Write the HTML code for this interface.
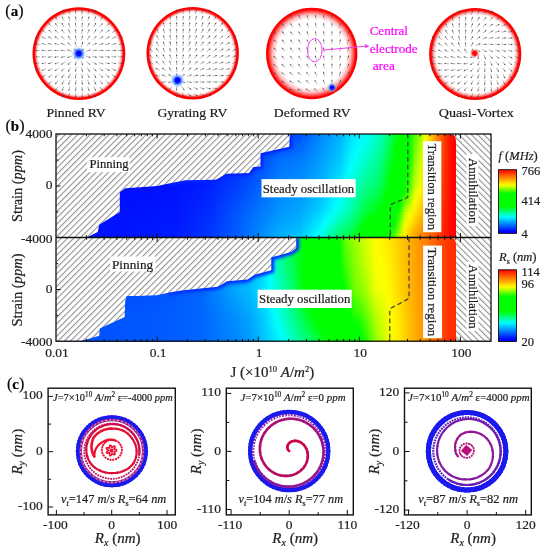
<!DOCTYPE html><html><head><meta charset="utf-8"><style>html,body{margin:0;padding:0;background:#fff;}svg{display:block;}text{font-family:'Liberation Serif', 'DejaVu Serif', serif;stroke:#1a1a1a;stroke-width:0.2px;}.mg text{stroke:#ff00ff;stroke-width:0.2px;}</style></head><body><svg width="543" height="550" viewBox="0 0 543 550"><defs><linearGradient id="g0" gradientUnits="userSpaceOnUse" x1="56" x2="491" y1="0" y2="0"><stop offset="0.000" stop-color="#000bff"/><stop offset="0.055" stop-color="#000cff"/><stop offset="0.110" stop-color="#000dff"/><stop offset="0.166" stop-color="#000eff"/><stop offset="0.221" stop-color="#000fff"/><stop offset="0.276" stop-color="#0010ff"/><stop offset="0.331" stop-color="#0015ff"/><stop offset="0.343" stop-color="#0016ff"/><stop offset="0.354" stop-color="#0016ff"/><stop offset="0.366" stop-color="#0018ff"/><stop offset="0.377" stop-color="#0019ff"/><stop offset="0.389" stop-color="#001aff"/><stop offset="0.400" stop-color="#001bff"/><stop offset="0.411" stop-color="#001cff"/><stop offset="0.423" stop-color="#001dff"/><stop offset="0.434" stop-color="#001fff"/><stop offset="0.446" stop-color="#0020ff"/><stop offset="0.457" stop-color="#0022ff"/><stop offset="0.469" stop-color="#0023ff"/><stop offset="0.480" stop-color="#0028ff"/><stop offset="0.492" stop-color="#002eff"/><stop offset="0.503" stop-color="#0034ff"/><stop offset="0.515" stop-color="#003bff"/><stop offset="0.526" stop-color="#0040ff"/><stop offset="0.538" stop-color="#0045ff"/><stop offset="0.549" stop-color="#004bff"/><stop offset="0.561" stop-color="#0050ff"/><stop offset="0.572" stop-color="#005eff"/><stop offset="0.584" stop-color="#006bff"/><stop offset="0.595" stop-color="#0079ff"/><stop offset="0.607" stop-color="#0086ff"/><stop offset="0.618" stop-color="#0091ff"/><stop offset="0.630" stop-color="#009dff"/><stop offset="0.641" stop-color="#00a8ff"/><stop offset="0.653" stop-color="#00b3ff"/><stop offset="0.664" stop-color="#00c9ff"/><stop offset="0.676" stop-color="#00dfff"/><stop offset="0.687" stop-color="#00eaff"/><stop offset="0.699" stop-color="#00f6ff"/><stop offset="0.710" stop-color="#00fffc"/><stop offset="0.722" stop-color="#00ffe7"/><stop offset="0.733" stop-color="#00ffd2"/><stop offset="0.745" stop-color="#00ffbc"/><stop offset="0.756" stop-color="#00ff91"/><stop offset="0.768" stop-color="#00ff66"/><stop offset="0.779" stop-color="#00ff1f"/><stop offset="0.791" stop-color="#00ff00"/><stop offset="0.802" stop-color="#00ff00"/><stop offset="0.814" stop-color="#00ff00"/><stop offset="0.825" stop-color="#52ff00"/><stop offset="0.837" stop-color="#97ff00"/><stop offset="0.848" stop-color="#eeff00"/><stop offset="0.860" stop-color="#ffd300"/><stop offset="0.871" stop-color="#ff9e00"/><stop offset="0.883" stop-color="#ff6a00"/><stop offset="0.894" stop-color="#ff3b00"/><stop offset="0.906" stop-color="#ff1100"/><stop offset="0.917" stop-color="#ff0000"/><stop offset="0.929" stop-color="#ff0000"/><stop offset="0.952" stop-color="#ff0000"/><stop offset="1.000" stop-color="#ff0000"/></linearGradient><linearGradient id="g1" gradientUnits="userSpaceOnUse" x1="56" x2="491" y1="0" y2="0"><stop offset="0.000" stop-color="#000bff"/><stop offset="0.055" stop-color="#000cff"/><stop offset="0.110" stop-color="#000dff"/><stop offset="0.166" stop-color="#000eff"/><stop offset="0.221" stop-color="#000fff"/><stop offset="0.276" stop-color="#0010ff"/><stop offset="0.331" stop-color="#0015ff"/><stop offset="0.343" stop-color="#0016ff"/><stop offset="0.354" stop-color="#0017ff"/><stop offset="0.366" stop-color="#0019ff"/><stop offset="0.377" stop-color="#001aff"/><stop offset="0.389" stop-color="#001bff"/><stop offset="0.400" stop-color="#001dff"/><stop offset="0.411" stop-color="#001eff"/><stop offset="0.423" stop-color="#0020ff"/><stop offset="0.434" stop-color="#0022ff"/><stop offset="0.446" stop-color="#0024ff"/><stop offset="0.457" stop-color="#0026ff"/><stop offset="0.469" stop-color="#0028ff"/><stop offset="0.480" stop-color="#002dff"/><stop offset="0.492" stop-color="#0034ff"/><stop offset="0.503" stop-color="#003aff"/><stop offset="0.515" stop-color="#0041ff"/><stop offset="0.526" stop-color="#0046ff"/><stop offset="0.538" stop-color="#004bff"/><stop offset="0.549" stop-color="#0050ff"/><stop offset="0.561" stop-color="#0055ff"/><stop offset="0.572" stop-color="#0062ff"/><stop offset="0.584" stop-color="#006fff"/><stop offset="0.595" stop-color="#007cff"/><stop offset="0.607" stop-color="#0089ff"/><stop offset="0.618" stop-color="#0094ff"/><stop offset="0.630" stop-color="#009fff"/><stop offset="0.641" stop-color="#00aaff"/><stop offset="0.653" stop-color="#00b5ff"/><stop offset="0.664" stop-color="#00cbff"/><stop offset="0.676" stop-color="#00e2ff"/><stop offset="0.687" stop-color="#00edff"/><stop offset="0.699" stop-color="#00f9ff"/><stop offset="0.710" stop-color="#00fff7"/><stop offset="0.722" stop-color="#00ffe1"/><stop offset="0.733" stop-color="#00ffcc"/><stop offset="0.745" stop-color="#00ffb7"/><stop offset="0.756" stop-color="#00ff8b"/><stop offset="0.768" stop-color="#00ff5f"/><stop offset="0.779" stop-color="#00ff18"/><stop offset="0.791" stop-color="#00ff00"/><stop offset="0.802" stop-color="#00ff00"/><stop offset="0.814" stop-color="#00ff00"/><stop offset="0.825" stop-color="#59ff00"/><stop offset="0.837" stop-color="#9cff00"/><stop offset="0.848" stop-color="#f2ff00"/><stop offset="0.860" stop-color="#ffd100"/><stop offset="0.871" stop-color="#ff9c00"/><stop offset="0.883" stop-color="#ff6800"/><stop offset="0.894" stop-color="#ff3a00"/><stop offset="0.906" stop-color="#ff1100"/><stop offset="0.917" stop-color="#ff0000"/><stop offset="0.929" stop-color="#ff0000"/><stop offset="0.952" stop-color="#ff0000"/><stop offset="1.000" stop-color="#ff0000"/></linearGradient><linearGradient id="g2" gradientUnits="userSpaceOnUse" x1="56" x2="491" y1="0" y2="0"><stop offset="0.000" stop-color="#000bff"/><stop offset="0.055" stop-color="#000cff"/><stop offset="0.110" stop-color="#000dff"/><stop offset="0.166" stop-color="#000eff"/><stop offset="0.221" stop-color="#000fff"/><stop offset="0.276" stop-color="#0010ff"/><stop offset="0.331" stop-color="#0015ff"/><stop offset="0.343" stop-color="#0017ff"/><stop offset="0.354" stop-color="#0018ff"/><stop offset="0.366" stop-color="#001aff"/><stop offset="0.377" stop-color="#001bff"/><stop offset="0.389" stop-color="#001dff"/><stop offset="0.400" stop-color="#001fff"/><stop offset="0.411" stop-color="#0020ff"/><stop offset="0.423" stop-color="#0022ff"/><stop offset="0.434" stop-color="#0025ff"/><stop offset="0.446" stop-color="#0028ff"/><stop offset="0.457" stop-color="#002aff"/><stop offset="0.469" stop-color="#002dff"/><stop offset="0.480" stop-color="#0032ff"/><stop offset="0.492" stop-color="#0039ff"/><stop offset="0.503" stop-color="#0040ff"/><stop offset="0.515" stop-color="#0048ff"/><stop offset="0.526" stop-color="#004cff"/><stop offset="0.538" stop-color="#0051ff"/><stop offset="0.549" stop-color="#0056ff"/><stop offset="0.561" stop-color="#005aff"/><stop offset="0.572" stop-color="#0067ff"/><stop offset="0.584" stop-color="#0073ff"/><stop offset="0.595" stop-color="#007fff"/><stop offset="0.607" stop-color="#008bff"/><stop offset="0.618" stop-color="#0097ff"/><stop offset="0.630" stop-color="#00a2ff"/><stop offset="0.641" stop-color="#00adff"/><stop offset="0.653" stop-color="#00b8ff"/><stop offset="0.664" stop-color="#00ceff"/><stop offset="0.676" stop-color="#00e4ff"/><stop offset="0.687" stop-color="#00f0ff"/><stop offset="0.699" stop-color="#00fcff"/><stop offset="0.710" stop-color="#00fff1"/><stop offset="0.722" stop-color="#00ffdc"/><stop offset="0.733" stop-color="#00ffc7"/><stop offset="0.745" stop-color="#00ffb1"/><stop offset="0.756" stop-color="#00ff85"/><stop offset="0.768" stop-color="#00ff58"/><stop offset="0.779" stop-color="#00ff11"/><stop offset="0.791" stop-color="#00ff00"/><stop offset="0.802" stop-color="#00ff00"/><stop offset="0.814" stop-color="#00ff00"/><stop offset="0.825" stop-color="#60ff00"/><stop offset="0.837" stop-color="#a2ff00"/><stop offset="0.848" stop-color="#f7ff00"/><stop offset="0.860" stop-color="#ffce00"/><stop offset="0.871" stop-color="#ff9a00"/><stop offset="0.883" stop-color="#ff6700"/><stop offset="0.894" stop-color="#ff3900"/><stop offset="0.906" stop-color="#ff1000"/><stop offset="0.917" stop-color="#ff0000"/><stop offset="0.929" stop-color="#ff0000"/><stop offset="0.952" stop-color="#ff0000"/><stop offset="1.000" stop-color="#ff0000"/></linearGradient><linearGradient id="g3" gradientUnits="userSpaceOnUse" x1="56" x2="491" y1="0" y2="0"><stop offset="0.000" stop-color="#000bff"/><stop offset="0.055" stop-color="#000cff"/><stop offset="0.110" stop-color="#000dff"/><stop offset="0.166" stop-color="#000eff"/><stop offset="0.221" stop-color="#000fff"/><stop offset="0.276" stop-color="#0010ff"/><stop offset="0.331" stop-color="#0016ff"/><stop offset="0.343" stop-color="#0017ff"/><stop offset="0.354" stop-color="#0018ff"/><stop offset="0.366" stop-color="#001aff"/><stop offset="0.377" stop-color="#001dff"/><stop offset="0.389" stop-color="#001fff"/><stop offset="0.400" stop-color="#0021ff"/><stop offset="0.411" stop-color="#0023ff"/><stop offset="0.423" stop-color="#0025ff"/><stop offset="0.434" stop-color="#0028ff"/><stop offset="0.446" stop-color="#002bff"/><stop offset="0.457" stop-color="#002fff"/><stop offset="0.469" stop-color="#0032ff"/><stop offset="0.480" stop-color="#0038ff"/><stop offset="0.492" stop-color="#003fff"/><stop offset="0.503" stop-color="#0047ff"/><stop offset="0.515" stop-color="#004eff"/><stop offset="0.526" stop-color="#0052ff"/><stop offset="0.538" stop-color="#0057ff"/><stop offset="0.549" stop-color="#005bff"/><stop offset="0.561" stop-color="#0060ff"/><stop offset="0.572" stop-color="#006bff"/><stop offset="0.584" stop-color="#0077ff"/><stop offset="0.595" stop-color="#0082ff"/><stop offset="0.607" stop-color="#008eff"/><stop offset="0.618" stop-color="#0099ff"/><stop offset="0.630" stop-color="#00a4ff"/><stop offset="0.641" stop-color="#00afff"/><stop offset="0.653" stop-color="#00baff"/><stop offset="0.664" stop-color="#00d1ff"/><stop offset="0.676" stop-color="#00e7ff"/><stop offset="0.687" stop-color="#00f3ff"/><stop offset="0.699" stop-color="#00fffe"/><stop offset="0.710" stop-color="#00ffec"/><stop offset="0.722" stop-color="#00ffd6"/><stop offset="0.733" stop-color="#00ffc1"/><stop offset="0.745" stop-color="#00ffac"/><stop offset="0.756" stop-color="#00ff7e"/><stop offset="0.768" stop-color="#00ff51"/><stop offset="0.779" stop-color="#00ff0a"/><stop offset="0.791" stop-color="#00ff00"/><stop offset="0.802" stop-color="#00ff00"/><stop offset="0.814" stop-color="#00ff00"/><stop offset="0.825" stop-color="#66ff00"/><stop offset="0.837" stop-color="#a7ff00"/><stop offset="0.848" stop-color="#fbff00"/><stop offset="0.860" stop-color="#ffcc00"/><stop offset="0.871" stop-color="#ff9800"/><stop offset="0.883" stop-color="#ff6500"/><stop offset="0.894" stop-color="#ff3800"/><stop offset="0.906" stop-color="#ff1000"/><stop offset="0.917" stop-color="#ff0000"/><stop offset="0.929" stop-color="#ff0000"/><stop offset="0.952" stop-color="#ff0000"/><stop offset="1.000" stop-color="#ff0000"/></linearGradient><linearGradient id="g4" gradientUnits="userSpaceOnUse" x1="56" x2="491" y1="0" y2="0"><stop offset="0.000" stop-color="#000bff"/><stop offset="0.055" stop-color="#000cff"/><stop offset="0.110" stop-color="#000dff"/><stop offset="0.166" stop-color="#000eff"/><stop offset="0.221" stop-color="#000fff"/><stop offset="0.276" stop-color="#0010ff"/><stop offset="0.331" stop-color="#0016ff"/><stop offset="0.343" stop-color="#0018ff"/><stop offset="0.354" stop-color="#0019ff"/><stop offset="0.366" stop-color="#001bff"/><stop offset="0.377" stop-color="#001eff"/><stop offset="0.389" stop-color="#0020ff"/><stop offset="0.400" stop-color="#0023ff"/><stop offset="0.411" stop-color="#0025ff"/><stop offset="0.423" stop-color="#0027ff"/><stop offset="0.434" stop-color="#002bff"/><stop offset="0.446" stop-color="#002fff"/><stop offset="0.457" stop-color="#0033ff"/><stop offset="0.469" stop-color="#0037ff"/><stop offset="0.480" stop-color="#003dff"/><stop offset="0.492" stop-color="#0045ff"/><stop offset="0.503" stop-color="#004dff"/><stop offset="0.515" stop-color="#0054ff"/><stop offset="0.526" stop-color="#0058ff"/><stop offset="0.538" stop-color="#005dff"/><stop offset="0.549" stop-color="#0061ff"/><stop offset="0.561" stop-color="#0065ff"/><stop offset="0.572" stop-color="#0070ff"/><stop offset="0.584" stop-color="#007bff"/><stop offset="0.595" stop-color="#0086ff"/><stop offset="0.607" stop-color="#0091ff"/><stop offset="0.618" stop-color="#009cff"/><stop offset="0.630" stop-color="#00a7ff"/><stop offset="0.641" stop-color="#00b2ff"/><stop offset="0.653" stop-color="#00bdff"/><stop offset="0.664" stop-color="#00d3ff"/><stop offset="0.676" stop-color="#00e9ff"/><stop offset="0.687" stop-color="#00f6ff"/><stop offset="0.699" stop-color="#00fff9"/><stop offset="0.710" stop-color="#00ffe6"/><stop offset="0.722" stop-color="#00ffd1"/><stop offset="0.733" stop-color="#00ffbc"/><stop offset="0.745" stop-color="#00ffa6"/><stop offset="0.756" stop-color="#00ff78"/><stop offset="0.768" stop-color="#00ff4a"/><stop offset="0.779" stop-color="#00ff03"/><stop offset="0.791" stop-color="#00ff00"/><stop offset="0.802" stop-color="#00ff00"/><stop offset="0.814" stop-color="#00ff00"/><stop offset="0.825" stop-color="#6dff00"/><stop offset="0.837" stop-color="#acff00"/><stop offset="0.848" stop-color="#ffff00"/><stop offset="0.860" stop-color="#ffc900"/><stop offset="0.871" stop-color="#ff9600"/><stop offset="0.883" stop-color="#ff6400"/><stop offset="0.894" stop-color="#ff3800"/><stop offset="0.906" stop-color="#ff1000"/><stop offset="0.917" stop-color="#ff0000"/><stop offset="0.929" stop-color="#ff0000"/><stop offset="0.952" stop-color="#ff0000"/><stop offset="1.000" stop-color="#ff0000"/></linearGradient><linearGradient id="g5" gradientUnits="userSpaceOnUse" x1="56" x2="491" y1="0" y2="0"><stop offset="0.000" stop-color="#000bff"/><stop offset="0.055" stop-color="#000cff"/><stop offset="0.110" stop-color="#000dff"/><stop offset="0.166" stop-color="#000eff"/><stop offset="0.221" stop-color="#000fff"/><stop offset="0.276" stop-color="#0010ff"/><stop offset="0.331" stop-color="#0017ff"/><stop offset="0.343" stop-color="#0018ff"/><stop offset="0.354" stop-color="#001aff"/><stop offset="0.366" stop-color="#001cff"/><stop offset="0.377" stop-color="#001fff"/><stop offset="0.389" stop-color="#0022ff"/><stop offset="0.400" stop-color="#0024ff"/><stop offset="0.411" stop-color="#0027ff"/><stop offset="0.423" stop-color="#002aff"/><stop offset="0.434" stop-color="#002eff"/><stop offset="0.446" stop-color="#0033ff"/><stop offset="0.457" stop-color="#0037ff"/><stop offset="0.469" stop-color="#003cff"/><stop offset="0.480" stop-color="#0042ff"/><stop offset="0.492" stop-color="#004bff"/><stop offset="0.503" stop-color="#0053ff"/><stop offset="0.515" stop-color="#005bff"/><stop offset="0.526" stop-color="#005fff"/><stop offset="0.538" stop-color="#0062ff"/><stop offset="0.549" stop-color="#0066ff"/><stop offset="0.561" stop-color="#006aff"/><stop offset="0.572" stop-color="#0074ff"/><stop offset="0.584" stop-color="#007fff"/><stop offset="0.595" stop-color="#0089ff"/><stop offset="0.607" stop-color="#0093ff"/><stop offset="0.618" stop-color="#009eff"/><stop offset="0.630" stop-color="#00a9ff"/><stop offset="0.641" stop-color="#00b4ff"/><stop offset="0.653" stop-color="#00c0ff"/><stop offset="0.664" stop-color="#00d6ff"/><stop offset="0.676" stop-color="#00ecff"/><stop offset="0.687" stop-color="#00f9ff"/><stop offset="0.699" stop-color="#00fff4"/><stop offset="0.710" stop-color="#00ffe1"/><stop offset="0.722" stop-color="#00ffcb"/><stop offset="0.733" stop-color="#00ffb6"/><stop offset="0.745" stop-color="#00ffa1"/><stop offset="0.756" stop-color="#00ff72"/><stop offset="0.768" stop-color="#00ff43"/><stop offset="0.779" stop-color="#00ff00"/><stop offset="0.791" stop-color="#00ff00"/><stop offset="0.802" stop-color="#00ff00"/><stop offset="0.814" stop-color="#00ff00"/><stop offset="0.825" stop-color="#74ff00"/><stop offset="0.837" stop-color="#b1ff00"/><stop offset="0.848" stop-color="#fffc00"/><stop offset="0.860" stop-color="#ffc700"/><stop offset="0.871" stop-color="#ff9400"/><stop offset="0.883" stop-color="#ff6200"/><stop offset="0.894" stop-color="#ff3700"/><stop offset="0.906" stop-color="#ff1000"/><stop offset="0.917" stop-color="#ff0000"/><stop offset="0.929" stop-color="#ff0000"/><stop offset="0.952" stop-color="#ff0000"/><stop offset="1.000" stop-color="#ff0000"/></linearGradient><linearGradient id="g6" gradientUnits="userSpaceOnUse" x1="56" x2="491" y1="0" y2="0"><stop offset="0.000" stop-color="#000bff"/><stop offset="0.055" stop-color="#000cff"/><stop offset="0.110" stop-color="#000dff"/><stop offset="0.166" stop-color="#000eff"/><stop offset="0.221" stop-color="#000fff"/><stop offset="0.276" stop-color="#0010ff"/><stop offset="0.331" stop-color="#0017ff"/><stop offset="0.343" stop-color="#0019ff"/><stop offset="0.354" stop-color="#001aff"/><stop offset="0.366" stop-color="#001dff"/><stop offset="0.377" stop-color="#0020ff"/><stop offset="0.389" stop-color="#0023ff"/><stop offset="0.400" stop-color="#0026ff"/><stop offset="0.411" stop-color="#0029ff"/><stop offset="0.423" stop-color="#002cff"/><stop offset="0.434" stop-color="#0031ff"/><stop offset="0.446" stop-color="#0037ff"/><stop offset="0.457" stop-color="#003cff"/><stop offset="0.469" stop-color="#0041ff"/><stop offset="0.480" stop-color="#0048ff"/><stop offset="0.492" stop-color="#0050ff"/><stop offset="0.503" stop-color="#0059ff"/><stop offset="0.515" stop-color="#0061ff"/><stop offset="0.526" stop-color="#0065ff"/><stop offset="0.538" stop-color="#0068ff"/><stop offset="0.549" stop-color="#006cff"/><stop offset="0.561" stop-color="#006fff"/><stop offset="0.572" stop-color="#0079ff"/><stop offset="0.584" stop-color="#0082ff"/><stop offset="0.595" stop-color="#008cff"/><stop offset="0.607" stop-color="#0096ff"/><stop offset="0.618" stop-color="#00a1ff"/><stop offset="0.630" stop-color="#00acff"/><stop offset="0.641" stop-color="#00b7ff"/><stop offset="0.653" stop-color="#00c2ff"/><stop offset="0.664" stop-color="#00d8ff"/><stop offset="0.676" stop-color="#00eeff"/><stop offset="0.687" stop-color="#00fcff"/><stop offset="0.699" stop-color="#00ffef"/><stop offset="0.710" stop-color="#00ffdb"/><stop offset="0.722" stop-color="#00ffc6"/><stop offset="0.733" stop-color="#00ffb0"/><stop offset="0.745" stop-color="#00ff9b"/><stop offset="0.756" stop-color="#00ff6c"/><stop offset="0.768" stop-color="#00ff3c"/><stop offset="0.779" stop-color="#00ff00"/><stop offset="0.791" stop-color="#00ff00"/><stop offset="0.802" stop-color="#00ff00"/><stop offset="0.814" stop-color="#00ff00"/><stop offset="0.825" stop-color="#7bff00"/><stop offset="0.837" stop-color="#b6ff00"/><stop offset="0.848" stop-color="#fffa00"/><stop offset="0.860" stop-color="#ffc400"/><stop offset="0.871" stop-color="#ff9200"/><stop offset="0.883" stop-color="#ff6100"/><stop offset="0.894" stop-color="#ff3600"/><stop offset="0.906" stop-color="#ff0f00"/><stop offset="0.917" stop-color="#ff0000"/><stop offset="0.929" stop-color="#ff0000"/><stop offset="0.952" stop-color="#ff0000"/><stop offset="1.000" stop-color="#ff0000"/></linearGradient><linearGradient id="g7" gradientUnits="userSpaceOnUse" x1="56" x2="491" y1="0" y2="0"><stop offset="0.000" stop-color="#000bff"/><stop offset="0.055" stop-color="#000cff"/><stop offset="0.110" stop-color="#000dff"/><stop offset="0.166" stop-color="#000eff"/><stop offset="0.221" stop-color="#000fff"/><stop offset="0.276" stop-color="#0010ff"/><stop offset="0.331" stop-color="#0018ff"/><stop offset="0.343" stop-color="#0019ff"/><stop offset="0.354" stop-color="#001bff"/><stop offset="0.366" stop-color="#001eff"/><stop offset="0.377" stop-color="#0022ff"/><stop offset="0.389" stop-color="#0025ff"/><stop offset="0.400" stop-color="#0028ff"/><stop offset="0.411" stop-color="#002cff"/><stop offset="0.423" stop-color="#002fff"/><stop offset="0.434" stop-color="#0035ff"/><stop offset="0.446" stop-color="#003aff"/><stop offset="0.457" stop-color="#0040ff"/><stop offset="0.469" stop-color="#0046ff"/><stop offset="0.480" stop-color="#004dff"/><stop offset="0.492" stop-color="#0056ff"/><stop offset="0.503" stop-color="#005fff"/><stop offset="0.515" stop-color="#0068ff"/><stop offset="0.526" stop-color="#006bff"/><stop offset="0.538" stop-color="#006eff"/><stop offset="0.549" stop-color="#0071ff"/><stop offset="0.561" stop-color="#0074ff"/><stop offset="0.572" stop-color="#007dff"/><stop offset="0.584" stop-color="#0086ff"/><stop offset="0.595" stop-color="#008fff"/><stop offset="0.607" stop-color="#0098ff"/><stop offset="0.618" stop-color="#00a3ff"/><stop offset="0.630" stop-color="#00aeff"/><stop offset="0.641" stop-color="#00baff"/><stop offset="0.653" stop-color="#00c5ff"/><stop offset="0.664" stop-color="#00dbff"/><stop offset="0.676" stop-color="#00f1ff"/><stop offset="0.687" stop-color="#00ffff"/><stop offset="0.699" stop-color="#00ffea"/><stop offset="0.710" stop-color="#00ffd5"/><stop offset="0.722" stop-color="#00ffc0"/><stop offset="0.733" stop-color="#00ffab"/><stop offset="0.745" stop-color="#00ff96"/><stop offset="0.756" stop-color="#00ff65"/><stop offset="0.768" stop-color="#00ff35"/><stop offset="0.779" stop-color="#00ff00"/><stop offset="0.791" stop-color="#00ff00"/><stop offset="0.802" stop-color="#00ff00"/><stop offset="0.814" stop-color="#02ff00"/><stop offset="0.825" stop-color="#82ff00"/><stop offset="0.837" stop-color="#bcff00"/><stop offset="0.848" stop-color="#fff700"/><stop offset="0.860" stop-color="#ffc200"/><stop offset="0.871" stop-color="#ff9000"/><stop offset="0.883" stop-color="#ff5f00"/><stop offset="0.894" stop-color="#ff3500"/><stop offset="0.906" stop-color="#ff0f00"/><stop offset="0.917" stop-color="#ff0000"/><stop offset="0.929" stop-color="#ff0000"/><stop offset="0.952" stop-color="#ff0000"/><stop offset="1.000" stop-color="#ff0000"/></linearGradient><linearGradient id="g8" gradientUnits="userSpaceOnUse" x1="56" x2="491" y1="0" y2="0"><stop offset="0.000" stop-color="#000bff"/><stop offset="0.055" stop-color="#000cff"/><stop offset="0.110" stop-color="#000dff"/><stop offset="0.166" stop-color="#000eff"/><stop offset="0.221" stop-color="#000fff"/><stop offset="0.276" stop-color="#0010ff"/><stop offset="0.331" stop-color="#0018ff"/><stop offset="0.343" stop-color="#001aff"/><stop offset="0.354" stop-color="#001cff"/><stop offset="0.366" stop-color="#001fff"/><stop offset="0.377" stop-color="#0023ff"/><stop offset="0.389" stop-color="#0027ff"/><stop offset="0.400" stop-color="#002aff"/><stop offset="0.411" stop-color="#002eff"/><stop offset="0.423" stop-color="#0032ff"/><stop offset="0.434" stop-color="#0038ff"/><stop offset="0.446" stop-color="#003eff"/><stop offset="0.457" stop-color="#0044ff"/><stop offset="0.469" stop-color="#004aff"/><stop offset="0.480" stop-color="#0052ff"/><stop offset="0.492" stop-color="#005cff"/><stop offset="0.503" stop-color="#0065ff"/><stop offset="0.515" stop-color="#006eff"/><stop offset="0.526" stop-color="#0071ff"/><stop offset="0.538" stop-color="#0074ff"/><stop offset="0.549" stop-color="#0077ff"/><stop offset="0.561" stop-color="#0079ff"/><stop offset="0.572" stop-color="#0082ff"/><stop offset="0.584" stop-color="#008aff"/><stop offset="0.595" stop-color="#0093ff"/><stop offset="0.607" stop-color="#009bff"/><stop offset="0.618" stop-color="#00a6ff"/><stop offset="0.630" stop-color="#00b1ff"/><stop offset="0.641" stop-color="#00bcff"/><stop offset="0.653" stop-color="#00c7ff"/><stop offset="0.664" stop-color="#00ddff"/><stop offset="0.676" stop-color="#00f4ff"/><stop offset="0.687" stop-color="#00fffa"/><stop offset="0.699" stop-color="#00ffe5"/><stop offset="0.710" stop-color="#00ffd0"/><stop offset="0.722" stop-color="#00ffbb"/><stop offset="0.733" stop-color="#00ffa5"/><stop offset="0.745" stop-color="#00ff90"/><stop offset="0.756" stop-color="#00ff5f"/><stop offset="0.768" stop-color="#00ff2e"/><stop offset="0.779" stop-color="#00ff00"/><stop offset="0.791" stop-color="#00ff00"/><stop offset="0.802" stop-color="#00ff00"/><stop offset="0.814" stop-color="#09ff00"/><stop offset="0.825" stop-color="#88ff00"/><stop offset="0.837" stop-color="#c1ff00"/><stop offset="0.848" stop-color="#fff500"/><stop offset="0.860" stop-color="#ffc000"/><stop offset="0.871" stop-color="#ff8e00"/><stop offset="0.883" stop-color="#ff5e00"/><stop offset="0.894" stop-color="#ff3400"/><stop offset="0.906" stop-color="#ff0f00"/><stop offset="0.917" stop-color="#ff0000"/><stop offset="0.929" stop-color="#ff0000"/><stop offset="0.952" stop-color="#ff0000"/><stop offset="1.000" stop-color="#ff0000"/></linearGradient><linearGradient id="g9" gradientUnits="userSpaceOnUse" x1="56" x2="491" y1="0" y2="0"><stop offset="0.000" stop-color="#000bff"/><stop offset="0.055" stop-color="#000cff"/><stop offset="0.110" stop-color="#000dff"/><stop offset="0.166" stop-color="#000eff"/><stop offset="0.221" stop-color="#000fff"/><stop offset="0.276" stop-color="#0010ff"/><stop offset="0.331" stop-color="#0018ff"/><stop offset="0.343" stop-color="#001aff"/><stop offset="0.354" stop-color="#001cff"/><stop offset="0.366" stop-color="#0020ff"/><stop offset="0.377" stop-color="#0024ff"/><stop offset="0.389" stop-color="#0028ff"/><stop offset="0.400" stop-color="#002cff"/><stop offset="0.411" stop-color="#0030ff"/><stop offset="0.423" stop-color="#0034ff"/><stop offset="0.434" stop-color="#003aff"/><stop offset="0.446" stop-color="#0040ff"/><stop offset="0.457" stop-color="#0047ff"/><stop offset="0.469" stop-color="#004dff"/><stop offset="0.480" stop-color="#0055ff"/><stop offset="0.492" stop-color="#005fff"/><stop offset="0.503" stop-color="#0068ff"/><stop offset="0.515" stop-color="#0071ff"/><stop offset="0.526" stop-color="#0074ff"/><stop offset="0.538" stop-color="#0077ff"/><stop offset="0.549" stop-color="#0079ff"/><stop offset="0.561" stop-color="#007cff"/><stop offset="0.572" stop-color="#0085ff"/><stop offset="0.584" stop-color="#008dff"/><stop offset="0.595" stop-color="#0095ff"/><stop offset="0.607" stop-color="#009dff"/><stop offset="0.618" stop-color="#00a9ff"/><stop offset="0.630" stop-color="#00b4ff"/><stop offset="0.641" stop-color="#00c0ff"/><stop offset="0.653" stop-color="#00cbff"/><stop offset="0.664" stop-color="#00e1ff"/><stop offset="0.676" stop-color="#00f7ff"/><stop offset="0.687" stop-color="#00fff4"/><stop offset="0.699" stop-color="#00ffdf"/><stop offset="0.710" stop-color="#00ffc9"/><stop offset="0.722" stop-color="#00ffb4"/><stop offset="0.733" stop-color="#00ff9f"/><stop offset="0.745" stop-color="#00ff8b"/><stop offset="0.756" stop-color="#00ff59"/><stop offset="0.768" stop-color="#00ff27"/><stop offset="0.779" stop-color="#00ff00"/><stop offset="0.791" stop-color="#00ff00"/><stop offset="0.802" stop-color="#00ff00"/><stop offset="0.814" stop-color="#10ff00"/><stop offset="0.825" stop-color="#8fff00"/><stop offset="0.837" stop-color="#c6ff00"/><stop offset="0.848" stop-color="#fff200"/><stop offset="0.860" stop-color="#ffbd00"/><stop offset="0.871" stop-color="#ff8b00"/><stop offset="0.883" stop-color="#ff5c00"/><stop offset="0.894" stop-color="#ff3300"/><stop offset="0.906" stop-color="#ff0f00"/><stop offset="0.917" stop-color="#ff0000"/><stop offset="0.929" stop-color="#ff0000"/><stop offset="0.952" stop-color="#ff0000"/><stop offset="1.000" stop-color="#ff0000"/></linearGradient><linearGradient id="g10" gradientUnits="userSpaceOnUse" x1="56" x2="491" y1="0" y2="0"><stop offset="0.000" stop-color="#000bff"/><stop offset="0.055" stop-color="#000cff"/><stop offset="0.110" stop-color="#000dff"/><stop offset="0.166" stop-color="#000eff"/><stop offset="0.221" stop-color="#000fff"/><stop offset="0.276" stop-color="#0010ff"/><stop offset="0.331" stop-color="#0019ff"/><stop offset="0.343" stop-color="#001bff"/><stop offset="0.354" stop-color="#001dff"/><stop offset="0.366" stop-color="#0021ff"/><stop offset="0.377" stop-color="#0025ff"/><stop offset="0.389" stop-color="#0029ff"/><stop offset="0.400" stop-color="#002dff"/><stop offset="0.411" stop-color="#0031ff"/><stop offset="0.423" stop-color="#0036ff"/><stop offset="0.434" stop-color="#003cff"/><stop offset="0.446" stop-color="#0043ff"/><stop offset="0.457" stop-color="#0049ff"/><stop offset="0.469" stop-color="#0050ff"/><stop offset="0.480" stop-color="#0058ff"/><stop offset="0.492" stop-color="#0061ff"/><stop offset="0.503" stop-color="#006aff"/><stop offset="0.515" stop-color="#0074ff"/><stop offset="0.526" stop-color="#0076ff"/><stop offset="0.538" stop-color="#0079ff"/><stop offset="0.549" stop-color="#007cff"/><stop offset="0.561" stop-color="#007fff"/><stop offset="0.572" stop-color="#0087ff"/><stop offset="0.584" stop-color="#008fff"/><stop offset="0.595" stop-color="#0098ff"/><stop offset="0.607" stop-color="#00a0ff"/><stop offset="0.618" stop-color="#00acff"/><stop offset="0.630" stop-color="#00b7ff"/><stop offset="0.641" stop-color="#00c3ff"/><stop offset="0.653" stop-color="#00cfff"/><stop offset="0.664" stop-color="#00e5ff"/><stop offset="0.676" stop-color="#00fbff"/><stop offset="0.687" stop-color="#00ffee"/><stop offset="0.699" stop-color="#00ffd8"/><stop offset="0.710" stop-color="#00ffc1"/><stop offset="0.722" stop-color="#00ffad"/><stop offset="0.733" stop-color="#00ff99"/><stop offset="0.745" stop-color="#00ff85"/><stop offset="0.756" stop-color="#00ff53"/><stop offset="0.768" stop-color="#00ff20"/><stop offset="0.779" stop-color="#00ff00"/><stop offset="0.791" stop-color="#00ff00"/><stop offset="0.802" stop-color="#00ff00"/><stop offset="0.814" stop-color="#17ff00"/><stop offset="0.825" stop-color="#96ff00"/><stop offset="0.837" stop-color="#cbff00"/><stop offset="0.848" stop-color="#fff000"/><stop offset="0.860" stop-color="#ffbb00"/><stop offset="0.871" stop-color="#ff8900"/><stop offset="0.883" stop-color="#ff5b00"/><stop offset="0.894" stop-color="#ff3200"/><stop offset="0.906" stop-color="#ff0e00"/><stop offset="0.917" stop-color="#ff0000"/><stop offset="0.929" stop-color="#ff0000"/><stop offset="0.952" stop-color="#ff0000"/><stop offset="1.000" stop-color="#ff0000"/></linearGradient><linearGradient id="g11" gradientUnits="userSpaceOnUse" x1="56" x2="491" y1="0" y2="0"><stop offset="0.000" stop-color="#000bff"/><stop offset="0.055" stop-color="#000cff"/><stop offset="0.110" stop-color="#000dff"/><stop offset="0.166" stop-color="#000eff"/><stop offset="0.221" stop-color="#000fff"/><stop offset="0.276" stop-color="#0010ff"/><stop offset="0.331" stop-color="#0019ff"/><stop offset="0.343" stop-color="#001bff"/><stop offset="0.354" stop-color="#001eff"/><stop offset="0.366" stop-color="#0022ff"/><stop offset="0.377" stop-color="#0026ff"/><stop offset="0.389" stop-color="#002aff"/><stop offset="0.400" stop-color="#002fff"/><stop offset="0.411" stop-color="#0033ff"/><stop offset="0.423" stop-color="#0037ff"/><stop offset="0.434" stop-color="#003eff"/><stop offset="0.446" stop-color="#0045ff"/><stop offset="0.457" stop-color="#004cff"/><stop offset="0.469" stop-color="#0052ff"/><stop offset="0.480" stop-color="#005bff"/><stop offset="0.492" stop-color="#0064ff"/><stop offset="0.503" stop-color="#006dff"/><stop offset="0.515" stop-color="#0076ff"/><stop offset="0.526" stop-color="#0079ff"/><stop offset="0.538" stop-color="#007cff"/><stop offset="0.549" stop-color="#007fff"/><stop offset="0.561" stop-color="#0081ff"/><stop offset="0.572" stop-color="#008aff"/><stop offset="0.584" stop-color="#0092ff"/><stop offset="0.595" stop-color="#009aff"/><stop offset="0.607" stop-color="#00a3ff"/><stop offset="0.618" stop-color="#00afff"/><stop offset="0.630" stop-color="#00bbff"/><stop offset="0.641" stop-color="#00c7ff"/><stop offset="0.653" stop-color="#00d3ff"/><stop offset="0.664" stop-color="#00e9ff"/><stop offset="0.676" stop-color="#00ffff"/><stop offset="0.687" stop-color="#00ffe8"/><stop offset="0.699" stop-color="#00ffd1"/><stop offset="0.710" stop-color="#00ffba"/><stop offset="0.722" stop-color="#00ffa6"/><stop offset="0.733" stop-color="#00ff93"/><stop offset="0.745" stop-color="#00ff80"/><stop offset="0.756" stop-color="#00ff4c"/><stop offset="0.768" stop-color="#00ff19"/><stop offset="0.779" stop-color="#00ff00"/><stop offset="0.791" stop-color="#00ff00"/><stop offset="0.802" stop-color="#00ff00"/><stop offset="0.814" stop-color="#1dff00"/><stop offset="0.825" stop-color="#9dff00"/><stop offset="0.837" stop-color="#d0ff00"/><stop offset="0.848" stop-color="#ffed00"/><stop offset="0.860" stop-color="#ffb800"/><stop offset="0.871" stop-color="#ff8700"/><stop offset="0.883" stop-color="#ff5900"/><stop offset="0.894" stop-color="#ff3200"/><stop offset="0.906" stop-color="#ff0e00"/><stop offset="0.917" stop-color="#ff0000"/><stop offset="0.929" stop-color="#ff0000"/><stop offset="0.952" stop-color="#ff0000"/><stop offset="1.000" stop-color="#ff0000"/></linearGradient><linearGradient id="g12" gradientUnits="userSpaceOnUse" x1="56" x2="491" y1="0" y2="0"><stop offset="0.000" stop-color="#000bff"/><stop offset="0.055" stop-color="#000cff"/><stop offset="0.110" stop-color="#000dff"/><stop offset="0.166" stop-color="#000eff"/><stop offset="0.221" stop-color="#000fff"/><stop offset="0.276" stop-color="#0010ff"/><stop offset="0.331" stop-color="#001aff"/><stop offset="0.343" stop-color="#001cff"/><stop offset="0.354" stop-color="#001eff"/><stop offset="0.366" stop-color="#0023ff"/><stop offset="0.377" stop-color="#0027ff"/><stop offset="0.389" stop-color="#002cff"/><stop offset="0.400" stop-color="#0030ff"/><stop offset="0.411" stop-color="#0035ff"/><stop offset="0.423" stop-color="#0039ff"/><stop offset="0.434" stop-color="#0040ff"/><stop offset="0.446" stop-color="#0047ff"/><stop offset="0.457" stop-color="#004eff"/><stop offset="0.469" stop-color="#0055ff"/><stop offset="0.480" stop-color="#005dff"/><stop offset="0.492" stop-color="#0066ff"/><stop offset="0.503" stop-color="#0070ff"/><stop offset="0.515" stop-color="#0079ff"/><stop offset="0.526" stop-color="#007cff"/><stop offset="0.538" stop-color="#007eff"/><stop offset="0.549" stop-color="#0081ff"/><stop offset="0.561" stop-color="#0084ff"/><stop offset="0.572" stop-color="#008cff"/><stop offset="0.584" stop-color="#0095ff"/><stop offset="0.595" stop-color="#009dff"/><stop offset="0.607" stop-color="#00a5ff"/><stop offset="0.618" stop-color="#00b2ff"/><stop offset="0.630" stop-color="#00beff"/><stop offset="0.641" stop-color="#00caff"/><stop offset="0.653" stop-color="#00d7ff"/><stop offset="0.664" stop-color="#00edff"/><stop offset="0.676" stop-color="#00fff9"/><stop offset="0.687" stop-color="#00ffe2"/><stop offset="0.699" stop-color="#00ffca"/><stop offset="0.710" stop-color="#00ffb3"/><stop offset="0.722" stop-color="#00ffa0"/><stop offset="0.733" stop-color="#00ff8d"/><stop offset="0.745" stop-color="#00ff7a"/><stop offset="0.756" stop-color="#00ff46"/><stop offset="0.768" stop-color="#00ff12"/><stop offset="0.779" stop-color="#00ff00"/><stop offset="0.791" stop-color="#00ff00"/><stop offset="0.802" stop-color="#00ff00"/><stop offset="0.814" stop-color="#24ff00"/><stop offset="0.825" stop-color="#a4ff00"/><stop offset="0.837" stop-color="#d5ff00"/><stop offset="0.848" stop-color="#ffeb00"/><stop offset="0.860" stop-color="#ffb600"/><stop offset="0.871" stop-color="#ff8500"/><stop offset="0.883" stop-color="#ff5800"/><stop offset="0.894" stop-color="#ff3100"/><stop offset="0.906" stop-color="#ff0e00"/><stop offset="0.917" stop-color="#ff0000"/><stop offset="0.929" stop-color="#ff0000"/><stop offset="0.952" stop-color="#ff0000"/><stop offset="1.000" stop-color="#ff0000"/></linearGradient><linearGradient id="g13" gradientUnits="userSpaceOnUse" x1="56" x2="491" y1="0" y2="0"><stop offset="0.000" stop-color="#000bff"/><stop offset="0.055" stop-color="#000cff"/><stop offset="0.110" stop-color="#000dff"/><stop offset="0.166" stop-color="#000eff"/><stop offset="0.221" stop-color="#000fff"/><stop offset="0.276" stop-color="#0010ff"/><stop offset="0.331" stop-color="#001aff"/><stop offset="0.343" stop-color="#001cff"/><stop offset="0.354" stop-color="#001fff"/><stop offset="0.366" stop-color="#0024ff"/><stop offset="0.377" stop-color="#0028ff"/><stop offset="0.389" stop-color="#002dff"/><stop offset="0.400" stop-color="#0032ff"/><stop offset="0.411" stop-color="#0037ff"/><stop offset="0.423" stop-color="#003bff"/><stop offset="0.434" stop-color="#0042ff"/><stop offset="0.446" stop-color="#0049ff"/><stop offset="0.457" stop-color="#0050ff"/><stop offset="0.469" stop-color="#0057ff"/><stop offset="0.480" stop-color="#0060ff"/><stop offset="0.492" stop-color="#0069ff"/><stop offset="0.503" stop-color="#0072ff"/><stop offset="0.515" stop-color="#007bff"/><stop offset="0.526" stop-color="#007eff"/><stop offset="0.538" stop-color="#0081ff"/><stop offset="0.549" stop-color="#0084ff"/><stop offset="0.561" stop-color="#0086ff"/><stop offset="0.572" stop-color="#008fff"/><stop offset="0.584" stop-color="#0097ff"/><stop offset="0.595" stop-color="#009fff"/><stop offset="0.607" stop-color="#00a8ff"/><stop offset="0.618" stop-color="#00b4ff"/><stop offset="0.630" stop-color="#00c1ff"/><stop offset="0.641" stop-color="#00ceff"/><stop offset="0.653" stop-color="#00daff"/><stop offset="0.664" stop-color="#00f1ff"/><stop offset="0.676" stop-color="#00fff4"/><stop offset="0.687" stop-color="#00ffdc"/><stop offset="0.699" stop-color="#00ffc3"/><stop offset="0.710" stop-color="#00ffab"/><stop offset="0.722" stop-color="#00ff99"/><stop offset="0.733" stop-color="#00ff87"/><stop offset="0.745" stop-color="#00ff74"/><stop offset="0.756" stop-color="#00ff40"/><stop offset="0.768" stop-color="#00ff0b"/><stop offset="0.779" stop-color="#00ff00"/><stop offset="0.791" stop-color="#00ff00"/><stop offset="0.802" stop-color="#00ff00"/><stop offset="0.814" stop-color="#2bff00"/><stop offset="0.825" stop-color="#abff00"/><stop offset="0.837" stop-color="#dbff00"/><stop offset="0.848" stop-color="#ffe800"/><stop offset="0.860" stop-color="#ffb300"/><stop offset="0.871" stop-color="#ff8300"/><stop offset="0.883" stop-color="#ff5600"/><stop offset="0.894" stop-color="#ff3000"/><stop offset="0.906" stop-color="#ff0e00"/><stop offset="0.917" stop-color="#ff0000"/><stop offset="0.929" stop-color="#ff0000"/><stop offset="0.952" stop-color="#ff0000"/><stop offset="1.000" stop-color="#ff0000"/></linearGradient><linearGradient id="g14" gradientUnits="userSpaceOnUse" x1="56" x2="491" y1="0" y2="0"><stop offset="0.000" stop-color="#000bff"/><stop offset="0.055" stop-color="#000cff"/><stop offset="0.110" stop-color="#000dff"/><stop offset="0.166" stop-color="#000eff"/><stop offset="0.221" stop-color="#000fff"/><stop offset="0.276" stop-color="#0010ff"/><stop offset="0.331" stop-color="#001bff"/><stop offset="0.343" stop-color="#001dff"/><stop offset="0.354" stop-color="#001fff"/><stop offset="0.366" stop-color="#0024ff"/><stop offset="0.377" stop-color="#0029ff"/><stop offset="0.389" stop-color="#002eff"/><stop offset="0.400" stop-color="#0033ff"/><stop offset="0.411" stop-color="#0038ff"/><stop offset="0.423" stop-color="#003dff"/><stop offset="0.434" stop-color="#0044ff"/><stop offset="0.446" stop-color="#004cff"/><stop offset="0.457" stop-color="#0053ff"/><stop offset="0.469" stop-color="#005aff"/><stop offset="0.480" stop-color="#0062ff"/><stop offset="0.492" stop-color="#006bff"/><stop offset="0.503" stop-color="#0075ff"/><stop offset="0.515" stop-color="#007eff"/><stop offset="0.526" stop-color="#0081ff"/><stop offset="0.538" stop-color="#0084ff"/><stop offset="0.549" stop-color="#0086ff"/><stop offset="0.561" stop-color="#0089ff"/><stop offset="0.572" stop-color="#0091ff"/><stop offset="0.584" stop-color="#009aff"/><stop offset="0.595" stop-color="#00a2ff"/><stop offset="0.607" stop-color="#00aaff"/><stop offset="0.618" stop-color="#00b7ff"/><stop offset="0.630" stop-color="#00c4ff"/><stop offset="0.641" stop-color="#00d1ff"/><stop offset="0.653" stop-color="#00deff"/><stop offset="0.664" stop-color="#00f4ff"/><stop offset="0.676" stop-color="#00ffee"/><stop offset="0.687" stop-color="#00ffd6"/><stop offset="0.699" stop-color="#00ffbd"/><stop offset="0.710" stop-color="#00ffa4"/><stop offset="0.722" stop-color="#00ff92"/><stop offset="0.733" stop-color="#00ff81"/><stop offset="0.745" stop-color="#00ff6f"/><stop offset="0.756" stop-color="#00ff3a"/><stop offset="0.768" stop-color="#00ff04"/><stop offset="0.779" stop-color="#00ff00"/><stop offset="0.791" stop-color="#00ff00"/><stop offset="0.802" stop-color="#00ff00"/><stop offset="0.814" stop-color="#32ff00"/><stop offset="0.825" stop-color="#b1ff00"/><stop offset="0.837" stop-color="#e0ff00"/><stop offset="0.848" stop-color="#ffe600"/><stop offset="0.860" stop-color="#ffb100"/><stop offset="0.871" stop-color="#ff8100"/><stop offset="0.883" stop-color="#ff5500"/><stop offset="0.894" stop-color="#ff2f00"/><stop offset="0.906" stop-color="#ff0d00"/><stop offset="0.917" stop-color="#ff0000"/><stop offset="0.929" stop-color="#ff0000"/><stop offset="0.952" stop-color="#ff0000"/><stop offset="1.000" stop-color="#ff0000"/></linearGradient><linearGradient id="g15" gradientUnits="userSpaceOnUse" x1="56" x2="491" y1="0" y2="0"><stop offset="0.000" stop-color="#000bff"/><stop offset="0.055" stop-color="#000cff"/><stop offset="0.110" stop-color="#000dff"/><stop offset="0.166" stop-color="#000eff"/><stop offset="0.221" stop-color="#000fff"/><stop offset="0.276" stop-color="#0010ff"/><stop offset="0.331" stop-color="#001bff"/><stop offset="0.343" stop-color="#001eff"/><stop offset="0.354" stop-color="#0020ff"/><stop offset="0.366" stop-color="#0025ff"/><stop offset="0.377" stop-color="#002aff"/><stop offset="0.389" stop-color="#0030ff"/><stop offset="0.400" stop-color="#0035ff"/><stop offset="0.411" stop-color="#003aff"/><stop offset="0.423" stop-color="#003fff"/><stop offset="0.434" stop-color="#0046ff"/><stop offset="0.446" stop-color="#004eff"/><stop offset="0.457" stop-color="#0055ff"/><stop offset="0.469" stop-color="#005cff"/><stop offset="0.480" stop-color="#0065ff"/><stop offset="0.492" stop-color="#006eff"/><stop offset="0.503" stop-color="#0077ff"/><stop offset="0.515" stop-color="#0081ff"/><stop offset="0.526" stop-color="#0083ff"/><stop offset="0.538" stop-color="#0086ff"/><stop offset="0.549" stop-color="#0089ff"/><stop offset="0.561" stop-color="#008cff"/><stop offset="0.572" stop-color="#0094ff"/><stop offset="0.584" stop-color="#009cff"/><stop offset="0.595" stop-color="#00a5ff"/><stop offset="0.607" stop-color="#00adff"/><stop offset="0.618" stop-color="#00baff"/><stop offset="0.630" stop-color="#00c7ff"/><stop offset="0.641" stop-color="#00d5ff"/><stop offset="0.653" stop-color="#00e2ff"/><stop offset="0.664" stop-color="#00f8ff"/><stop offset="0.676" stop-color="#00ffe9"/><stop offset="0.687" stop-color="#00ffcf"/><stop offset="0.699" stop-color="#00ffb6"/><stop offset="0.710" stop-color="#00ff9c"/><stop offset="0.722" stop-color="#00ff8b"/><stop offset="0.733" stop-color="#00ff7a"/><stop offset="0.745" stop-color="#00ff69"/><stop offset="0.756" stop-color="#00ff33"/><stop offset="0.768" stop-color="#00ff00"/><stop offset="0.779" stop-color="#00ff00"/><stop offset="0.791" stop-color="#00ff00"/><stop offset="0.802" stop-color="#00ff00"/><stop offset="0.814" stop-color="#39ff00"/><stop offset="0.825" stop-color="#b8ff00"/><stop offset="0.837" stop-color="#e5ff00"/><stop offset="0.848" stop-color="#ffe300"/><stop offset="0.860" stop-color="#ffae00"/><stop offset="0.871" stop-color="#ff7f00"/><stop offset="0.883" stop-color="#ff5300"/><stop offset="0.894" stop-color="#ff2e00"/><stop offset="0.906" stop-color="#ff0d00"/><stop offset="0.917" stop-color="#ff0000"/><stop offset="0.929" stop-color="#ff0000"/><stop offset="0.952" stop-color="#ff0000"/><stop offset="1.000" stop-color="#ff0000"/></linearGradient><linearGradient id="g16" gradientUnits="userSpaceOnUse" x1="56" x2="491" y1="0" y2="0"><stop offset="0.000" stop-color="#000bff"/><stop offset="0.055" stop-color="#000cff"/><stop offset="0.110" stop-color="#000dff"/><stop offset="0.166" stop-color="#000eff"/><stop offset="0.221" stop-color="#000fff"/><stop offset="0.276" stop-color="#0010ff"/><stop offset="0.331" stop-color="#001bff"/><stop offset="0.343" stop-color="#001eff"/><stop offset="0.354" stop-color="#0021ff"/><stop offset="0.366" stop-color="#0026ff"/><stop offset="0.377" stop-color="#002cff"/><stop offset="0.389" stop-color="#0031ff"/><stop offset="0.400" stop-color="#0036ff"/><stop offset="0.411" stop-color="#003cff"/><stop offset="0.423" stop-color="#0041ff"/><stop offset="0.434" stop-color="#0049ff"/><stop offset="0.446" stop-color="#0050ff"/><stop offset="0.457" stop-color="#0057ff"/><stop offset="0.469" stop-color="#005fff"/><stop offset="0.480" stop-color="#0067ff"/><stop offset="0.492" stop-color="#0071ff"/><stop offset="0.503" stop-color="#007aff"/><stop offset="0.515" stop-color="#0083ff"/><stop offset="0.526" stop-color="#0086ff"/><stop offset="0.538" stop-color="#0089ff"/><stop offset="0.549" stop-color="#008bff"/><stop offset="0.561" stop-color="#008eff"/><stop offset="0.572" stop-color="#0097ff"/><stop offset="0.584" stop-color="#009fff"/><stop offset="0.595" stop-color="#00a7ff"/><stop offset="0.607" stop-color="#00afff"/><stop offset="0.618" stop-color="#00bdff"/><stop offset="0.630" stop-color="#00cbff"/><stop offset="0.641" stop-color="#00d8ff"/><stop offset="0.653" stop-color="#00e6ff"/><stop offset="0.664" stop-color="#00fcff"/><stop offset="0.676" stop-color="#00ffe3"/><stop offset="0.687" stop-color="#00ffc9"/><stop offset="0.699" stop-color="#00ffaf"/><stop offset="0.710" stop-color="#00ff95"/><stop offset="0.722" stop-color="#00ff85"/><stop offset="0.733" stop-color="#00ff74"/><stop offset="0.745" stop-color="#00ff64"/><stop offset="0.756" stop-color="#00ff2d"/><stop offset="0.768" stop-color="#00ff00"/><stop offset="0.779" stop-color="#00ff00"/><stop offset="0.791" stop-color="#00ff00"/><stop offset="0.802" stop-color="#00ff00"/><stop offset="0.814" stop-color="#40ff00"/><stop offset="0.825" stop-color="#bfff00"/><stop offset="0.837" stop-color="#eaff00"/><stop offset="0.848" stop-color="#ffe100"/><stop offset="0.860" stop-color="#ffac00"/><stop offset="0.871" stop-color="#ff7d00"/><stop offset="0.883" stop-color="#ff5200"/><stop offset="0.894" stop-color="#ff2d00"/><stop offset="0.906" stop-color="#ff0d00"/><stop offset="0.917" stop-color="#ff0000"/><stop offset="0.929" stop-color="#ff0000"/><stop offset="0.952" stop-color="#ff0000"/><stop offset="1.000" stop-color="#ff0000"/></linearGradient><linearGradient id="g17" gradientUnits="userSpaceOnUse" x1="56" x2="491" y1="0" y2="0"><stop offset="0.000" stop-color="#000bff"/><stop offset="0.055" stop-color="#000cff"/><stop offset="0.110" stop-color="#000dff"/><stop offset="0.166" stop-color="#000eff"/><stop offset="0.221" stop-color="#0010ff"/><stop offset="0.276" stop-color="#0011ff"/><stop offset="0.331" stop-color="#001cff"/><stop offset="0.343" stop-color="#001fff"/><stop offset="0.354" stop-color="#0022ff"/><stop offset="0.366" stop-color="#0027ff"/><stop offset="0.377" stop-color="#002dff"/><stop offset="0.389" stop-color="#0032ff"/><stop offset="0.400" stop-color="#0038ff"/><stop offset="0.411" stop-color="#003eff"/><stop offset="0.423" stop-color="#0043ff"/><stop offset="0.434" stop-color="#004bff"/><stop offset="0.446" stop-color="#0052ff"/><stop offset="0.457" stop-color="#005aff"/><stop offset="0.469" stop-color="#0061ff"/><stop offset="0.480" stop-color="#006aff"/><stop offset="0.492" stop-color="#0073ff"/><stop offset="0.503" stop-color="#007cff"/><stop offset="0.515" stop-color="#0086ff"/><stop offset="0.526" stop-color="#0088ff"/><stop offset="0.538" stop-color="#008bff"/><stop offset="0.549" stop-color="#008eff"/><stop offset="0.561" stop-color="#0091ff"/><stop offset="0.572" stop-color="#0099ff"/><stop offset="0.584" stop-color="#00a2ff"/><stop offset="0.595" stop-color="#00aaff"/><stop offset="0.607" stop-color="#00b2ff"/><stop offset="0.618" stop-color="#00c0ff"/><stop offset="0.630" stop-color="#00ceff"/><stop offset="0.641" stop-color="#00dcff"/><stop offset="0.653" stop-color="#00eaff"/><stop offset="0.664" stop-color="#00fffd"/><stop offset="0.676" stop-color="#00ffde"/><stop offset="0.687" stop-color="#00ffc3"/><stop offset="0.699" stop-color="#00ffa8"/><stop offset="0.710" stop-color="#00ff8d"/><stop offset="0.722" stop-color="#00ff7d"/><stop offset="0.733" stop-color="#00ff6d"/><stop offset="0.745" stop-color="#00ff5d"/><stop offset="0.756" stop-color="#00ff25"/><stop offset="0.768" stop-color="#00ff00"/><stop offset="0.779" stop-color="#00ff00"/><stop offset="0.791" stop-color="#00ff00"/><stop offset="0.802" stop-color="#00ff00"/><stop offset="0.814" stop-color="#49ff00"/><stop offset="0.825" stop-color="#c7ff00"/><stop offset="0.837" stop-color="#f1ff00"/><stop offset="0.848" stop-color="#ffde00"/><stop offset="0.860" stop-color="#ffa900"/><stop offset="0.871" stop-color="#ff7b00"/><stop offset="0.883" stop-color="#ff5000"/><stop offset="0.894" stop-color="#ff2c00"/><stop offset="0.906" stop-color="#ff0d00"/><stop offset="0.917" stop-color="#ff0000"/><stop offset="0.929" stop-color="#ff0000"/><stop offset="0.952" stop-color="#ff0000"/><stop offset="1.000" stop-color="#ff0000"/></linearGradient><linearGradient id="g18" gradientUnits="userSpaceOnUse" x1="56" x2="491" y1="0" y2="0"><stop offset="0.000" stop-color="#000bff"/><stop offset="0.055" stop-color="#000cff"/><stop offset="0.110" stop-color="#000eff"/><stop offset="0.166" stop-color="#000fff"/><stop offset="0.221" stop-color="#0010ff"/><stop offset="0.276" stop-color="#0011ff"/><stop offset="0.331" stop-color="#001dff"/><stop offset="0.343" stop-color="#0020ff"/><stop offset="0.354" stop-color="#0023ff"/><stop offset="0.366" stop-color="#0029ff"/><stop offset="0.377" stop-color="#002eff"/><stop offset="0.389" stop-color="#0034ff"/><stop offset="0.400" stop-color="#003aff"/><stop offset="0.411" stop-color="#0040ff"/><stop offset="0.423" stop-color="#0046ff"/><stop offset="0.434" stop-color="#004dff"/><stop offset="0.446" stop-color="#0055ff"/><stop offset="0.457" stop-color="#005cff"/><stop offset="0.469" stop-color="#0064ff"/><stop offset="0.480" stop-color="#006cff"/><stop offset="0.492" stop-color="#0075ff"/><stop offset="0.503" stop-color="#007eff"/><stop offset="0.515" stop-color="#0087ff"/><stop offset="0.526" stop-color="#008aff"/><stop offset="0.538" stop-color="#008dff"/><stop offset="0.549" stop-color="#0090ff"/><stop offset="0.561" stop-color="#0093ff"/><stop offset="0.572" stop-color="#009cff"/><stop offset="0.584" stop-color="#00a5ff"/><stop offset="0.595" stop-color="#00adff"/><stop offset="0.607" stop-color="#00b6ff"/><stop offset="0.618" stop-color="#00c4ff"/><stop offset="0.630" stop-color="#00d3ff"/><stop offset="0.641" stop-color="#00e1ff"/><stop offset="0.653" stop-color="#00efff"/><stop offset="0.664" stop-color="#00fff7"/><stop offset="0.676" stop-color="#00ffd8"/><stop offset="0.687" stop-color="#00ffbc"/><stop offset="0.699" stop-color="#00ffa0"/><stop offset="0.710" stop-color="#00ff84"/><stop offset="0.722" stop-color="#00ff73"/><stop offset="0.733" stop-color="#00ff62"/><stop offset="0.745" stop-color="#00ff52"/><stop offset="0.756" stop-color="#00ff17"/><stop offset="0.768" stop-color="#00ff00"/><stop offset="0.779" stop-color="#00ff00"/><stop offset="0.791" stop-color="#00ff00"/><stop offset="0.802" stop-color="#00ff00"/><stop offset="0.814" stop-color="#5dff00"/><stop offset="0.825" stop-color="#d2ff00"/><stop offset="0.837" stop-color="#feff00"/><stop offset="0.848" stop-color="#ffd800"/><stop offset="0.860" stop-color="#ffa600"/><stop offset="0.871" stop-color="#ff7900"/><stop offset="0.883" stop-color="#ff4f00"/><stop offset="0.894" stop-color="#ff2c00"/><stop offset="0.906" stop-color="#ff0c00"/><stop offset="0.917" stop-color="#ff0000"/><stop offset="0.929" stop-color="#ff0000"/><stop offset="0.952" stop-color="#ff0000"/><stop offset="1.000" stop-color="#ff0000"/></linearGradient><linearGradient id="g19" gradientUnits="userSpaceOnUse" x1="56" x2="491" y1="0" y2="0"><stop offset="0.000" stop-color="#000bff"/><stop offset="0.055" stop-color="#000cff"/><stop offset="0.110" stop-color="#000eff"/><stop offset="0.166" stop-color="#000fff"/><stop offset="0.221" stop-color="#0010ff"/><stop offset="0.276" stop-color="#0012ff"/><stop offset="0.331" stop-color="#001eff"/><stop offset="0.343" stop-color="#0021ff"/><stop offset="0.354" stop-color="#0024ff"/><stop offset="0.366" stop-color="#002aff"/><stop offset="0.377" stop-color="#0030ff"/><stop offset="0.389" stop-color="#0036ff"/><stop offset="0.400" stop-color="#003cff"/><stop offset="0.411" stop-color="#0042ff"/><stop offset="0.423" stop-color="#0048ff"/><stop offset="0.434" stop-color="#0050ff"/><stop offset="0.446" stop-color="#0057ff"/><stop offset="0.457" stop-color="#005fff"/><stop offset="0.469" stop-color="#0067ff"/><stop offset="0.480" stop-color="#006fff"/><stop offset="0.492" stop-color="#0078ff"/><stop offset="0.503" stop-color="#0081ff"/><stop offset="0.515" stop-color="#0089ff"/><stop offset="0.526" stop-color="#008dff"/><stop offset="0.538" stop-color="#0090ff"/><stop offset="0.549" stop-color="#0093ff"/><stop offset="0.561" stop-color="#0096ff"/><stop offset="0.572" stop-color="#009fff"/><stop offset="0.584" stop-color="#00a8ff"/><stop offset="0.595" stop-color="#00b1ff"/><stop offset="0.607" stop-color="#00baff"/><stop offset="0.618" stop-color="#00c9ff"/><stop offset="0.630" stop-color="#00d7ff"/><stop offset="0.641" stop-color="#00e6ff"/><stop offset="0.653" stop-color="#00f4ff"/><stop offset="0.664" stop-color="#00fff0"/><stop offset="0.676" stop-color="#00ffd3"/><stop offset="0.687" stop-color="#00ffb5"/><stop offset="0.699" stop-color="#00ff98"/><stop offset="0.710" stop-color="#00ff7b"/><stop offset="0.722" stop-color="#00ff69"/><stop offset="0.733" stop-color="#00ff58"/><stop offset="0.745" stop-color="#00ff47"/><stop offset="0.756" stop-color="#00ff09"/><stop offset="0.768" stop-color="#00ff00"/><stop offset="0.779" stop-color="#00ff00"/><stop offset="0.791" stop-color="#00ff00"/><stop offset="0.802" stop-color="#03ff00"/><stop offset="0.814" stop-color="#70ff00"/><stop offset="0.825" stop-color="#deff00"/><stop offset="0.837" stop-color="#fff800"/><stop offset="0.848" stop-color="#ffd200"/><stop offset="0.860" stop-color="#ffa200"/><stop offset="0.871" stop-color="#ff7700"/><stop offset="0.883" stop-color="#ff4d00"/><stop offset="0.894" stop-color="#ff2b00"/><stop offset="0.906" stop-color="#ff0c00"/><stop offset="0.917" stop-color="#ff0000"/><stop offset="0.929" stop-color="#ff0000"/><stop offset="0.952" stop-color="#ff0000"/><stop offset="1.000" stop-color="#ff0000"/></linearGradient><linearGradient id="g20" gradientUnits="userSpaceOnUse" x1="56" x2="491" y1="0" y2="0"><stop offset="0.000" stop-color="#000bff"/><stop offset="0.055" stop-color="#000dff"/><stop offset="0.110" stop-color="#000eff"/><stop offset="0.166" stop-color="#0010ff"/><stop offset="0.221" stop-color="#0011ff"/><stop offset="0.276" stop-color="#0012ff"/><stop offset="0.331" stop-color="#001fff"/><stop offset="0.343" stop-color="#0022ff"/><stop offset="0.354" stop-color="#0025ff"/><stop offset="0.366" stop-color="#002cff"/><stop offset="0.377" stop-color="#0032ff"/><stop offset="0.389" stop-color="#0038ff"/><stop offset="0.400" stop-color="#003eff"/><stop offset="0.411" stop-color="#0045ff"/><stop offset="0.423" stop-color="#004bff"/><stop offset="0.434" stop-color="#0052ff"/><stop offset="0.446" stop-color="#005aff"/><stop offset="0.457" stop-color="#0062ff"/><stop offset="0.469" stop-color="#0069ff"/><stop offset="0.480" stop-color="#0071ff"/><stop offset="0.492" stop-color="#007aff"/><stop offset="0.503" stop-color="#0083ff"/><stop offset="0.515" stop-color="#008bff"/><stop offset="0.526" stop-color="#008fff"/><stop offset="0.538" stop-color="#0092ff"/><stop offset="0.549" stop-color="#0095ff"/><stop offset="0.561" stop-color="#0098ff"/><stop offset="0.572" stop-color="#00a2ff"/><stop offset="0.584" stop-color="#00abff"/><stop offset="0.595" stop-color="#00b5ff"/><stop offset="0.607" stop-color="#00beff"/><stop offset="0.618" stop-color="#00cdff"/><stop offset="0.630" stop-color="#00dcff"/><stop offset="0.641" stop-color="#00ebff"/><stop offset="0.653" stop-color="#00faff"/><stop offset="0.664" stop-color="#00ffea"/><stop offset="0.676" stop-color="#00ffcd"/><stop offset="0.687" stop-color="#00ffaf"/><stop offset="0.699" stop-color="#00ff90"/><stop offset="0.710" stop-color="#00ff71"/><stop offset="0.722" stop-color="#00ff5f"/><stop offset="0.733" stop-color="#00ff4e"/><stop offset="0.745" stop-color="#00ff3c"/><stop offset="0.756" stop-color="#00ff00"/><stop offset="0.768" stop-color="#00ff00"/><stop offset="0.779" stop-color="#00ff00"/><stop offset="0.791" stop-color="#00ff00"/><stop offset="0.802" stop-color="#1eff00"/><stop offset="0.814" stop-color="#83ff00"/><stop offset="0.825" stop-color="#e9ff00"/><stop offset="0.837" stop-color="#fff100"/><stop offset="0.848" stop-color="#ffcc00"/><stop offset="0.860" stop-color="#ff9f00"/><stop offset="0.871" stop-color="#ff7400"/><stop offset="0.883" stop-color="#ff4c00"/><stop offset="0.894" stop-color="#ff2a00"/><stop offset="0.906" stop-color="#ff0c00"/><stop offset="0.917" stop-color="#ff0000"/><stop offset="0.929" stop-color="#ff0000"/><stop offset="0.952" stop-color="#ff0000"/><stop offset="1.000" stop-color="#ff0000"/></linearGradient><linearGradient id="g21" gradientUnits="userSpaceOnUse" x1="56" x2="491" y1="0" y2="0"><stop offset="0.000" stop-color="#000bff"/><stop offset="0.055" stop-color="#000dff"/><stop offset="0.110" stop-color="#000eff"/><stop offset="0.166" stop-color="#0010ff"/><stop offset="0.221" stop-color="#0011ff"/><stop offset="0.276" stop-color="#0013ff"/><stop offset="0.331" stop-color="#0020ff"/><stop offset="0.343" stop-color="#0023ff"/><stop offset="0.354" stop-color="#0027ff"/><stop offset="0.366" stop-color="#002dff"/><stop offset="0.377" stop-color="#0034ff"/><stop offset="0.389" stop-color="#003aff"/><stop offset="0.400" stop-color="#0041ff"/><stop offset="0.411" stop-color="#0047ff"/><stop offset="0.423" stop-color="#004dff"/><stop offset="0.434" stop-color="#0055ff"/><stop offset="0.446" stop-color="#005dff"/><stop offset="0.457" stop-color="#0064ff"/><stop offset="0.469" stop-color="#006cff"/><stop offset="0.480" stop-color="#0074ff"/><stop offset="0.492" stop-color="#007cff"/><stop offset="0.503" stop-color="#0085ff"/><stop offset="0.515" stop-color="#008dff"/><stop offset="0.526" stop-color="#0091ff"/><stop offset="0.538" stop-color="#0094ff"/><stop offset="0.549" stop-color="#0098ff"/><stop offset="0.561" stop-color="#009bff"/><stop offset="0.572" stop-color="#00a5ff"/><stop offset="0.584" stop-color="#00aeff"/><stop offset="0.595" stop-color="#00b8ff"/><stop offset="0.607" stop-color="#00c2ff"/><stop offset="0.618" stop-color="#00d1ff"/><stop offset="0.630" stop-color="#00e0ff"/><stop offset="0.641" stop-color="#00efff"/><stop offset="0.653" stop-color="#00ffff"/><stop offset="0.664" stop-color="#00ffe4"/><stop offset="0.676" stop-color="#00ffc8"/><stop offset="0.687" stop-color="#00ffa8"/><stop offset="0.699" stop-color="#00ff88"/><stop offset="0.710" stop-color="#00ff68"/><stop offset="0.722" stop-color="#00ff56"/><stop offset="0.733" stop-color="#00ff43"/><stop offset="0.745" stop-color="#00ff31"/><stop offset="0.756" stop-color="#00ff00"/><stop offset="0.768" stop-color="#00ff00"/><stop offset="0.779" stop-color="#00ff00"/><stop offset="0.791" stop-color="#00ff00"/><stop offset="0.802" stop-color="#39ff00"/><stop offset="0.814" stop-color="#97ff00"/><stop offset="0.825" stop-color="#f4ff00"/><stop offset="0.837" stop-color="#ffea00"/><stop offset="0.848" stop-color="#ffc600"/><stop offset="0.860" stop-color="#ff9b00"/><stop offset="0.871" stop-color="#ff7200"/><stop offset="0.883" stop-color="#ff4a00"/><stop offset="0.894" stop-color="#ff2900"/><stop offset="0.906" stop-color="#ff0c00"/><stop offset="0.917" stop-color="#ff0000"/><stop offset="0.929" stop-color="#ff0000"/><stop offset="0.952" stop-color="#ff0000"/><stop offset="1.000" stop-color="#ff0000"/></linearGradient><linearGradient id="g22" gradientUnits="userSpaceOnUse" x1="56" x2="491" y1="0" y2="0"><stop offset="0.000" stop-color="#000bff"/><stop offset="0.055" stop-color="#000dff"/><stop offset="0.110" stop-color="#000fff"/><stop offset="0.166" stop-color="#0010ff"/><stop offset="0.221" stop-color="#0012ff"/><stop offset="0.276" stop-color="#0014ff"/><stop offset="0.331" stop-color="#0021ff"/><stop offset="0.343" stop-color="#0025ff"/><stop offset="0.354" stop-color="#0028ff"/><stop offset="0.366" stop-color="#002fff"/><stop offset="0.377" stop-color="#0035ff"/><stop offset="0.389" stop-color="#003cff"/><stop offset="0.400" stop-color="#0043ff"/><stop offset="0.411" stop-color="#0049ff"/><stop offset="0.423" stop-color="#0050ff"/><stop offset="0.434" stop-color="#0058ff"/><stop offset="0.446" stop-color="#005fff"/><stop offset="0.457" stop-color="#0067ff"/><stop offset="0.469" stop-color="#006eff"/><stop offset="0.480" stop-color="#0076ff"/><stop offset="0.492" stop-color="#007fff"/><stop offset="0.503" stop-color="#0087ff"/><stop offset="0.515" stop-color="#008fff"/><stop offset="0.526" stop-color="#0093ff"/><stop offset="0.538" stop-color="#0096ff"/><stop offset="0.549" stop-color="#009aff"/><stop offset="0.561" stop-color="#009eff"/><stop offset="0.572" stop-color="#00a8ff"/><stop offset="0.584" stop-color="#00b2ff"/><stop offset="0.595" stop-color="#00bcff"/><stop offset="0.607" stop-color="#00c6ff"/><stop offset="0.618" stop-color="#00d5ff"/><stop offset="0.630" stop-color="#00e5ff"/><stop offset="0.641" stop-color="#00f4ff"/><stop offset="0.653" stop-color="#00fff8"/><stop offset="0.664" stop-color="#00ffdd"/><stop offset="0.676" stop-color="#00ffc2"/><stop offset="0.687" stop-color="#00ffa1"/><stop offset="0.699" stop-color="#00ff80"/><stop offset="0.710" stop-color="#00ff5f"/><stop offset="0.722" stop-color="#00ff4c"/><stop offset="0.733" stop-color="#00ff39"/><stop offset="0.745" stop-color="#00ff25"/><stop offset="0.756" stop-color="#00ff00"/><stop offset="0.768" stop-color="#00ff00"/><stop offset="0.779" stop-color="#00ff00"/><stop offset="0.791" stop-color="#00ff00"/><stop offset="0.802" stop-color="#54ff00"/><stop offset="0.814" stop-color="#aaff00"/><stop offset="0.825" stop-color="#ffff00"/><stop offset="0.837" stop-color="#ffe300"/><stop offset="0.848" stop-color="#ffc000"/><stop offset="0.860" stop-color="#ff9800"/><stop offset="0.871" stop-color="#ff7000"/><stop offset="0.883" stop-color="#ff4900"/><stop offset="0.894" stop-color="#ff2800"/><stop offset="0.906" stop-color="#ff0b00"/><stop offset="0.917" stop-color="#ff0000"/><stop offset="0.929" stop-color="#ff0000"/><stop offset="0.952" stop-color="#ff0000"/><stop offset="1.000" stop-color="#ff0000"/></linearGradient><linearGradient id="g23" gradientUnits="userSpaceOnUse" x1="56" x2="491" y1="0" y2="0"><stop offset="0.000" stop-color="#000bff"/><stop offset="0.055" stop-color="#000dff"/><stop offset="0.110" stop-color="#000fff"/><stop offset="0.166" stop-color="#0011ff"/><stop offset="0.221" stop-color="#0012ff"/><stop offset="0.276" stop-color="#0014ff"/><stop offset="0.331" stop-color="#0022ff"/><stop offset="0.343" stop-color="#0026ff"/><stop offset="0.354" stop-color="#0029ff"/><stop offset="0.366" stop-color="#0030ff"/><stop offset="0.377" stop-color="#0037ff"/><stop offset="0.389" stop-color="#003eff"/><stop offset="0.400" stop-color="#0045ff"/><stop offset="0.411" stop-color="#004cff"/><stop offset="0.423" stop-color="#0053ff"/><stop offset="0.434" stop-color="#005aff"/><stop offset="0.446" stop-color="#0062ff"/><stop offset="0.457" stop-color="#0069ff"/><stop offset="0.469" stop-color="#0071ff"/><stop offset="0.480" stop-color="#0079ff"/><stop offset="0.492" stop-color="#0081ff"/><stop offset="0.503" stop-color="#0089ff"/><stop offset="0.515" stop-color="#0091ff"/><stop offset="0.526" stop-color="#0095ff"/><stop offset="0.538" stop-color="#0099ff"/><stop offset="0.549" stop-color="#009cff"/><stop offset="0.561" stop-color="#00a0ff"/><stop offset="0.572" stop-color="#00abff"/><stop offset="0.584" stop-color="#00b5ff"/><stop offset="0.595" stop-color="#00bfff"/><stop offset="0.607" stop-color="#00c9ff"/><stop offset="0.618" stop-color="#00d9ff"/><stop offset="0.630" stop-color="#00e9ff"/><stop offset="0.641" stop-color="#00f9ff"/><stop offset="0.653" stop-color="#00fff1"/><stop offset="0.664" stop-color="#00ffd7"/><stop offset="0.676" stop-color="#00ffbc"/><stop offset="0.687" stop-color="#00ff9a"/><stop offset="0.699" stop-color="#00ff78"/><stop offset="0.710" stop-color="#00ff56"/><stop offset="0.722" stop-color="#00ff42"/><stop offset="0.733" stop-color="#00ff2e"/><stop offset="0.745" stop-color="#00ff1a"/><stop offset="0.756" stop-color="#00ff00"/><stop offset="0.768" stop-color="#00ff00"/><stop offset="0.779" stop-color="#00ff00"/><stop offset="0.791" stop-color="#00ff00"/><stop offset="0.802" stop-color="#70ff00"/><stop offset="0.814" stop-color="#bdff00"/><stop offset="0.825" stop-color="#fff800"/><stop offset="0.837" stop-color="#ffdc00"/><stop offset="0.848" stop-color="#ffba00"/><stop offset="0.860" stop-color="#ff9400"/><stop offset="0.871" stop-color="#ff6e00"/><stop offset="0.883" stop-color="#ff4800"/><stop offset="0.894" stop-color="#ff2700"/><stop offset="0.906" stop-color="#ff0b00"/><stop offset="0.917" stop-color="#ff0000"/><stop offset="0.929" stop-color="#ff0000"/><stop offset="0.952" stop-color="#ff0000"/><stop offset="1.000" stop-color="#ff0000"/></linearGradient><linearGradient id="g24" gradientUnits="userSpaceOnUse" x1="56" x2="491" y1="0" y2="0"><stop offset="0.000" stop-color="#000bff"/><stop offset="0.055" stop-color="#000dff"/><stop offset="0.110" stop-color="#000fff"/><stop offset="0.166" stop-color="#0011ff"/><stop offset="0.221" stop-color="#0013ff"/><stop offset="0.276" stop-color="#0015ff"/><stop offset="0.331" stop-color="#0023ff"/><stop offset="0.343" stop-color="#0027ff"/><stop offset="0.354" stop-color="#002bff"/><stop offset="0.366" stop-color="#0032ff"/><stop offset="0.377" stop-color="#0039ff"/><stop offset="0.389" stop-color="#0040ff"/><stop offset="0.400" stop-color="#0047ff"/><stop offset="0.411" stop-color="#004eff"/><stop offset="0.423" stop-color="#0055ff"/><stop offset="0.434" stop-color="#005dff"/><stop offset="0.446" stop-color="#0064ff"/><stop offset="0.457" stop-color="#006cff"/><stop offset="0.469" stop-color="#0073ff"/><stop offset="0.480" stop-color="#007bff"/><stop offset="0.492" stop-color="#0083ff"/><stop offset="0.503" stop-color="#008bff"/><stop offset="0.515" stop-color="#0093ff"/><stop offset="0.526" stop-color="#0097ff"/><stop offset="0.538" stop-color="#009bff"/><stop offset="0.549" stop-color="#009fff"/><stop offset="0.561" stop-color="#00a3ff"/><stop offset="0.572" stop-color="#00adff"/><stop offset="0.584" stop-color="#00b8ff"/><stop offset="0.595" stop-color="#00c3ff"/><stop offset="0.607" stop-color="#00cdff"/><stop offset="0.618" stop-color="#00deff"/><stop offset="0.630" stop-color="#00eeff"/><stop offset="0.641" stop-color="#00feff"/><stop offset="0.653" stop-color="#00ffe9"/><stop offset="0.664" stop-color="#00ffd0"/><stop offset="0.676" stop-color="#00ffb7"/><stop offset="0.687" stop-color="#00ff93"/><stop offset="0.699" stop-color="#00ff70"/><stop offset="0.710" stop-color="#00ff4c"/><stop offset="0.722" stop-color="#00ff38"/><stop offset="0.733" stop-color="#00ff24"/><stop offset="0.745" stop-color="#00ff0f"/><stop offset="0.756" stop-color="#00ff00"/><stop offset="0.768" stop-color="#00ff00"/><stop offset="0.779" stop-color="#00ff00"/><stop offset="0.791" stop-color="#03ff00"/><stop offset="0.802" stop-color="#8bff00"/><stop offset="0.814" stop-color="#d1ff00"/><stop offset="0.825" stop-color="#fff200"/><stop offset="0.837" stop-color="#ffd500"/><stop offset="0.848" stop-color="#ffb400"/><stop offset="0.860" stop-color="#ff9100"/><stop offset="0.871" stop-color="#ff6c00"/><stop offset="0.883" stop-color="#ff4600"/><stop offset="0.894" stop-color="#ff2600"/><stop offset="0.906" stop-color="#ff0b00"/><stop offset="0.917" stop-color="#ff0000"/><stop offset="0.929" stop-color="#ff0000"/><stop offset="0.952" stop-color="#ff0000"/><stop offset="1.000" stop-color="#ff0000"/></linearGradient><linearGradient id="g25" gradientUnits="userSpaceOnUse" x1="56" x2="491" y1="0" y2="0"><stop offset="0.000" stop-color="#000bff"/><stop offset="0.055" stop-color="#000dff"/><stop offset="0.110" stop-color="#000fff"/><stop offset="0.166" stop-color="#0011ff"/><stop offset="0.221" stop-color="#0013ff"/><stop offset="0.276" stop-color="#0016ff"/><stop offset="0.331" stop-color="#0025ff"/><stop offset="0.343" stop-color="#0028ff"/><stop offset="0.354" stop-color="#002cff"/><stop offset="0.366" stop-color="#0033ff"/><stop offset="0.377" stop-color="#003aff"/><stop offset="0.389" stop-color="#0042ff"/><stop offset="0.400" stop-color="#0049ff"/><stop offset="0.411" stop-color="#0050ff"/><stop offset="0.423" stop-color="#0058ff"/><stop offset="0.434" stop-color="#005fff"/><stop offset="0.446" stop-color="#0067ff"/><stop offset="0.457" stop-color="#006eff"/><stop offset="0.469" stop-color="#0076ff"/><stop offset="0.480" stop-color="#007eff"/><stop offset="0.492" stop-color="#0085ff"/><stop offset="0.503" stop-color="#008dff"/><stop offset="0.515" stop-color="#0095ff"/><stop offset="0.526" stop-color="#0099ff"/><stop offset="0.538" stop-color="#009dff"/><stop offset="0.549" stop-color="#00a1ff"/><stop offset="0.561" stop-color="#00a5ff"/><stop offset="0.572" stop-color="#00b0ff"/><stop offset="0.584" stop-color="#00bbff"/><stop offset="0.595" stop-color="#00c6ff"/><stop offset="0.607" stop-color="#00d1ff"/><stop offset="0.618" stop-color="#00e2ff"/><stop offset="0.630" stop-color="#00f2ff"/><stop offset="0.641" stop-color="#00fffa"/><stop offset="0.653" stop-color="#00ffe2"/><stop offset="0.664" stop-color="#00ffca"/><stop offset="0.676" stop-color="#00ffb1"/><stop offset="0.687" stop-color="#00ff8d"/><stop offset="0.699" stop-color="#00ff68"/><stop offset="0.710" stop-color="#00ff43"/><stop offset="0.722" stop-color="#00ff2e"/><stop offset="0.733" stop-color="#00ff19"/><stop offset="0.745" stop-color="#00ff04"/><stop offset="0.756" stop-color="#00ff00"/><stop offset="0.768" stop-color="#00ff00"/><stop offset="0.779" stop-color="#00ff00"/><stop offset="0.791" stop-color="#1cff00"/><stop offset="0.802" stop-color="#a6ff00"/><stop offset="0.814" stop-color="#e4ff00"/><stop offset="0.825" stop-color="#ffec00"/><stop offset="0.837" stop-color="#ffce00"/><stop offset="0.848" stop-color="#ffae00"/><stop offset="0.860" stop-color="#ff8e00"/><stop offset="0.871" stop-color="#ff6a00"/><stop offset="0.883" stop-color="#ff4500"/><stop offset="0.894" stop-color="#ff2600"/><stop offset="0.906" stop-color="#ff0b00"/><stop offset="0.917" stop-color="#ff0000"/><stop offset="0.929" stop-color="#ff0000"/><stop offset="0.952" stop-color="#ff0000"/><stop offset="1.000" stop-color="#ff0000"/></linearGradient><linearGradient id="g26" gradientUnits="userSpaceOnUse" x1="56" x2="491" y1="0" y2="0"><stop offset="0.000" stop-color="#000bff"/><stop offset="0.055" stop-color="#000dff"/><stop offset="0.110" stop-color="#0010ff"/><stop offset="0.166" stop-color="#0012ff"/><stop offset="0.221" stop-color="#0014ff"/><stop offset="0.276" stop-color="#0016ff"/><stop offset="0.331" stop-color="#0026ff"/><stop offset="0.343" stop-color="#0029ff"/><stop offset="0.354" stop-color="#002dff"/><stop offset="0.366" stop-color="#0035ff"/><stop offset="0.377" stop-color="#003cff"/><stop offset="0.389" stop-color="#0043ff"/><stop offset="0.400" stop-color="#004bff"/><stop offset="0.411" stop-color="#0052ff"/><stop offset="0.423" stop-color="#0059ff"/><stop offset="0.434" stop-color="#0061ff"/><stop offset="0.446" stop-color="#0069ff"/><stop offset="0.457" stop-color="#0071ff"/><stop offset="0.469" stop-color="#0078ff"/><stop offset="0.480" stop-color="#0080ff"/><stop offset="0.492" stop-color="#0088ff"/><stop offset="0.503" stop-color="#0090ff"/><stop offset="0.515" stop-color="#0098ff"/><stop offset="0.526" stop-color="#009cff"/><stop offset="0.538" stop-color="#00a0ff"/><stop offset="0.549" stop-color="#00a4ff"/><stop offset="0.561" stop-color="#00a9ff"/><stop offset="0.572" stop-color="#00b4ff"/><stop offset="0.584" stop-color="#00c0ff"/><stop offset="0.595" stop-color="#00cbff"/><stop offset="0.607" stop-color="#00d7ff"/><stop offset="0.618" stop-color="#00e8ff"/><stop offset="0.630" stop-color="#00f9ff"/><stop offset="0.641" stop-color="#00ffef"/><stop offset="0.653" stop-color="#00ffd6"/><stop offset="0.664" stop-color="#00ffbf"/><stop offset="0.676" stop-color="#00ffa7"/><stop offset="0.687" stop-color="#00ff82"/><stop offset="0.699" stop-color="#00ff5c"/><stop offset="0.710" stop-color="#00ff37"/><stop offset="0.722" stop-color="#00ff20"/><stop offset="0.733" stop-color="#00ff0a"/><stop offset="0.745" stop-color="#00ff00"/><stop offset="0.756" stop-color="#00ff00"/><stop offset="0.768" stop-color="#00ff00"/><stop offset="0.779" stop-color="#00ff00"/><stop offset="0.791" stop-color="#32ff00"/><stop offset="0.802" stop-color="#baff00"/><stop offset="0.814" stop-color="#f5ff00"/><stop offset="0.825" stop-color="#ffe400"/><stop offset="0.837" stop-color="#ffc700"/><stop offset="0.848" stop-color="#ffa800"/><stop offset="0.860" stop-color="#ff8900"/><stop offset="0.871" stop-color="#ff6700"/><stop offset="0.883" stop-color="#ff4300"/><stop offset="0.894" stop-color="#ff2500"/><stop offset="0.906" stop-color="#ff0a00"/><stop offset="0.917" stop-color="#ff0000"/><stop offset="0.929" stop-color="#ff0000"/><stop offset="0.952" stop-color="#ff0000"/><stop offset="1.000" stop-color="#ff0000"/></linearGradient><linearGradient id="g27" gradientUnits="userSpaceOnUse" x1="56" x2="491" y1="0" y2="0"><stop offset="0.000" stop-color="#000bff"/><stop offset="0.055" stop-color="#000dff"/><stop offset="0.110" stop-color="#0010ff"/><stop offset="0.166" stop-color="#0012ff"/><stop offset="0.221" stop-color="#0014ff"/><stop offset="0.276" stop-color="#0017ff"/><stop offset="0.331" stop-color="#0027ff"/><stop offset="0.343" stop-color="#002bff"/><stop offset="0.354" stop-color="#002eff"/><stop offset="0.366" stop-color="#0036ff"/><stop offset="0.377" stop-color="#003dff"/><stop offset="0.389" stop-color="#0045ff"/><stop offset="0.400" stop-color="#004cff"/><stop offset="0.411" stop-color="#0053ff"/><stop offset="0.423" stop-color="#005bff"/><stop offset="0.434" stop-color="#0063ff"/><stop offset="0.446" stop-color="#006bff"/><stop offset="0.457" stop-color="#0073ff"/><stop offset="0.469" stop-color="#007bff"/><stop offset="0.480" stop-color="#0083ff"/><stop offset="0.492" stop-color="#008bff"/><stop offset="0.503" stop-color="#0093ff"/><stop offset="0.515" stop-color="#009bff"/><stop offset="0.526" stop-color="#009fff"/><stop offset="0.538" stop-color="#00a4ff"/><stop offset="0.549" stop-color="#00a8ff"/><stop offset="0.561" stop-color="#00adff"/><stop offset="0.572" stop-color="#00b9ff"/><stop offset="0.584" stop-color="#00c5ff"/><stop offset="0.595" stop-color="#00d1ff"/><stop offset="0.607" stop-color="#00ddff"/><stop offset="0.618" stop-color="#00efff"/><stop offset="0.630" stop-color="#00fffb"/><stop offset="0.641" stop-color="#00ffe1"/><stop offset="0.653" stop-color="#00ffc7"/><stop offset="0.664" stop-color="#00ffb1"/><stop offset="0.676" stop-color="#00ff9a"/><stop offset="0.687" stop-color="#00ff74"/><stop offset="0.699" stop-color="#00ff4e"/><stop offset="0.710" stop-color="#00ff28"/><stop offset="0.722" stop-color="#00ff10"/><stop offset="0.733" stop-color="#00ff00"/><stop offset="0.745" stop-color="#00ff00"/><stop offset="0.756" stop-color="#00ff00"/><stop offset="0.768" stop-color="#00ff00"/><stop offset="0.779" stop-color="#00ff00"/><stop offset="0.791" stop-color="#46ff00"/><stop offset="0.802" stop-color="#caff00"/><stop offset="0.814" stop-color="#fffc00"/><stop offset="0.825" stop-color="#ffdc00"/><stop offset="0.837" stop-color="#ffbf00"/><stop offset="0.848" stop-color="#ffa200"/><stop offset="0.860" stop-color="#ff8500"/><stop offset="0.871" stop-color="#ff6400"/><stop offset="0.883" stop-color="#ff4100"/><stop offset="0.894" stop-color="#ff2400"/><stop offset="0.906" stop-color="#ff0a00"/><stop offset="0.917" stop-color="#ff0000"/><stop offset="0.929" stop-color="#ff0000"/><stop offset="0.952" stop-color="#ff0000"/><stop offset="1.000" stop-color="#ff0000"/></linearGradient><linearGradient id="g28" gradientUnits="userSpaceOnUse" x1="56" x2="491" y1="0" y2="0"><stop offset="0.000" stop-color="#000bff"/><stop offset="0.055" stop-color="#000eff"/><stop offset="0.110" stop-color="#0010ff"/><stop offset="0.166" stop-color="#0013ff"/><stop offset="0.221" stop-color="#0015ff"/><stop offset="0.276" stop-color="#0017ff"/><stop offset="0.331" stop-color="#0028ff"/><stop offset="0.343" stop-color="#002cff"/><stop offset="0.354" stop-color="#0030ff"/><stop offset="0.366" stop-color="#0037ff"/><stop offset="0.377" stop-color="#003fff"/><stop offset="0.389" stop-color="#0046ff"/><stop offset="0.400" stop-color="#004dff"/><stop offset="0.411" stop-color="#0055ff"/><stop offset="0.423" stop-color="#005cff"/><stop offset="0.434" stop-color="#0064ff"/><stop offset="0.446" stop-color="#006dff"/><stop offset="0.457" stop-color="#0075ff"/><stop offset="0.469" stop-color="#007dff"/><stop offset="0.480" stop-color="#0086ff"/><stop offset="0.492" stop-color="#008eff"/><stop offset="0.503" stop-color="#0096ff"/><stop offset="0.515" stop-color="#009eff"/><stop offset="0.526" stop-color="#00a3ff"/><stop offset="0.538" stop-color="#00a7ff"/><stop offset="0.549" stop-color="#00acff"/><stop offset="0.561" stop-color="#00b0ff"/><stop offset="0.572" stop-color="#00bdff"/><stop offset="0.584" stop-color="#00caff"/><stop offset="0.595" stop-color="#00d7ff"/><stop offset="0.607" stop-color="#00e4ff"/><stop offset="0.618" stop-color="#00f7ff"/><stop offset="0.630" stop-color="#00ffef"/><stop offset="0.641" stop-color="#00ffd4"/><stop offset="0.653" stop-color="#00ffb8"/><stop offset="0.664" stop-color="#00ffa3"/><stop offset="0.676" stop-color="#00ff8d"/><stop offset="0.687" stop-color="#00ff67"/><stop offset="0.699" stop-color="#00ff40"/><stop offset="0.710" stop-color="#00ff19"/><stop offset="0.722" stop-color="#00ff00"/><stop offset="0.733" stop-color="#00ff00"/><stop offset="0.745" stop-color="#00ff00"/><stop offset="0.756" stop-color="#00ff00"/><stop offset="0.768" stop-color="#00ff00"/><stop offset="0.779" stop-color="#00ff00"/><stop offset="0.791" stop-color="#59ff00"/><stop offset="0.802" stop-color="#daff00"/><stop offset="0.814" stop-color="#fff300"/><stop offset="0.825" stop-color="#ffd300"/><stop offset="0.837" stop-color="#ffb700"/><stop offset="0.848" stop-color="#ff9c00"/><stop offset="0.860" stop-color="#ff8100"/><stop offset="0.871" stop-color="#ff6100"/><stop offset="0.883" stop-color="#ff3f00"/><stop offset="0.894" stop-color="#ff2300"/><stop offset="0.906" stop-color="#ff0a00"/><stop offset="0.917" stop-color="#ff0000"/><stop offset="0.929" stop-color="#ff0000"/><stop offset="0.952" stop-color="#ff0000"/><stop offset="1.000" stop-color="#ff0000"/></linearGradient><linearGradient id="g29" gradientUnits="userSpaceOnUse" x1="56" x2="491" y1="0" y2="0"><stop offset="0.000" stop-color="#000bff"/><stop offset="0.055" stop-color="#000eff"/><stop offset="0.110" stop-color="#0010ff"/><stop offset="0.166" stop-color="#0013ff"/><stop offset="0.221" stop-color="#0015ff"/><stop offset="0.276" stop-color="#0018ff"/><stop offset="0.331" stop-color="#0029ff"/><stop offset="0.343" stop-color="#002dff"/><stop offset="0.354" stop-color="#0031ff"/><stop offset="0.366" stop-color="#0038ff"/><stop offset="0.377" stop-color="#0040ff"/><stop offset="0.389" stop-color="#0047ff"/><stop offset="0.400" stop-color="#004fff"/><stop offset="0.411" stop-color="#0056ff"/><stop offset="0.423" stop-color="#005dff"/><stop offset="0.434" stop-color="#0066ff"/><stop offset="0.446" stop-color="#006fff"/><stop offset="0.457" stop-color="#0077ff"/><stop offset="0.469" stop-color="#0080ff"/><stop offset="0.480" stop-color="#0088ff"/><stop offset="0.492" stop-color="#0091ff"/><stop offset="0.503" stop-color="#0099ff"/><stop offset="0.515" stop-color="#00a1ff"/><stop offset="0.526" stop-color="#00a6ff"/><stop offset="0.538" stop-color="#00abff"/><stop offset="0.549" stop-color="#00b0ff"/><stop offset="0.561" stop-color="#00b4ff"/><stop offset="0.572" stop-color="#00c2ff"/><stop offset="0.584" stop-color="#00cfff"/><stop offset="0.595" stop-color="#00ddff"/><stop offset="0.607" stop-color="#00eaff"/><stop offset="0.618" stop-color="#00feff"/><stop offset="0.630" stop-color="#00ffe3"/><stop offset="0.641" stop-color="#00ffc6"/><stop offset="0.653" stop-color="#00ffaa"/><stop offset="0.664" stop-color="#00ff95"/><stop offset="0.676" stop-color="#00ff80"/><stop offset="0.687" stop-color="#00ff59"/><stop offset="0.699" stop-color="#00ff32"/><stop offset="0.710" stop-color="#00ff0a"/><stop offset="0.722" stop-color="#00ff00"/><stop offset="0.733" stop-color="#00ff00"/><stop offset="0.745" stop-color="#00ff00"/><stop offset="0.756" stop-color="#00ff00"/><stop offset="0.768" stop-color="#00ff00"/><stop offset="0.779" stop-color="#00ff00"/><stop offset="0.791" stop-color="#6dff00"/><stop offset="0.802" stop-color="#eaff00"/><stop offset="0.814" stop-color="#ffea00"/><stop offset="0.825" stop-color="#ffca00"/><stop offset="0.837" stop-color="#ffaf00"/><stop offset="0.848" stop-color="#ff9500"/><stop offset="0.860" stop-color="#ff7c00"/><stop offset="0.871" stop-color="#ff5e00"/><stop offset="0.883" stop-color="#ff3e00"/><stop offset="0.894" stop-color="#ff2200"/><stop offset="0.906" stop-color="#ff0a00"/><stop offset="0.917" stop-color="#ff0000"/><stop offset="0.929" stop-color="#ff0000"/><stop offset="0.952" stop-color="#ff0000"/><stop offset="1.000" stop-color="#ff0000"/></linearGradient><linearGradient id="g30" gradientUnits="userSpaceOnUse" x1="56" x2="491" y1="0" y2="0"><stop offset="0.000" stop-color="#000bff"/><stop offset="0.055" stop-color="#000eff"/><stop offset="0.110" stop-color="#0011ff"/><stop offset="0.166" stop-color="#0013ff"/><stop offset="0.221" stop-color="#0016ff"/><stop offset="0.276" stop-color="#0019ff"/><stop offset="0.331" stop-color="#002aff"/><stop offset="0.343" stop-color="#002eff"/><stop offset="0.354" stop-color="#0032ff"/><stop offset="0.366" stop-color="#003aff"/><stop offset="0.377" stop-color="#0041ff"/><stop offset="0.389" stop-color="#0048ff"/><stop offset="0.400" stop-color="#0050ff"/><stop offset="0.411" stop-color="#0057ff"/><stop offset="0.423" stop-color="#005fff"/><stop offset="0.434" stop-color="#0068ff"/><stop offset="0.446" stop-color="#0070ff"/><stop offset="0.457" stop-color="#0079ff"/><stop offset="0.469" stop-color="#0082ff"/><stop offset="0.480" stop-color="#008bff"/><stop offset="0.492" stop-color="#0093ff"/><stop offset="0.503" stop-color="#009cff"/><stop offset="0.515" stop-color="#00a5ff"/><stop offset="0.526" stop-color="#00a9ff"/><stop offset="0.538" stop-color="#00aeff"/><stop offset="0.549" stop-color="#00b3ff"/><stop offset="0.561" stop-color="#00b8ff"/><stop offset="0.572" stop-color="#00c6ff"/><stop offset="0.584" stop-color="#00d4ff"/><stop offset="0.595" stop-color="#00e2ff"/><stop offset="0.607" stop-color="#00f0ff"/><stop offset="0.618" stop-color="#00fff6"/><stop offset="0.630" stop-color="#00ffd7"/><stop offset="0.641" stop-color="#00ffb9"/><stop offset="0.653" stop-color="#00ff9b"/><stop offset="0.664" stop-color="#00ff87"/><stop offset="0.676" stop-color="#00ff73"/><stop offset="0.687" stop-color="#00ff4b"/><stop offset="0.699" stop-color="#00ff23"/><stop offset="0.710" stop-color="#00ff00"/><stop offset="0.722" stop-color="#00ff00"/><stop offset="0.733" stop-color="#00ff00"/><stop offset="0.745" stop-color="#00ff00"/><stop offset="0.756" stop-color="#00ff00"/><stop offset="0.768" stop-color="#00ff00"/><stop offset="0.779" stop-color="#07ff00"/><stop offset="0.791" stop-color="#81ff00"/><stop offset="0.802" stop-color="#faff00"/><stop offset="0.814" stop-color="#ffe200"/><stop offset="0.825" stop-color="#ffc200"/><stop offset="0.837" stop-color="#ffa800"/><stop offset="0.848" stop-color="#ff8f00"/><stop offset="0.860" stop-color="#ff7800"/><stop offset="0.871" stop-color="#ff5c00"/><stop offset="0.883" stop-color="#ff3c00"/><stop offset="0.894" stop-color="#ff2100"/><stop offset="0.906" stop-color="#ff0900"/><stop offset="0.917" stop-color="#ff0000"/><stop offset="0.929" stop-color="#ff0000"/><stop offset="0.952" stop-color="#ff0000"/><stop offset="1.000" stop-color="#ff0000"/></linearGradient><linearGradient id="g31" gradientUnits="userSpaceOnUse" x1="56" x2="491" y1="0" y2="0"><stop offset="0.000" stop-color="#000bff"/><stop offset="0.055" stop-color="#000eff"/><stop offset="0.110" stop-color="#0011ff"/><stop offset="0.166" stop-color="#0014ff"/><stop offset="0.221" stop-color="#0016ff"/><stop offset="0.276" stop-color="#0019ff"/><stop offset="0.331" stop-color="#002bff"/><stop offset="0.343" stop-color="#002fff"/><stop offset="0.354" stop-color="#0034ff"/><stop offset="0.366" stop-color="#003bff"/><stop offset="0.377" stop-color="#0042ff"/><stop offset="0.389" stop-color="#004aff"/><stop offset="0.400" stop-color="#0051ff"/><stop offset="0.411" stop-color="#0059ff"/><stop offset="0.423" stop-color="#0060ff"/><stop offset="0.434" stop-color="#0069ff"/><stop offset="0.446" stop-color="#0072ff"/><stop offset="0.457" stop-color="#007cff"/><stop offset="0.469" stop-color="#0085ff"/><stop offset="0.480" stop-color="#008eff"/><stop offset="0.492" stop-color="#0096ff"/><stop offset="0.503" stop-color="#009fff"/><stop offset="0.515" stop-color="#00a8ff"/><stop offset="0.526" stop-color="#00adff"/><stop offset="0.538" stop-color="#00b2ff"/><stop offset="0.549" stop-color="#00b7ff"/><stop offset="0.561" stop-color="#00bcff"/><stop offset="0.572" stop-color="#00cbff"/><stop offset="0.584" stop-color="#00d9ff"/><stop offset="0.595" stop-color="#00e8ff"/><stop offset="0.607" stop-color="#00f7ff"/><stop offset="0.618" stop-color="#00ffeb"/><stop offset="0.630" stop-color="#00ffcb"/><stop offset="0.641" stop-color="#00ffac"/><stop offset="0.653" stop-color="#00ff8c"/><stop offset="0.664" stop-color="#00ff79"/><stop offset="0.676" stop-color="#00ff67"/><stop offset="0.687" stop-color="#00ff3e"/><stop offset="0.699" stop-color="#00ff15"/><stop offset="0.710" stop-color="#00ff00"/><stop offset="0.722" stop-color="#00ff00"/><stop offset="0.733" stop-color="#00ff00"/><stop offset="0.745" stop-color="#00ff00"/><stop offset="0.756" stop-color="#00ff00"/><stop offset="0.768" stop-color="#00ff00"/><stop offset="0.779" stop-color="#1fff00"/><stop offset="0.791" stop-color="#94ff00"/><stop offset="0.802" stop-color="#fff900"/><stop offset="0.814" stop-color="#ffd900"/><stop offset="0.825" stop-color="#ffb900"/><stop offset="0.837" stop-color="#ffa000"/><stop offset="0.848" stop-color="#ff8900"/><stop offset="0.860" stop-color="#ff7300"/><stop offset="0.871" stop-color="#ff5900"/><stop offset="0.883" stop-color="#ff3a00"/><stop offset="0.894" stop-color="#ff2000"/><stop offset="0.906" stop-color="#ff0900"/><stop offset="0.917" stop-color="#ff0000"/><stop offset="0.929" stop-color="#ff0000"/><stop offset="0.952" stop-color="#ff0000"/><stop offset="1.000" stop-color="#ff0000"/></linearGradient><linearGradient id="g32" gradientUnits="userSpaceOnUse" x1="56" x2="491" y1="0" y2="0"><stop offset="0.000" stop-color="#000bff"/><stop offset="0.055" stop-color="#000eff"/><stop offset="0.110" stop-color="#0011ff"/><stop offset="0.166" stop-color="#0014ff"/><stop offset="0.221" stop-color="#0017ff"/><stop offset="0.276" stop-color="#001aff"/><stop offset="0.331" stop-color="#002cff"/><stop offset="0.343" stop-color="#0030ff"/><stop offset="0.354" stop-color="#0035ff"/><stop offset="0.366" stop-color="#003cff"/><stop offset="0.377" stop-color="#0044ff"/><stop offset="0.389" stop-color="#004bff"/><stop offset="0.400" stop-color="#0052ff"/><stop offset="0.411" stop-color="#005aff"/><stop offset="0.423" stop-color="#0061ff"/><stop offset="0.434" stop-color="#006bff"/><stop offset="0.446" stop-color="#0074ff"/><stop offset="0.457" stop-color="#007eff"/><stop offset="0.469" stop-color="#0087ff"/><stop offset="0.480" stop-color="#0090ff"/><stop offset="0.492" stop-color="#0099ff"/><stop offset="0.503" stop-color="#00a2ff"/><stop offset="0.515" stop-color="#00abff"/><stop offset="0.526" stop-color="#00b0ff"/><stop offset="0.538" stop-color="#00b5ff"/><stop offset="0.549" stop-color="#00bbff"/><stop offset="0.561" stop-color="#00c0ff"/><stop offset="0.572" stop-color="#00cfff"/><stop offset="0.584" stop-color="#00dfff"/><stop offset="0.595" stop-color="#00eeff"/><stop offset="0.607" stop-color="#00fdff"/><stop offset="0.618" stop-color="#00ffe0"/><stop offset="0.630" stop-color="#00ffbf"/><stop offset="0.641" stop-color="#00ff9e"/><stop offset="0.653" stop-color="#00ff7d"/><stop offset="0.664" stop-color="#00ff6b"/><stop offset="0.676" stop-color="#00ff5a"/><stop offset="0.687" stop-color="#00ff30"/><stop offset="0.699" stop-color="#00ff07"/><stop offset="0.710" stop-color="#00ff00"/><stop offset="0.722" stop-color="#00ff00"/><stop offset="0.733" stop-color="#00ff00"/><stop offset="0.745" stop-color="#00ff00"/><stop offset="0.756" stop-color="#00ff00"/><stop offset="0.768" stop-color="#00ff00"/><stop offset="0.779" stop-color="#36ff00"/><stop offset="0.791" stop-color="#a8ff00"/><stop offset="0.802" stop-color="#fff000"/><stop offset="0.814" stop-color="#ffd000"/><stop offset="0.825" stop-color="#ffb100"/><stop offset="0.837" stop-color="#ff9800"/><stop offset="0.848" stop-color="#ff8300"/><stop offset="0.860" stop-color="#ff6f00"/><stop offset="0.871" stop-color="#ff5600"/><stop offset="0.883" stop-color="#ff3900"/><stop offset="0.894" stop-color="#ff1f00"/><stop offset="0.906" stop-color="#ff0900"/><stop offset="0.917" stop-color="#ff0000"/><stop offset="0.929" stop-color="#ff0000"/><stop offset="0.952" stop-color="#ff0000"/><stop offset="1.000" stop-color="#ff0000"/></linearGradient><linearGradient id="g33" gradientUnits="userSpaceOnUse" x1="56" x2="491" y1="0" y2="0"><stop offset="0.000" stop-color="#000bff"/><stop offset="0.055" stop-color="#000eff"/><stop offset="0.110" stop-color="#0011ff"/><stop offset="0.166" stop-color="#0014ff"/><stop offset="0.221" stop-color="#0017ff"/><stop offset="0.276" stop-color="#001bff"/><stop offset="0.331" stop-color="#002dff"/><stop offset="0.343" stop-color="#0032ff"/><stop offset="0.354" stop-color="#0036ff"/><stop offset="0.366" stop-color="#003eff"/><stop offset="0.377" stop-color="#0045ff"/><stop offset="0.389" stop-color="#004cff"/><stop offset="0.400" stop-color="#0054ff"/><stop offset="0.411" stop-color="#005bff"/><stop offset="0.423" stop-color="#0062ff"/><stop offset="0.434" stop-color="#006cff"/><stop offset="0.446" stop-color="#0076ff"/><stop offset="0.457" stop-color="#0080ff"/><stop offset="0.469" stop-color="#008aff"/><stop offset="0.480" stop-color="#0093ff"/><stop offset="0.492" stop-color="#009cff"/><stop offset="0.503" stop-color="#00a5ff"/><stop offset="0.515" stop-color="#00aeff"/><stop offset="0.526" stop-color="#00b4ff"/><stop offset="0.538" stop-color="#00b9ff"/><stop offset="0.549" stop-color="#00beff"/><stop offset="0.561" stop-color="#00c4ff"/><stop offset="0.572" stop-color="#00d4ff"/><stop offset="0.584" stop-color="#00e4ff"/><stop offset="0.595" stop-color="#00f4ff"/><stop offset="0.607" stop-color="#00fff8"/><stop offset="0.618" stop-color="#00ffd6"/><stop offset="0.630" stop-color="#00ffb3"/><stop offset="0.641" stop-color="#00ff91"/><stop offset="0.653" stop-color="#00ff6e"/><stop offset="0.664" stop-color="#00ff5e"/><stop offset="0.676" stop-color="#00ff4d"/><stop offset="0.687" stop-color="#00ff23"/><stop offset="0.699" stop-color="#00ff00"/><stop offset="0.710" stop-color="#00ff00"/><stop offset="0.722" stop-color="#00ff00"/><stop offset="0.733" stop-color="#00ff00"/><stop offset="0.745" stop-color="#00ff00"/><stop offset="0.756" stop-color="#00ff00"/><stop offset="0.768" stop-color="#00ff00"/><stop offset="0.779" stop-color="#4eff00"/><stop offset="0.791" stop-color="#bcff00"/><stop offset="0.802" stop-color="#ffe800"/><stop offset="0.814" stop-color="#ffc800"/><stop offset="0.825" stop-color="#ffa800"/><stop offset="0.837" stop-color="#ff9000"/><stop offset="0.848" stop-color="#ff7c00"/><stop offset="0.860" stop-color="#ff6a00"/><stop offset="0.871" stop-color="#ff5300"/><stop offset="0.883" stop-color="#ff3700"/><stop offset="0.894" stop-color="#ff1f00"/><stop offset="0.906" stop-color="#ff0900"/><stop offset="0.917" stop-color="#ff0000"/><stop offset="0.929" stop-color="#ff0000"/><stop offset="0.952" stop-color="#ff0000"/><stop offset="1.000" stop-color="#ff0000"/></linearGradient><linearGradient id="g34" gradientUnits="userSpaceOnUse" x1="56" x2="491" y1="0" y2="0"><stop offset="0.000" stop-color="#000bff"/><stop offset="0.055" stop-color="#000eff"/><stop offset="0.110" stop-color="#0011ff"/><stop offset="0.166" stop-color="#0015ff"/><stop offset="0.221" stop-color="#0018ff"/><stop offset="0.276" stop-color="#001bff"/><stop offset="0.331" stop-color="#002eff"/><stop offset="0.343" stop-color="#0033ff"/><stop offset="0.354" stop-color="#0037ff"/><stop offset="0.366" stop-color="#003fff"/><stop offset="0.377" stop-color="#0046ff"/><stop offset="0.389" stop-color="#004dff"/><stop offset="0.400" stop-color="#0055ff"/><stop offset="0.411" stop-color="#005cff"/><stop offset="0.423" stop-color="#0063ff"/><stop offset="0.434" stop-color="#006dff"/><stop offset="0.446" stop-color="#0077ff"/><stop offset="0.457" stop-color="#0081ff"/><stop offset="0.469" stop-color="#008bff"/><stop offset="0.480" stop-color="#0095ff"/><stop offset="0.492" stop-color="#009eff"/><stop offset="0.503" stop-color="#00a7ff"/><stop offset="0.515" stop-color="#00b1ff"/><stop offset="0.526" stop-color="#00b6ff"/><stop offset="0.538" stop-color="#00bcff"/><stop offset="0.549" stop-color="#00c1ff"/><stop offset="0.561" stop-color="#00c7ff"/><stop offset="0.572" stop-color="#00d7ff"/><stop offset="0.584" stop-color="#00e8ff"/><stop offset="0.595" stop-color="#00f8ff"/><stop offset="0.607" stop-color="#00fff1"/><stop offset="0.618" stop-color="#00ffce"/><stop offset="0.630" stop-color="#00ffaa"/><stop offset="0.641" stop-color="#00ff87"/><stop offset="0.653" stop-color="#00ff63"/><stop offset="0.664" stop-color="#00ff53"/><stop offset="0.676" stop-color="#00ff43"/><stop offset="0.687" stop-color="#00ff19"/><stop offset="0.699" stop-color="#00ff00"/><stop offset="0.710" stop-color="#00ff00"/><stop offset="0.722" stop-color="#00ff00"/><stop offset="0.733" stop-color="#00ff00"/><stop offset="0.745" stop-color="#00ff00"/><stop offset="0.756" stop-color="#00ff00"/><stop offset="0.768" stop-color="#00ff00"/><stop offset="0.779" stop-color="#5fff00"/><stop offset="0.791" stop-color="#cbff00"/><stop offset="0.802" stop-color="#ffe100"/><stop offset="0.814" stop-color="#ffc100"/><stop offset="0.825" stop-color="#ffa200"/><stop offset="0.837" stop-color="#ff8b00"/><stop offset="0.848" stop-color="#ff7800"/><stop offset="0.860" stop-color="#ff6700"/><stop offset="0.871" stop-color="#ff5000"/><stop offset="0.883" stop-color="#ff3600"/><stop offset="0.894" stop-color="#ff1e00"/><stop offset="0.906" stop-color="#ff0900"/><stop offset="0.917" stop-color="#ff0000"/><stop offset="0.929" stop-color="#ff0000"/><stop offset="0.952" stop-color="#ff0000"/><stop offset="1.000" stop-color="#ff0000"/></linearGradient><linearGradient id="g35" gradientUnits="userSpaceOnUse" x1="56" x2="491" y1="0" y2="0"><stop offset="0.000" stop-color="#0017ff"/><stop offset="0.055" stop-color="#001aff"/><stop offset="0.110" stop-color="#001dff"/><stop offset="0.166" stop-color="#0020ff"/><stop offset="0.221" stop-color="#0023ff"/><stop offset="0.276" stop-color="#0028ff"/><stop offset="0.331" stop-color="#002eff"/><stop offset="0.343" stop-color="#0032ff"/><stop offset="0.354" stop-color="#0037ff"/><stop offset="0.366" stop-color="#003cff"/><stop offset="0.377" stop-color="#0041ff"/><stop offset="0.389" stop-color="#0045ff"/><stop offset="0.400" stop-color="#004aff"/><stop offset="0.411" stop-color="#004fff"/><stop offset="0.423" stop-color="#005eff"/><stop offset="0.434" stop-color="#006dff"/><stop offset="0.446" stop-color="#007cff"/><stop offset="0.457" stop-color="#0092ff"/><stop offset="0.469" stop-color="#00a8ff"/><stop offset="0.480" stop-color="#00beff"/><stop offset="0.492" stop-color="#00e3ff"/><stop offset="0.503" stop-color="#00fff2"/><stop offset="0.515" stop-color="#00ffbd"/><stop offset="0.526" stop-color="#00ff94"/><stop offset="0.538" stop-color="#00ff6a"/><stop offset="0.549" stop-color="#00ff40"/><stop offset="0.561" stop-color="#00ff28"/><stop offset="0.572" stop-color="#00ff0c"/><stop offset="0.584" stop-color="#00ff00"/><stop offset="0.595" stop-color="#00ff00"/><stop offset="0.607" stop-color="#00ff00"/><stop offset="0.618" stop-color="#00ff00"/><stop offset="0.630" stop-color="#00ff00"/><stop offset="0.641" stop-color="#00ff00"/><stop offset="0.653" stop-color="#0bff00"/><stop offset="0.664" stop-color="#60ff00"/><stop offset="0.676" stop-color="#7eff00"/><stop offset="0.687" stop-color="#9cff00"/><stop offset="0.699" stop-color="#b8ff00"/><stop offset="0.710" stop-color="#d1ff00"/><stop offset="0.722" stop-color="#e8ff00"/><stop offset="0.733" stop-color="#feff00"/><stop offset="0.745" stop-color="#fff700"/><stop offset="0.756" stop-color="#ffef00"/><stop offset="0.768" stop-color="#ffe500"/><stop offset="0.779" stop-color="#ffd800"/><stop offset="0.791" stop-color="#ffca00"/><stop offset="0.802" stop-color="#ffbd00"/><stop offset="0.814" stop-color="#ffb000"/><stop offset="0.825" stop-color="#ffa100"/><stop offset="0.837" stop-color="#ff9100"/><stop offset="0.848" stop-color="#ff8100"/><stop offset="0.860" stop-color="#ff7100"/><stop offset="0.871" stop-color="#ff6000"/><stop offset="0.883" stop-color="#ff5000"/><stop offset="0.894" stop-color="#ff4000"/><stop offset="0.906" stop-color="#ff3100"/><stop offset="0.917" stop-color="#ff2a00"/><stop offset="0.929" stop-color="#ff2a00"/><stop offset="0.952" stop-color="#ff2a00"/><stop offset="1.000" stop-color="#ff2a00"/></linearGradient><linearGradient id="g36" gradientUnits="userSpaceOnUse" x1="56" x2="491" y1="0" y2="0"><stop offset="0.000" stop-color="#001aff"/><stop offset="0.055" stop-color="#001dff"/><stop offset="0.110" stop-color="#0020ff"/><stop offset="0.166" stop-color="#0023ff"/><stop offset="0.221" stop-color="#0026ff"/><stop offset="0.276" stop-color="#002bff"/><stop offset="0.331" stop-color="#0030ff"/><stop offset="0.343" stop-color="#0035ff"/><stop offset="0.354" stop-color="#003aff"/><stop offset="0.366" stop-color="#003eff"/><stop offset="0.377" stop-color="#0043ff"/><stop offset="0.389" stop-color="#0048ff"/><stop offset="0.400" stop-color="#004dff"/><stop offset="0.411" stop-color="#0051ff"/><stop offset="0.423" stop-color="#0061ff"/><stop offset="0.434" stop-color="#0070ff"/><stop offset="0.446" stop-color="#0080ff"/><stop offset="0.457" stop-color="#0096ff"/><stop offset="0.469" stop-color="#00acff"/><stop offset="0.480" stop-color="#00c2ff"/><stop offset="0.492" stop-color="#00e7ff"/><stop offset="0.503" stop-color="#00ffee"/><stop offset="0.515" stop-color="#00ffba"/><stop offset="0.526" stop-color="#00ff91"/><stop offset="0.538" stop-color="#00ff68"/><stop offset="0.549" stop-color="#00ff40"/><stop offset="0.561" stop-color="#00ff25"/><stop offset="0.572" stop-color="#00ff09"/><stop offset="0.584" stop-color="#00ff00"/><stop offset="0.595" stop-color="#00ff00"/><stop offset="0.607" stop-color="#00ff00"/><stop offset="0.618" stop-color="#00ff00"/><stop offset="0.630" stop-color="#00ff00"/><stop offset="0.641" stop-color="#00ff00"/><stop offset="0.653" stop-color="#06ff00"/><stop offset="0.664" stop-color="#5bff00"/><stop offset="0.676" stop-color="#7aff00"/><stop offset="0.687" stop-color="#9aff00"/><stop offset="0.699" stop-color="#b6ff00"/><stop offset="0.710" stop-color="#cfff00"/><stop offset="0.722" stop-color="#e6ff00"/><stop offset="0.733" stop-color="#fdff00"/><stop offset="0.745" stop-color="#fff800"/><stop offset="0.756" stop-color="#fff000"/><stop offset="0.768" stop-color="#ffe600"/><stop offset="0.779" stop-color="#ffd800"/><stop offset="0.791" stop-color="#ffcb00"/><stop offset="0.802" stop-color="#ffbd00"/><stop offset="0.814" stop-color="#ffb000"/><stop offset="0.825" stop-color="#ffa100"/><stop offset="0.837" stop-color="#ff9100"/><stop offset="0.848" stop-color="#ff8100"/><stop offset="0.860" stop-color="#ff7100"/><stop offset="0.871" stop-color="#ff6000"/><stop offset="0.883" stop-color="#ff5000"/><stop offset="0.894" stop-color="#ff4000"/><stop offset="0.906" stop-color="#ff3100"/><stop offset="0.917" stop-color="#ff2b00"/><stop offset="0.929" stop-color="#ff2b00"/><stop offset="0.952" stop-color="#ff2b00"/><stop offset="1.000" stop-color="#ff2b00"/></linearGradient><linearGradient id="g37" gradientUnits="userSpaceOnUse" x1="56" x2="491" y1="0" y2="0"><stop offset="0.000" stop-color="#001dff"/><stop offset="0.055" stop-color="#001fff"/><stop offset="0.110" stop-color="#0022ff"/><stop offset="0.166" stop-color="#0025ff"/><stop offset="0.221" stop-color="#0028ff"/><stop offset="0.276" stop-color="#002dff"/><stop offset="0.331" stop-color="#0033ff"/><stop offset="0.343" stop-color="#0038ff"/><stop offset="0.354" stop-color="#003cff"/><stop offset="0.366" stop-color="#0041ff"/><stop offset="0.377" stop-color="#0046ff"/><stop offset="0.389" stop-color="#004bff"/><stop offset="0.400" stop-color="#004fff"/><stop offset="0.411" stop-color="#0054ff"/><stop offset="0.423" stop-color="#0064ff"/><stop offset="0.434" stop-color="#0074ff"/><stop offset="0.446" stop-color="#0084ff"/><stop offset="0.457" stop-color="#009aff"/><stop offset="0.469" stop-color="#00b0ff"/><stop offset="0.480" stop-color="#00c6ff"/><stop offset="0.492" stop-color="#00eaff"/><stop offset="0.503" stop-color="#00ffea"/><stop offset="0.515" stop-color="#00ffb6"/><stop offset="0.526" stop-color="#00ff8f"/><stop offset="0.538" stop-color="#00ff67"/><stop offset="0.549" stop-color="#00ff40"/><stop offset="0.561" stop-color="#00ff22"/><stop offset="0.572" stop-color="#00ff06"/><stop offset="0.584" stop-color="#00ff00"/><stop offset="0.595" stop-color="#00ff00"/><stop offset="0.607" stop-color="#00ff00"/><stop offset="0.618" stop-color="#00ff00"/><stop offset="0.630" stop-color="#00ff00"/><stop offset="0.641" stop-color="#00ff00"/><stop offset="0.653" stop-color="#02ff00"/><stop offset="0.664" stop-color="#57ff00"/><stop offset="0.676" stop-color="#77ff00"/><stop offset="0.687" stop-color="#97ff00"/><stop offset="0.699" stop-color="#b3ff00"/><stop offset="0.710" stop-color="#cdff00"/><stop offset="0.722" stop-color="#e4ff00"/><stop offset="0.733" stop-color="#fcff00"/><stop offset="0.745" stop-color="#fff900"/><stop offset="0.756" stop-color="#fff100"/><stop offset="0.768" stop-color="#ffe700"/><stop offset="0.779" stop-color="#ffd900"/><stop offset="0.791" stop-color="#ffcb00"/><stop offset="0.802" stop-color="#ffbe00"/><stop offset="0.814" stop-color="#ffb000"/><stop offset="0.825" stop-color="#ffa200"/><stop offset="0.837" stop-color="#ff9200"/><stop offset="0.848" stop-color="#ff8200"/><stop offset="0.860" stop-color="#ff7100"/><stop offset="0.871" stop-color="#ff6000"/><stop offset="0.883" stop-color="#ff5000"/><stop offset="0.894" stop-color="#ff4000"/><stop offset="0.906" stop-color="#ff3100"/><stop offset="0.917" stop-color="#ff2b00"/><stop offset="0.929" stop-color="#ff2b00"/><stop offset="0.952" stop-color="#ff2b00"/><stop offset="1.000" stop-color="#ff2b00"/></linearGradient><linearGradient id="g38" gradientUnits="userSpaceOnUse" x1="56" x2="491" y1="0" y2="0"><stop offset="0.000" stop-color="#001fff"/><stop offset="0.055" stop-color="#0022ff"/><stop offset="0.110" stop-color="#0025ff"/><stop offset="0.166" stop-color="#0028ff"/><stop offset="0.221" stop-color="#002bff"/><stop offset="0.276" stop-color="#0030ff"/><stop offset="0.331" stop-color="#0035ff"/><stop offset="0.343" stop-color="#003aff"/><stop offset="0.354" stop-color="#003fff"/><stop offset="0.366" stop-color="#0044ff"/><stop offset="0.377" stop-color="#0048ff"/><stop offset="0.389" stop-color="#004dff"/><stop offset="0.400" stop-color="#0052ff"/><stop offset="0.411" stop-color="#0057ff"/><stop offset="0.423" stop-color="#0067ff"/><stop offset="0.434" stop-color="#0077ff"/><stop offset="0.446" stop-color="#0087ff"/><stop offset="0.457" stop-color="#009eff"/><stop offset="0.469" stop-color="#00b4ff"/><stop offset="0.480" stop-color="#00caff"/><stop offset="0.492" stop-color="#00edff"/><stop offset="0.503" stop-color="#00ffe5"/><stop offset="0.515" stop-color="#00ffb2"/><stop offset="0.526" stop-color="#00ff8c"/><stop offset="0.538" stop-color="#00ff66"/><stop offset="0.549" stop-color="#00ff40"/><stop offset="0.561" stop-color="#00ff20"/><stop offset="0.572" stop-color="#00ff04"/><stop offset="0.584" stop-color="#00ff00"/><stop offset="0.595" stop-color="#00ff00"/><stop offset="0.607" stop-color="#00ff00"/><stop offset="0.618" stop-color="#00ff00"/><stop offset="0.630" stop-color="#00ff00"/><stop offset="0.641" stop-color="#00ff00"/><stop offset="0.653" stop-color="#00ff00"/><stop offset="0.664" stop-color="#52ff00"/><stop offset="0.676" stop-color="#74ff00"/><stop offset="0.687" stop-color="#95ff00"/><stop offset="0.699" stop-color="#b1ff00"/><stop offset="0.710" stop-color="#cbff00"/><stop offset="0.722" stop-color="#e3ff00"/><stop offset="0.733" stop-color="#fbff00"/><stop offset="0.745" stop-color="#fffa00"/><stop offset="0.756" stop-color="#fff200"/><stop offset="0.768" stop-color="#ffe800"/><stop offset="0.779" stop-color="#ffda00"/><stop offset="0.791" stop-color="#ffcc00"/><stop offset="0.802" stop-color="#ffbe00"/><stop offset="0.814" stop-color="#ffb100"/><stop offset="0.825" stop-color="#ffa200"/><stop offset="0.837" stop-color="#ff9200"/><stop offset="0.848" stop-color="#ff8200"/><stop offset="0.860" stop-color="#ff7100"/><stop offset="0.871" stop-color="#ff6000"/><stop offset="0.883" stop-color="#ff5000"/><stop offset="0.894" stop-color="#ff4000"/><stop offset="0.906" stop-color="#ff3100"/><stop offset="0.917" stop-color="#ff2b00"/><stop offset="0.929" stop-color="#ff2b00"/><stop offset="0.952" stop-color="#ff2b00"/><stop offset="1.000" stop-color="#ff2b00"/></linearGradient><linearGradient id="g39" gradientUnits="userSpaceOnUse" x1="56" x2="491" y1="0" y2="0"><stop offset="0.000" stop-color="#0022ff"/><stop offset="0.055" stop-color="#0025ff"/><stop offset="0.110" stop-color="#0027ff"/><stop offset="0.166" stop-color="#002aff"/><stop offset="0.221" stop-color="#002dff"/><stop offset="0.276" stop-color="#0033ff"/><stop offset="0.331" stop-color="#0038ff"/><stop offset="0.343" stop-color="#003dff"/><stop offset="0.354" stop-color="#0041ff"/><stop offset="0.366" stop-color="#0046ff"/><stop offset="0.377" stop-color="#004bff"/><stop offset="0.389" stop-color="#0050ff"/><stop offset="0.400" stop-color="#0054ff"/><stop offset="0.411" stop-color="#0059ff"/><stop offset="0.423" stop-color="#006aff"/><stop offset="0.434" stop-color="#007bff"/><stop offset="0.446" stop-color="#008bff"/><stop offset="0.457" stop-color="#00a1ff"/><stop offset="0.469" stop-color="#00b8ff"/><stop offset="0.480" stop-color="#00ceff"/><stop offset="0.492" stop-color="#00f1ff"/><stop offset="0.503" stop-color="#00ffe1"/><stop offset="0.515" stop-color="#00ffaf"/><stop offset="0.526" stop-color="#00ff8a"/><stop offset="0.538" stop-color="#00ff65"/><stop offset="0.549" stop-color="#00ff40"/><stop offset="0.561" stop-color="#00ff1d"/><stop offset="0.572" stop-color="#00ff01"/><stop offset="0.584" stop-color="#00ff00"/><stop offset="0.595" stop-color="#00ff00"/><stop offset="0.607" stop-color="#00ff00"/><stop offset="0.618" stop-color="#00ff00"/><stop offset="0.630" stop-color="#00ff00"/><stop offset="0.641" stop-color="#00ff00"/><stop offset="0.653" stop-color="#00ff00"/><stop offset="0.664" stop-color="#4eff00"/><stop offset="0.676" stop-color="#70ff00"/><stop offset="0.687" stop-color="#93ff00"/><stop offset="0.699" stop-color="#afff00"/><stop offset="0.710" stop-color="#c9ff00"/><stop offset="0.722" stop-color="#e1ff00"/><stop offset="0.733" stop-color="#faff00"/><stop offset="0.745" stop-color="#fffb00"/><stop offset="0.756" stop-color="#fff400"/><stop offset="0.768" stop-color="#ffea00"/><stop offset="0.779" stop-color="#ffdb00"/><stop offset="0.791" stop-color="#ffcd00"/><stop offset="0.802" stop-color="#ffbf00"/><stop offset="0.814" stop-color="#ffb100"/><stop offset="0.825" stop-color="#ffa200"/><stop offset="0.837" stop-color="#ff9300"/><stop offset="0.848" stop-color="#ff8200"/><stop offset="0.860" stop-color="#ff7100"/><stop offset="0.871" stop-color="#ff6000"/><stop offset="0.883" stop-color="#ff5000"/><stop offset="0.894" stop-color="#ff4000"/><stop offset="0.906" stop-color="#ff3100"/><stop offset="0.917" stop-color="#ff2b00"/><stop offset="0.929" stop-color="#ff2b00"/><stop offset="0.952" stop-color="#ff2b00"/><stop offset="1.000" stop-color="#ff2b00"/></linearGradient><linearGradient id="g40" gradientUnits="userSpaceOnUse" x1="56" x2="491" y1="0" y2="0"><stop offset="0.000" stop-color="#0024ff"/><stop offset="0.055" stop-color="#0027ff"/><stop offset="0.110" stop-color="#002aff"/><stop offset="0.166" stop-color="#002dff"/><stop offset="0.221" stop-color="#0030ff"/><stop offset="0.276" stop-color="#0035ff"/><stop offset="0.331" stop-color="#003aff"/><stop offset="0.343" stop-color="#003fff"/><stop offset="0.354" stop-color="#0044ff"/><stop offset="0.366" stop-color="#0049ff"/><stop offset="0.377" stop-color="#004dff"/><stop offset="0.389" stop-color="#0052ff"/><stop offset="0.400" stop-color="#0057ff"/><stop offset="0.411" stop-color="#005cff"/><stop offset="0.423" stop-color="#006dff"/><stop offset="0.434" stop-color="#007eff"/><stop offset="0.446" stop-color="#008fff"/><stop offset="0.457" stop-color="#00a5ff"/><stop offset="0.469" stop-color="#00bbff"/><stop offset="0.480" stop-color="#00d2ff"/><stop offset="0.492" stop-color="#00f4ff"/><stop offset="0.503" stop-color="#00ffdd"/><stop offset="0.515" stop-color="#00ffab"/><stop offset="0.526" stop-color="#00ff87"/><stop offset="0.538" stop-color="#00ff63"/><stop offset="0.549" stop-color="#00ff40"/><stop offset="0.561" stop-color="#00ff1a"/><stop offset="0.572" stop-color="#00ff00"/><stop offset="0.584" stop-color="#00ff00"/><stop offset="0.595" stop-color="#00ff00"/><stop offset="0.607" stop-color="#00ff00"/><stop offset="0.618" stop-color="#00ff00"/><stop offset="0.630" stop-color="#00ff00"/><stop offset="0.641" stop-color="#00ff00"/><stop offset="0.653" stop-color="#00ff00"/><stop offset="0.664" stop-color="#49ff00"/><stop offset="0.676" stop-color="#6dff00"/><stop offset="0.687" stop-color="#90ff00"/><stop offset="0.699" stop-color="#acff00"/><stop offset="0.710" stop-color="#c7ff00"/><stop offset="0.722" stop-color="#e0ff00"/><stop offset="0.733" stop-color="#f9ff00"/><stop offset="0.745" stop-color="#fffc00"/><stop offset="0.756" stop-color="#fff500"/><stop offset="0.768" stop-color="#ffeb00"/><stop offset="0.779" stop-color="#ffdc00"/><stop offset="0.791" stop-color="#ffcd00"/><stop offset="0.802" stop-color="#ffbf00"/><stop offset="0.814" stop-color="#ffb200"/><stop offset="0.825" stop-color="#ffa300"/><stop offset="0.837" stop-color="#ff9400"/><stop offset="0.848" stop-color="#ff8300"/><stop offset="0.860" stop-color="#ff7100"/><stop offset="0.871" stop-color="#ff6000"/><stop offset="0.883" stop-color="#ff5000"/><stop offset="0.894" stop-color="#ff4000"/><stop offset="0.906" stop-color="#ff3100"/><stop offset="0.917" stop-color="#ff2b00"/><stop offset="0.929" stop-color="#ff2b00"/><stop offset="0.952" stop-color="#ff2b00"/><stop offset="1.000" stop-color="#ff2b00"/></linearGradient><linearGradient id="g41" gradientUnits="userSpaceOnUse" x1="56" x2="491" y1="0" y2="0"><stop offset="0.000" stop-color="#0027ff"/><stop offset="0.055" stop-color="#002aff"/><stop offset="0.110" stop-color="#002dff"/><stop offset="0.166" stop-color="#002fff"/><stop offset="0.221" stop-color="#0032ff"/><stop offset="0.276" stop-color="#0038ff"/><stop offset="0.331" stop-color="#003dff"/><stop offset="0.343" stop-color="#0042ff"/><stop offset="0.354" stop-color="#0047ff"/><stop offset="0.366" stop-color="#004bff"/><stop offset="0.377" stop-color="#0050ff"/><stop offset="0.389" stop-color="#0055ff"/><stop offset="0.400" stop-color="#005aff"/><stop offset="0.411" stop-color="#005eff"/><stop offset="0.423" stop-color="#0070ff"/><stop offset="0.434" stop-color="#0081ff"/><stop offset="0.446" stop-color="#0093ff"/><stop offset="0.457" stop-color="#00a9ff"/><stop offset="0.469" stop-color="#00bfff"/><stop offset="0.480" stop-color="#00d5ff"/><stop offset="0.492" stop-color="#00f8ff"/><stop offset="0.503" stop-color="#00ffd8"/><stop offset="0.515" stop-color="#00ffa7"/><stop offset="0.526" stop-color="#00ff85"/><stop offset="0.538" stop-color="#00ff62"/><stop offset="0.549" stop-color="#00ff40"/><stop offset="0.561" stop-color="#00ff18"/><stop offset="0.572" stop-color="#00ff00"/><stop offset="0.584" stop-color="#00ff00"/><stop offset="0.595" stop-color="#00ff00"/><stop offset="0.607" stop-color="#00ff00"/><stop offset="0.618" stop-color="#00ff00"/><stop offset="0.630" stop-color="#00ff00"/><stop offset="0.641" stop-color="#00ff00"/><stop offset="0.653" stop-color="#00ff00"/><stop offset="0.664" stop-color="#45ff00"/><stop offset="0.676" stop-color="#69ff00"/><stop offset="0.687" stop-color="#8eff00"/><stop offset="0.699" stop-color="#aaff00"/><stop offset="0.710" stop-color="#c5ff00"/><stop offset="0.722" stop-color="#deff00"/><stop offset="0.733" stop-color="#f8ff00"/><stop offset="0.745" stop-color="#fffc00"/><stop offset="0.756" stop-color="#fff600"/><stop offset="0.768" stop-color="#ffec00"/><stop offset="0.779" stop-color="#ffdd00"/><stop offset="0.791" stop-color="#ffce00"/><stop offset="0.802" stop-color="#ffc000"/><stop offset="0.814" stop-color="#ffb200"/><stop offset="0.825" stop-color="#ffa300"/><stop offset="0.837" stop-color="#ff9400"/><stop offset="0.848" stop-color="#ff8300"/><stop offset="0.860" stop-color="#ff7100"/><stop offset="0.871" stop-color="#ff6000"/><stop offset="0.883" stop-color="#ff5000"/><stop offset="0.894" stop-color="#ff4000"/><stop offset="0.906" stop-color="#ff3100"/><stop offset="0.917" stop-color="#ff2b00"/><stop offset="0.929" stop-color="#ff2b00"/><stop offset="0.952" stop-color="#ff2b00"/><stop offset="1.000" stop-color="#ff2b00"/></linearGradient><linearGradient id="g42" gradientUnits="userSpaceOnUse" x1="56" x2="491" y1="0" y2="0"><stop offset="0.000" stop-color="#0029ff"/><stop offset="0.055" stop-color="#002cff"/><stop offset="0.110" stop-color="#002fff"/><stop offset="0.166" stop-color="#0032ff"/><stop offset="0.221" stop-color="#0035ff"/><stop offset="0.276" stop-color="#003aff"/><stop offset="0.331" stop-color="#0040ff"/><stop offset="0.343" stop-color="#0044ff"/><stop offset="0.354" stop-color="#0049ff"/><stop offset="0.366" stop-color="#004eff"/><stop offset="0.377" stop-color="#0053ff"/><stop offset="0.389" stop-color="#0057ff"/><stop offset="0.400" stop-color="#005cff"/><stop offset="0.411" stop-color="#0061ff"/><stop offset="0.423" stop-color="#0073ff"/><stop offset="0.434" stop-color="#0085ff"/><stop offset="0.446" stop-color="#0097ff"/><stop offset="0.457" stop-color="#00adff"/><stop offset="0.469" stop-color="#00c3ff"/><stop offset="0.480" stop-color="#00d9ff"/><stop offset="0.492" stop-color="#00fbff"/><stop offset="0.503" stop-color="#00ffd4"/><stop offset="0.515" stop-color="#00ffa4"/><stop offset="0.526" stop-color="#00ff82"/><stop offset="0.538" stop-color="#00ff61"/><stop offset="0.549" stop-color="#00ff40"/><stop offset="0.561" stop-color="#00ff15"/><stop offset="0.572" stop-color="#00ff00"/><stop offset="0.584" stop-color="#00ff00"/><stop offset="0.595" stop-color="#00ff00"/><stop offset="0.607" stop-color="#00ff00"/><stop offset="0.618" stop-color="#00ff00"/><stop offset="0.630" stop-color="#00ff00"/><stop offset="0.641" stop-color="#00ff00"/><stop offset="0.653" stop-color="#00ff00"/><stop offset="0.664" stop-color="#40ff00"/><stop offset="0.676" stop-color="#66ff00"/><stop offset="0.687" stop-color="#8cff00"/><stop offset="0.699" stop-color="#a8ff00"/><stop offset="0.710" stop-color="#c3ff00"/><stop offset="0.722" stop-color="#ddff00"/><stop offset="0.733" stop-color="#f6ff00"/><stop offset="0.745" stop-color="#fffd00"/><stop offset="0.756" stop-color="#fff700"/><stop offset="0.768" stop-color="#ffed00"/><stop offset="0.779" stop-color="#ffde00"/><stop offset="0.791" stop-color="#ffce00"/><stop offset="0.802" stop-color="#ffc000"/><stop offset="0.814" stop-color="#ffb200"/><stop offset="0.825" stop-color="#ffa400"/><stop offset="0.837" stop-color="#ff9500"/><stop offset="0.848" stop-color="#ff8400"/><stop offset="0.860" stop-color="#ff7200"/><stop offset="0.871" stop-color="#ff6000"/><stop offset="0.883" stop-color="#ff5000"/><stop offset="0.894" stop-color="#ff4000"/><stop offset="0.906" stop-color="#ff3100"/><stop offset="0.917" stop-color="#ff2b00"/><stop offset="0.929" stop-color="#ff2b00"/><stop offset="0.952" stop-color="#ff2b00"/><stop offset="1.000" stop-color="#ff2b00"/></linearGradient><linearGradient id="g43" gradientUnits="userSpaceOnUse" x1="56" x2="491" y1="0" y2="0"><stop offset="0.000" stop-color="#002cff"/><stop offset="0.055" stop-color="#002fff"/><stop offset="0.110" stop-color="#0032ff"/><stop offset="0.166" stop-color="#0034ff"/><stop offset="0.221" stop-color="#0038ff"/><stop offset="0.276" stop-color="#003dff"/><stop offset="0.331" stop-color="#0042ff"/><stop offset="0.343" stop-color="#0047ff"/><stop offset="0.354" stop-color="#004cff"/><stop offset="0.366" stop-color="#0050ff"/><stop offset="0.377" stop-color="#0055ff"/><stop offset="0.389" stop-color="#005aff"/><stop offset="0.400" stop-color="#005fff"/><stop offset="0.411" stop-color="#0063ff"/><stop offset="0.423" stop-color="#0076ff"/><stop offset="0.434" stop-color="#0088ff"/><stop offset="0.446" stop-color="#009bff"/><stop offset="0.457" stop-color="#00b1ff"/><stop offset="0.469" stop-color="#00c7ff"/><stop offset="0.480" stop-color="#00ddff"/><stop offset="0.492" stop-color="#00ffff"/><stop offset="0.503" stop-color="#00ffd0"/><stop offset="0.515" stop-color="#00ffa0"/><stop offset="0.526" stop-color="#00ff80"/><stop offset="0.538" stop-color="#00ff60"/><stop offset="0.549" stop-color="#00ff40"/><stop offset="0.561" stop-color="#00ff13"/><stop offset="0.572" stop-color="#00ff00"/><stop offset="0.584" stop-color="#00ff00"/><stop offset="0.595" stop-color="#00ff00"/><stop offset="0.607" stop-color="#00ff00"/><stop offset="0.618" stop-color="#00ff00"/><stop offset="0.630" stop-color="#00ff00"/><stop offset="0.641" stop-color="#00ff00"/><stop offset="0.653" stop-color="#00ff00"/><stop offset="0.664" stop-color="#3bff00"/><stop offset="0.676" stop-color="#63ff00"/><stop offset="0.687" stop-color="#8aff00"/><stop offset="0.699" stop-color="#a6ff00"/><stop offset="0.710" stop-color="#c1ff00"/><stop offset="0.722" stop-color="#dbff00"/><stop offset="0.733" stop-color="#f5ff00"/><stop offset="0.745" stop-color="#fffe00"/><stop offset="0.756" stop-color="#fff800"/><stop offset="0.768" stop-color="#ffee00"/><stop offset="0.779" stop-color="#ffdf00"/><stop offset="0.791" stop-color="#ffcf00"/><stop offset="0.802" stop-color="#ffc100"/><stop offset="0.814" stop-color="#ffb300"/><stop offset="0.825" stop-color="#ffa400"/><stop offset="0.837" stop-color="#ff9500"/><stop offset="0.848" stop-color="#ff8400"/><stop offset="0.860" stop-color="#ff7200"/><stop offset="0.871" stop-color="#ff6000"/><stop offset="0.883" stop-color="#ff5000"/><stop offset="0.894" stop-color="#ff4000"/><stop offset="0.906" stop-color="#ff3100"/><stop offset="0.917" stop-color="#ff2b00"/><stop offset="0.929" stop-color="#ff2b00"/><stop offset="0.952" stop-color="#ff2b00"/><stop offset="1.000" stop-color="#ff2b00"/></linearGradient><linearGradient id="g44" gradientUnits="userSpaceOnUse" x1="56" x2="491" y1="0" y2="0"><stop offset="0.000" stop-color="#002fff"/><stop offset="0.055" stop-color="#0031ff"/><stop offset="0.110" stop-color="#0034ff"/><stop offset="0.166" stop-color="#0037ff"/><stop offset="0.221" stop-color="#003aff"/><stop offset="0.276" stop-color="#0040ff"/><stop offset="0.331" stop-color="#0046ff"/><stop offset="0.343" stop-color="#004bff"/><stop offset="0.354" stop-color="#0050ff"/><stop offset="0.366" stop-color="#0055ff"/><stop offset="0.377" stop-color="#005bff"/><stop offset="0.389" stop-color="#0060ff"/><stop offset="0.400" stop-color="#0065ff"/><stop offset="0.411" stop-color="#006aff"/><stop offset="0.423" stop-color="#007cff"/><stop offset="0.434" stop-color="#008dff"/><stop offset="0.446" stop-color="#009fff"/><stop offset="0.457" stop-color="#00b4ff"/><stop offset="0.469" stop-color="#00c9ff"/><stop offset="0.480" stop-color="#00dfff"/><stop offset="0.492" stop-color="#00ffff"/><stop offset="0.503" stop-color="#00ffd1"/><stop offset="0.515" stop-color="#00ffa3"/><stop offset="0.526" stop-color="#00ff83"/><stop offset="0.538" stop-color="#00ff63"/><stop offset="0.549" stop-color="#00ff43"/><stop offset="0.561" stop-color="#00ff13"/><stop offset="0.572" stop-color="#00ff00"/><stop offset="0.584" stop-color="#00ff00"/><stop offset="0.595" stop-color="#00ff00"/><stop offset="0.607" stop-color="#00ff00"/><stop offset="0.618" stop-color="#00ff00"/><stop offset="0.630" stop-color="#00ff00"/><stop offset="0.641" stop-color="#00ff00"/><stop offset="0.653" stop-color="#00ff00"/><stop offset="0.664" stop-color="#35ff00"/><stop offset="0.676" stop-color="#5eff00"/><stop offset="0.687" stop-color="#87ff00"/><stop offset="0.699" stop-color="#a2ff00"/><stop offset="0.710" stop-color="#bdff00"/><stop offset="0.722" stop-color="#d9ff00"/><stop offset="0.733" stop-color="#f4ff00"/><stop offset="0.745" stop-color="#ffff00"/><stop offset="0.756" stop-color="#fff900"/><stop offset="0.768" stop-color="#ffef00"/><stop offset="0.779" stop-color="#ffdf00"/><stop offset="0.791" stop-color="#ffd000"/><stop offset="0.802" stop-color="#ffc100"/><stop offset="0.814" stop-color="#ffb300"/><stop offset="0.825" stop-color="#ffa500"/><stop offset="0.837" stop-color="#ff9600"/><stop offset="0.848" stop-color="#ff8500"/><stop offset="0.860" stop-color="#ff7200"/><stop offset="0.871" stop-color="#ff6000"/><stop offset="0.883" stop-color="#ff5000"/><stop offset="0.894" stop-color="#ff4000"/><stop offset="0.906" stop-color="#ff3100"/><stop offset="0.917" stop-color="#ff2b00"/><stop offset="0.929" stop-color="#ff2b00"/><stop offset="0.952" stop-color="#ff2b00"/><stop offset="1.000" stop-color="#ff2b00"/></linearGradient><linearGradient id="g45" gradientUnits="userSpaceOnUse" x1="56" x2="491" y1="0" y2="0"><stop offset="0.000" stop-color="#0031ff"/><stop offset="0.055" stop-color="#0034ff"/><stop offset="0.110" stop-color="#0037ff"/><stop offset="0.166" stop-color="#003aff"/><stop offset="0.221" stop-color="#003dff"/><stop offset="0.276" stop-color="#0043ff"/><stop offset="0.331" stop-color="#004aff"/><stop offset="0.343" stop-color="#004fff"/><stop offset="0.354" stop-color="#0055ff"/><stop offset="0.366" stop-color="#005bff"/><stop offset="0.377" stop-color="#0061ff"/><stop offset="0.389" stop-color="#0067ff"/><stop offset="0.400" stop-color="#006cff"/><stop offset="0.411" stop-color="#0072ff"/><stop offset="0.423" stop-color="#0082ff"/><stop offset="0.434" stop-color="#0092ff"/><stop offset="0.446" stop-color="#00a2ff"/><stop offset="0.457" stop-color="#00b7ff"/><stop offset="0.469" stop-color="#00ccff"/><stop offset="0.480" stop-color="#00e0ff"/><stop offset="0.492" stop-color="#00ffff"/><stop offset="0.503" stop-color="#00ffd3"/><stop offset="0.515" stop-color="#00ffa6"/><stop offset="0.526" stop-color="#00ff86"/><stop offset="0.538" stop-color="#00ff66"/><stop offset="0.549" stop-color="#00ff47"/><stop offset="0.561" stop-color="#00ff14"/><stop offset="0.572" stop-color="#00ff00"/><stop offset="0.584" stop-color="#00ff00"/><stop offset="0.595" stop-color="#00ff00"/><stop offset="0.607" stop-color="#00ff00"/><stop offset="0.618" stop-color="#00ff00"/><stop offset="0.630" stop-color="#00ff00"/><stop offset="0.641" stop-color="#00ff00"/><stop offset="0.653" stop-color="#00ff00"/><stop offset="0.664" stop-color="#2eff00"/><stop offset="0.676" stop-color="#5aff00"/><stop offset="0.687" stop-color="#85ff00"/><stop offset="0.699" stop-color="#9eff00"/><stop offset="0.710" stop-color="#b9ff00"/><stop offset="0.722" stop-color="#d6ff00"/><stop offset="0.733" stop-color="#f3ff00"/><stop offset="0.745" stop-color="#feff00"/><stop offset="0.756" stop-color="#fffa00"/><stop offset="0.768" stop-color="#fff000"/><stop offset="0.779" stop-color="#ffe000"/><stop offset="0.791" stop-color="#ffd000"/><stop offset="0.802" stop-color="#ffc200"/><stop offset="0.814" stop-color="#ffb300"/><stop offset="0.825" stop-color="#ffa500"/><stop offset="0.837" stop-color="#ff9600"/><stop offset="0.848" stop-color="#ff8500"/><stop offset="0.860" stop-color="#ff7200"/><stop offset="0.871" stop-color="#ff6000"/><stop offset="0.883" stop-color="#ff5000"/><stop offset="0.894" stop-color="#ff4000"/><stop offset="0.906" stop-color="#ff3100"/><stop offset="0.917" stop-color="#ff2b00"/><stop offset="0.929" stop-color="#ff2b00"/><stop offset="0.952" stop-color="#ff2b00"/><stop offset="1.000" stop-color="#ff2b00"/></linearGradient><linearGradient id="g46" gradientUnits="userSpaceOnUse" x1="56" x2="491" y1="0" y2="0"><stop offset="0.000" stop-color="#0034ff"/><stop offset="0.055" stop-color="#0037ff"/><stop offset="0.110" stop-color="#0039ff"/><stop offset="0.166" stop-color="#003cff"/><stop offset="0.221" stop-color="#003fff"/><stop offset="0.276" stop-color="#0046ff"/><stop offset="0.331" stop-color="#004eff"/><stop offset="0.343" stop-color="#0054ff"/><stop offset="0.354" stop-color="#005aff"/><stop offset="0.366" stop-color="#0060ff"/><stop offset="0.377" stop-color="#0067ff"/><stop offset="0.389" stop-color="#006dff"/><stop offset="0.400" stop-color="#0073ff"/><stop offset="0.411" stop-color="#007aff"/><stop offset="0.423" stop-color="#0089ff"/><stop offset="0.434" stop-color="#0097ff"/><stop offset="0.446" stop-color="#00a6ff"/><stop offset="0.457" stop-color="#00baff"/><stop offset="0.469" stop-color="#00ceff"/><stop offset="0.480" stop-color="#00e1ff"/><stop offset="0.492" stop-color="#00ffff"/><stop offset="0.503" stop-color="#00ffd4"/><stop offset="0.515" stop-color="#00ffaa"/><stop offset="0.526" stop-color="#00ff8a"/><stop offset="0.538" stop-color="#00ff6a"/><stop offset="0.549" stop-color="#00ff4a"/><stop offset="0.561" stop-color="#00ff15"/><stop offset="0.572" stop-color="#00ff00"/><stop offset="0.584" stop-color="#00ff00"/><stop offset="0.595" stop-color="#00ff00"/><stop offset="0.607" stop-color="#00ff00"/><stop offset="0.618" stop-color="#00ff00"/><stop offset="0.630" stop-color="#00ff00"/><stop offset="0.641" stop-color="#00ff00"/><stop offset="0.653" stop-color="#00ff00"/><stop offset="0.664" stop-color="#27ff00"/><stop offset="0.676" stop-color="#55ff00"/><stop offset="0.687" stop-color="#83ff00"/><stop offset="0.699" stop-color="#9aff00"/><stop offset="0.710" stop-color="#b6ff00"/><stop offset="0.722" stop-color="#d4ff00"/><stop offset="0.733" stop-color="#f2ff00"/><stop offset="0.745" stop-color="#fcff00"/><stop offset="0.756" stop-color="#fffb00"/><stop offset="0.768" stop-color="#fff100"/><stop offset="0.779" stop-color="#ffe100"/><stop offset="0.791" stop-color="#ffd100"/><stop offset="0.802" stop-color="#ffc200"/><stop offset="0.814" stop-color="#ffb400"/><stop offset="0.825" stop-color="#ffa500"/><stop offset="0.837" stop-color="#ff9700"/><stop offset="0.848" stop-color="#ff8600"/><stop offset="0.860" stop-color="#ff7200"/><stop offset="0.871" stop-color="#ff6000"/><stop offset="0.883" stop-color="#ff5000"/><stop offset="0.894" stop-color="#ff4000"/><stop offset="0.906" stop-color="#ff3100"/><stop offset="0.917" stop-color="#ff2b00"/><stop offset="0.929" stop-color="#ff2b00"/><stop offset="0.952" stop-color="#ff2b00"/><stop offset="1.000" stop-color="#ff2b00"/></linearGradient><linearGradient id="g47" gradientUnits="userSpaceOnUse" x1="56" x2="491" y1="0" y2="0"><stop offset="0.000" stop-color="#0036ff"/><stop offset="0.055" stop-color="#0039ff"/><stop offset="0.110" stop-color="#003cff"/><stop offset="0.166" stop-color="#003fff"/><stop offset="0.221" stop-color="#0042ff"/><stop offset="0.276" stop-color="#004aff"/><stop offset="0.331" stop-color="#0051ff"/><stop offset="0.343" stop-color="#0058ff"/><stop offset="0.354" stop-color="#005fff"/><stop offset="0.366" stop-color="#0066ff"/><stop offset="0.377" stop-color="#006dff"/><stop offset="0.389" stop-color="#0074ff"/><stop offset="0.400" stop-color="#007bff"/><stop offset="0.411" stop-color="#0081ff"/><stop offset="0.423" stop-color="#008fff"/><stop offset="0.434" stop-color="#009dff"/><stop offset="0.446" stop-color="#00aaff"/><stop offset="0.457" stop-color="#00bdff"/><stop offset="0.469" stop-color="#00d0ff"/><stop offset="0.480" stop-color="#00e3ff"/><stop offset="0.492" stop-color="#00ffff"/><stop offset="0.503" stop-color="#00ffd6"/><stop offset="0.515" stop-color="#00ffae"/><stop offset="0.526" stop-color="#00ff8e"/><stop offset="0.538" stop-color="#00ff6e"/><stop offset="0.549" stop-color="#00ff4e"/><stop offset="0.561" stop-color="#00ff16"/><stop offset="0.572" stop-color="#00ff00"/><stop offset="0.584" stop-color="#00ff00"/><stop offset="0.595" stop-color="#00ff00"/><stop offset="0.607" stop-color="#00ff00"/><stop offset="0.618" stop-color="#00ff00"/><stop offset="0.630" stop-color="#00ff00"/><stop offset="0.641" stop-color="#00ff00"/><stop offset="0.653" stop-color="#00ff00"/><stop offset="0.664" stop-color="#21ff00"/><stop offset="0.676" stop-color="#51ff00"/><stop offset="0.687" stop-color="#81ff00"/><stop offset="0.699" stop-color="#96ff00"/><stop offset="0.710" stop-color="#b2ff00"/><stop offset="0.722" stop-color="#d1ff00"/><stop offset="0.733" stop-color="#f1ff00"/><stop offset="0.745" stop-color="#faff00"/><stop offset="0.756" stop-color="#fffc00"/><stop offset="0.768" stop-color="#fff300"/><stop offset="0.779" stop-color="#ffe200"/><stop offset="0.791" stop-color="#ffd200"/><stop offset="0.802" stop-color="#ffc300"/><stop offset="0.814" stop-color="#ffb400"/><stop offset="0.825" stop-color="#ffa600"/><stop offset="0.837" stop-color="#ff9700"/><stop offset="0.848" stop-color="#ff8600"/><stop offset="0.860" stop-color="#ff7200"/><stop offset="0.871" stop-color="#ff6000"/><stop offset="0.883" stop-color="#ff5000"/><stop offset="0.894" stop-color="#ff4000"/><stop offset="0.906" stop-color="#ff3100"/><stop offset="0.917" stop-color="#ff2b00"/><stop offset="0.929" stop-color="#ff2b00"/><stop offset="0.952" stop-color="#ff2b00"/><stop offset="1.000" stop-color="#ff2b00"/></linearGradient><linearGradient id="g48" gradientUnits="userSpaceOnUse" x1="56" x2="491" y1="0" y2="0"><stop offset="0.000" stop-color="#0039ff"/><stop offset="0.055" stop-color="#003cff"/><stop offset="0.110" stop-color="#003eff"/><stop offset="0.166" stop-color="#0041ff"/><stop offset="0.221" stop-color="#0045ff"/><stop offset="0.276" stop-color="#004dff"/><stop offset="0.331" stop-color="#0055ff"/><stop offset="0.343" stop-color="#005dff"/><stop offset="0.354" stop-color="#0064ff"/><stop offset="0.366" stop-color="#006bff"/><stop offset="0.377" stop-color="#0073ff"/><stop offset="0.389" stop-color="#007aff"/><stop offset="0.400" stop-color="#0082ff"/><stop offset="0.411" stop-color="#0089ff"/><stop offset="0.423" stop-color="#0095ff"/><stop offset="0.434" stop-color="#00a2ff"/><stop offset="0.446" stop-color="#00aeff"/><stop offset="0.457" stop-color="#00c0ff"/><stop offset="0.469" stop-color="#00d2ff"/><stop offset="0.480" stop-color="#00e4ff"/><stop offset="0.492" stop-color="#00ffff"/><stop offset="0.503" stop-color="#00ffd8"/><stop offset="0.515" stop-color="#00ffb1"/><stop offset="0.526" stop-color="#00ff91"/><stop offset="0.538" stop-color="#00ff72"/><stop offset="0.549" stop-color="#00ff52"/><stop offset="0.561" stop-color="#00ff17"/><stop offset="0.572" stop-color="#00ff00"/><stop offset="0.584" stop-color="#00ff00"/><stop offset="0.595" stop-color="#00ff00"/><stop offset="0.607" stop-color="#00ff00"/><stop offset="0.618" stop-color="#00ff00"/><stop offset="0.630" stop-color="#00ff00"/><stop offset="0.641" stop-color="#00ff00"/><stop offset="0.653" stop-color="#00ff00"/><stop offset="0.664" stop-color="#1aff00"/><stop offset="0.676" stop-color="#4cff00"/><stop offset="0.687" stop-color="#7eff00"/><stop offset="0.699" stop-color="#92ff00"/><stop offset="0.710" stop-color="#aeff00"/><stop offset="0.722" stop-color="#cfff00"/><stop offset="0.733" stop-color="#f0ff00"/><stop offset="0.745" stop-color="#f9ff00"/><stop offset="0.756" stop-color="#fffd00"/><stop offset="0.768" stop-color="#fff400"/><stop offset="0.779" stop-color="#ffe300"/><stop offset="0.791" stop-color="#ffd200"/><stop offset="0.802" stop-color="#ffc300"/><stop offset="0.814" stop-color="#ffb400"/><stop offset="0.825" stop-color="#ffa600"/><stop offset="0.837" stop-color="#ff9800"/><stop offset="0.848" stop-color="#ff8600"/><stop offset="0.860" stop-color="#ff7200"/><stop offset="0.871" stop-color="#ff6000"/><stop offset="0.883" stop-color="#ff5000"/><stop offset="0.894" stop-color="#ff4000"/><stop offset="0.906" stop-color="#ff3100"/><stop offset="0.917" stop-color="#ff2b00"/><stop offset="0.929" stop-color="#ff2b00"/><stop offset="0.952" stop-color="#ff2b00"/><stop offset="1.000" stop-color="#ff2b00"/></linearGradient><linearGradient id="g49" gradientUnits="userSpaceOnUse" x1="56" x2="491" y1="0" y2="0"><stop offset="0.000" stop-color="#003bff"/><stop offset="0.055" stop-color="#003eff"/><stop offset="0.110" stop-color="#0041ff"/><stop offset="0.166" stop-color="#0044ff"/><stop offset="0.221" stop-color="#0047ff"/><stop offset="0.276" stop-color="#0050ff"/><stop offset="0.331" stop-color="#0059ff"/><stop offset="0.343" stop-color="#0061ff"/><stop offset="0.354" stop-color="#0069ff"/><stop offset="0.366" stop-color="#0071ff"/><stop offset="0.377" stop-color="#0079ff"/><stop offset="0.389" stop-color="#0081ff"/><stop offset="0.400" stop-color="#0089ff"/><stop offset="0.411" stop-color="#0091ff"/><stop offset="0.423" stop-color="#009cff"/><stop offset="0.434" stop-color="#00a7ff"/><stop offset="0.446" stop-color="#00b2ff"/><stop offset="0.457" stop-color="#00c3ff"/><stop offset="0.469" stop-color="#00d4ff"/><stop offset="0.480" stop-color="#00e5ff"/><stop offset="0.492" stop-color="#00ffff"/><stop offset="0.503" stop-color="#00ffda"/><stop offset="0.515" stop-color="#00ffb5"/><stop offset="0.526" stop-color="#00ff95"/><stop offset="0.538" stop-color="#00ff75"/><stop offset="0.549" stop-color="#00ff55"/><stop offset="0.561" stop-color="#00ff18"/><stop offset="0.572" stop-color="#00ff00"/><stop offset="0.584" stop-color="#00ff00"/><stop offset="0.595" stop-color="#00ff00"/><stop offset="0.607" stop-color="#00ff00"/><stop offset="0.618" stop-color="#00ff00"/><stop offset="0.630" stop-color="#00ff00"/><stop offset="0.641" stop-color="#00ff00"/><stop offset="0.653" stop-color="#00ff00"/><stop offset="0.664" stop-color="#13ff00"/><stop offset="0.676" stop-color="#47ff00"/><stop offset="0.687" stop-color="#7cff00"/><stop offset="0.699" stop-color="#8fff00"/><stop offset="0.710" stop-color="#aaff00"/><stop offset="0.722" stop-color="#ccff00"/><stop offset="0.733" stop-color="#efff00"/><stop offset="0.745" stop-color="#f7ff00"/><stop offset="0.756" stop-color="#fffe00"/><stop offset="0.768" stop-color="#fff500"/><stop offset="0.779" stop-color="#ffe400"/><stop offset="0.791" stop-color="#ffd300"/><stop offset="0.802" stop-color="#ffc400"/><stop offset="0.814" stop-color="#ffb500"/><stop offset="0.825" stop-color="#ffa600"/><stop offset="0.837" stop-color="#ff9900"/><stop offset="0.848" stop-color="#ff8700"/><stop offset="0.860" stop-color="#ff7200"/><stop offset="0.871" stop-color="#ff6000"/><stop offset="0.883" stop-color="#ff5000"/><stop offset="0.894" stop-color="#ff4000"/><stop offset="0.906" stop-color="#ff3100"/><stop offset="0.917" stop-color="#ff2b00"/><stop offset="0.929" stop-color="#ff2b00"/><stop offset="0.952" stop-color="#ff2b00"/><stop offset="1.000" stop-color="#ff2b00"/></linearGradient><linearGradient id="g50" gradientUnits="userSpaceOnUse" x1="56" x2="491" y1="0" y2="0"><stop offset="0.000" stop-color="#003eff"/><stop offset="0.055" stop-color="#0041ff"/><stop offset="0.110" stop-color="#0044ff"/><stop offset="0.166" stop-color="#0046ff"/><stop offset="0.221" stop-color="#004aff"/><stop offset="0.276" stop-color="#0053ff"/><stop offset="0.331" stop-color="#005dff"/><stop offset="0.343" stop-color="#0065ff"/><stop offset="0.354" stop-color="#006eff"/><stop offset="0.366" stop-color="#0076ff"/><stop offset="0.377" stop-color="#007fff"/><stop offset="0.389" stop-color="#0088ff"/><stop offset="0.400" stop-color="#0090ff"/><stop offset="0.411" stop-color="#0099ff"/><stop offset="0.423" stop-color="#00a2ff"/><stop offset="0.434" stop-color="#00acff"/><stop offset="0.446" stop-color="#00b6ff"/><stop offset="0.457" stop-color="#00c6ff"/><stop offset="0.469" stop-color="#00d6ff"/><stop offset="0.480" stop-color="#00e7ff"/><stop offset="0.492" stop-color="#00ffff"/><stop offset="0.503" stop-color="#00ffdc"/><stop offset="0.515" stop-color="#00ffb9"/><stop offset="0.526" stop-color="#00ff99"/><stop offset="0.538" stop-color="#00ff79"/><stop offset="0.549" stop-color="#00ff59"/><stop offset="0.561" stop-color="#00ff19"/><stop offset="0.572" stop-color="#00ff00"/><stop offset="0.584" stop-color="#00ff00"/><stop offset="0.595" stop-color="#00ff00"/><stop offset="0.607" stop-color="#00ff00"/><stop offset="0.618" stop-color="#00ff00"/><stop offset="0.630" stop-color="#00ff00"/><stop offset="0.641" stop-color="#00ff00"/><stop offset="0.653" stop-color="#00ff00"/><stop offset="0.664" stop-color="#0cff00"/><stop offset="0.676" stop-color="#43ff00"/><stop offset="0.687" stop-color="#7aff00"/><stop offset="0.699" stop-color="#8bff00"/><stop offset="0.710" stop-color="#a7ff00"/><stop offset="0.722" stop-color="#caff00"/><stop offset="0.733" stop-color="#edff00"/><stop offset="0.745" stop-color="#f6ff00"/><stop offset="0.756" stop-color="#feff00"/><stop offset="0.768" stop-color="#fff600"/><stop offset="0.779" stop-color="#ffe500"/><stop offset="0.791" stop-color="#ffd300"/><stop offset="0.802" stop-color="#ffc400"/><stop offset="0.814" stop-color="#ffb500"/><stop offset="0.825" stop-color="#ffa700"/><stop offset="0.837" stop-color="#ff9900"/><stop offset="0.848" stop-color="#ff8700"/><stop offset="0.860" stop-color="#ff7300"/><stop offset="0.871" stop-color="#ff6000"/><stop offset="0.883" stop-color="#ff5000"/><stop offset="0.894" stop-color="#ff4000"/><stop offset="0.906" stop-color="#ff3100"/><stop offset="0.917" stop-color="#ff2b00"/><stop offset="0.929" stop-color="#ff2b00"/><stop offset="0.952" stop-color="#ff2b00"/><stop offset="1.000" stop-color="#ff2b00"/></linearGradient><linearGradient id="g51" gradientUnits="userSpaceOnUse" x1="56" x2="491" y1="0" y2="0"><stop offset="0.000" stop-color="#0041ff"/><stop offset="0.055" stop-color="#0043ff"/><stop offset="0.110" stop-color="#0046ff"/><stop offset="0.166" stop-color="#0049ff"/><stop offset="0.221" stop-color="#004cff"/><stop offset="0.276" stop-color="#0057ff"/><stop offset="0.331" stop-color="#0061ff"/><stop offset="0.343" stop-color="#006aff"/><stop offset="0.354" stop-color="#0073ff"/><stop offset="0.366" stop-color="#007cff"/><stop offset="0.377" stop-color="#0085ff"/><stop offset="0.389" stop-color="#008eff"/><stop offset="0.400" stop-color="#0097ff"/><stop offset="0.411" stop-color="#00a0ff"/><stop offset="0.423" stop-color="#00a9ff"/><stop offset="0.434" stop-color="#00b1ff"/><stop offset="0.446" stop-color="#00b9ff"/><stop offset="0.457" stop-color="#00c9ff"/><stop offset="0.469" stop-color="#00d8ff"/><stop offset="0.480" stop-color="#00e8ff"/><stop offset="0.492" stop-color="#00ffff"/><stop offset="0.503" stop-color="#00ffde"/><stop offset="0.515" stop-color="#00ffbc"/><stop offset="0.526" stop-color="#00ff9c"/><stop offset="0.538" stop-color="#00ff7d"/><stop offset="0.549" stop-color="#00ff5d"/><stop offset="0.561" stop-color="#00ff1a"/><stop offset="0.572" stop-color="#00ff00"/><stop offset="0.584" stop-color="#00ff00"/><stop offset="0.595" stop-color="#00ff00"/><stop offset="0.607" stop-color="#00ff00"/><stop offset="0.618" stop-color="#00ff00"/><stop offset="0.630" stop-color="#00ff00"/><stop offset="0.641" stop-color="#00ff00"/><stop offset="0.653" stop-color="#00ff00"/><stop offset="0.664" stop-color="#05ff00"/><stop offset="0.676" stop-color="#3eff00"/><stop offset="0.687" stop-color="#77ff00"/><stop offset="0.699" stop-color="#87ff00"/><stop offset="0.710" stop-color="#a3ff00"/><stop offset="0.722" stop-color="#c8ff00"/><stop offset="0.733" stop-color="#ecff00"/><stop offset="0.745" stop-color="#f4ff00"/><stop offset="0.756" stop-color="#fcff00"/><stop offset="0.768" stop-color="#fff700"/><stop offset="0.779" stop-color="#ffe600"/><stop offset="0.791" stop-color="#ffd400"/><stop offset="0.802" stop-color="#ffc500"/><stop offset="0.814" stop-color="#ffb500"/><stop offset="0.825" stop-color="#ffa700"/><stop offset="0.837" stop-color="#ff9a00"/><stop offset="0.848" stop-color="#ff8800"/><stop offset="0.860" stop-color="#ff7300"/><stop offset="0.871" stop-color="#ff6000"/><stop offset="0.883" stop-color="#ff5000"/><stop offset="0.894" stop-color="#ff4000"/><stop offset="0.906" stop-color="#ff3100"/><stop offset="0.917" stop-color="#ff2b00"/><stop offset="0.929" stop-color="#ff2b00"/><stop offset="0.952" stop-color="#ff2b00"/><stop offset="1.000" stop-color="#ff2b00"/></linearGradient><linearGradient id="g52" gradientUnits="userSpaceOnUse" x1="56" x2="491" y1="0" y2="0"><stop offset="0.000" stop-color="#0043ff"/><stop offset="0.055" stop-color="#0046ff"/><stop offset="0.110" stop-color="#0048ff"/><stop offset="0.166" stop-color="#004bff"/><stop offset="0.221" stop-color="#004fff"/><stop offset="0.276" stop-color="#0059ff"/><stop offset="0.331" stop-color="#0064ff"/><stop offset="0.343" stop-color="#006dff"/><stop offset="0.354" stop-color="#0077ff"/><stop offset="0.366" stop-color="#0080ff"/><stop offset="0.377" stop-color="#0089ff"/><stop offset="0.389" stop-color="#0093ff"/><stop offset="0.400" stop-color="#009cff"/><stop offset="0.411" stop-color="#00a6ff"/><stop offset="0.423" stop-color="#00adff"/><stop offset="0.434" stop-color="#00b5ff"/><stop offset="0.446" stop-color="#00bcff"/><stop offset="0.457" stop-color="#00cbff"/><stop offset="0.469" stop-color="#00d9ff"/><stop offset="0.480" stop-color="#00e8ff"/><stop offset="0.492" stop-color="#00feff"/><stop offset="0.503" stop-color="#00ffe0"/><stop offset="0.515" stop-color="#00ffc0"/><stop offset="0.526" stop-color="#00ffa0"/><stop offset="0.538" stop-color="#00ff80"/><stop offset="0.549" stop-color="#00ff60"/><stop offset="0.561" stop-color="#00ff1d"/><stop offset="0.572" stop-color="#00ff00"/><stop offset="0.584" stop-color="#00ff00"/><stop offset="0.595" stop-color="#00ff00"/><stop offset="0.607" stop-color="#00ff00"/><stop offset="0.618" stop-color="#00ff00"/><stop offset="0.630" stop-color="#00ff00"/><stop offset="0.641" stop-color="#00ff00"/><stop offset="0.653" stop-color="#00ff00"/><stop offset="0.664" stop-color="#00ff00"/><stop offset="0.676" stop-color="#39ff00"/><stop offset="0.687" stop-color="#74ff00"/><stop offset="0.699" stop-color="#82ff00"/><stop offset="0.710" stop-color="#9eff00"/><stop offset="0.722" stop-color="#c4ff00"/><stop offset="0.733" stop-color="#eaff00"/><stop offset="0.745" stop-color="#f2ff00"/><stop offset="0.756" stop-color="#faff00"/><stop offset="0.768" stop-color="#fff800"/><stop offset="0.779" stop-color="#ffe600"/><stop offset="0.791" stop-color="#ffd500"/><stop offset="0.802" stop-color="#ffc500"/><stop offset="0.814" stop-color="#ffb600"/><stop offset="0.825" stop-color="#ffa700"/><stop offset="0.837" stop-color="#ff9a00"/><stop offset="0.848" stop-color="#ff8800"/><stop offset="0.860" stop-color="#ff7300"/><stop offset="0.871" stop-color="#ff6100"/><stop offset="0.883" stop-color="#ff5000"/><stop offset="0.894" stop-color="#ff4000"/><stop offset="0.906" stop-color="#ff3100"/><stop offset="0.917" stop-color="#ff2b00"/><stop offset="0.929" stop-color="#ff2b00"/><stop offset="0.952" stop-color="#ff2b00"/><stop offset="1.000" stop-color="#ff2b00"/></linearGradient><linearGradient id="g53" gradientUnits="userSpaceOnUse" x1="56" x2="491" y1="0" y2="0"><stop offset="0.000" stop-color="#0044ff"/><stop offset="0.055" stop-color="#0047ff"/><stop offset="0.110" stop-color="#004aff"/><stop offset="0.166" stop-color="#004dff"/><stop offset="0.221" stop-color="#0050ff"/><stop offset="0.276" stop-color="#005aff"/><stop offset="0.331" stop-color="#0064ff"/><stop offset="0.343" stop-color="#006dff"/><stop offset="0.354" stop-color="#0076ff"/><stop offset="0.366" stop-color="#007fff"/><stop offset="0.377" stop-color="#0088ff"/><stop offset="0.389" stop-color="#0091ff"/><stop offset="0.400" stop-color="#009aff"/><stop offset="0.411" stop-color="#00a3ff"/><stop offset="0.423" stop-color="#00abff"/><stop offset="0.434" stop-color="#00b2ff"/><stop offset="0.446" stop-color="#00b9ff"/><stop offset="0.457" stop-color="#00c8ff"/><stop offset="0.469" stop-color="#00d7ff"/><stop offset="0.480" stop-color="#00e6ff"/><stop offset="0.492" stop-color="#00fcff"/><stop offset="0.503" stop-color="#00ffe4"/><stop offset="0.515" stop-color="#00ffc4"/><stop offset="0.526" stop-color="#00ffa4"/><stop offset="0.538" stop-color="#00ff84"/><stop offset="0.549" stop-color="#00ff64"/><stop offset="0.561" stop-color="#00ff25"/><stop offset="0.572" stop-color="#00ff00"/><stop offset="0.584" stop-color="#00ff00"/><stop offset="0.595" stop-color="#00ff00"/><stop offset="0.607" stop-color="#00ff00"/><stop offset="0.618" stop-color="#00ff00"/><stop offset="0.630" stop-color="#00ff00"/><stop offset="0.641" stop-color="#00ff00"/><stop offset="0.653" stop-color="#00ff00"/><stop offset="0.664" stop-color="#00ff00"/><stop offset="0.676" stop-color="#2eff00"/><stop offset="0.687" stop-color="#6bff00"/><stop offset="0.699" stop-color="#79ff00"/><stop offset="0.710" stop-color="#96ff00"/><stop offset="0.722" stop-color="#bcff00"/><stop offset="0.733" stop-color="#e3ff00"/><stop offset="0.745" stop-color="#edff00"/><stop offset="0.756" stop-color="#f7ff00"/><stop offset="0.768" stop-color="#fff900"/><stop offset="0.779" stop-color="#ffe800"/><stop offset="0.791" stop-color="#ffd700"/><stop offset="0.802" stop-color="#ffc700"/><stop offset="0.814" stop-color="#ffb700"/><stop offset="0.825" stop-color="#ffa800"/><stop offset="0.837" stop-color="#ff9b00"/><stop offset="0.848" stop-color="#ff8900"/><stop offset="0.860" stop-color="#ff7400"/><stop offset="0.871" stop-color="#ff6200"/><stop offset="0.883" stop-color="#ff5100"/><stop offset="0.894" stop-color="#ff4000"/><stop offset="0.906" stop-color="#ff3100"/><stop offset="0.917" stop-color="#ff2b00"/><stop offset="0.929" stop-color="#ff2b00"/><stop offset="0.952" stop-color="#ff2b00"/><stop offset="1.000" stop-color="#ff2b00"/></linearGradient><linearGradient id="g54" gradientUnits="userSpaceOnUse" x1="56" x2="491" y1="0" y2="0"><stop offset="0.000" stop-color="#0045ff"/><stop offset="0.055" stop-color="#0048ff"/><stop offset="0.110" stop-color="#004bff"/><stop offset="0.166" stop-color="#004eff"/><stop offset="0.221" stop-color="#0051ff"/><stop offset="0.276" stop-color="#005bff"/><stop offset="0.331" stop-color="#0064ff"/><stop offset="0.343" stop-color="#006cff"/><stop offset="0.354" stop-color="#0075ff"/><stop offset="0.366" stop-color="#007eff"/><stop offset="0.377" stop-color="#0087ff"/><stop offset="0.389" stop-color="#008fff"/><stop offset="0.400" stop-color="#0098ff"/><stop offset="0.411" stop-color="#00a1ff"/><stop offset="0.423" stop-color="#00a8ff"/><stop offset="0.434" stop-color="#00afff"/><stop offset="0.446" stop-color="#00b7ff"/><stop offset="0.457" stop-color="#00c6ff"/><stop offset="0.469" stop-color="#00d4ff"/><stop offset="0.480" stop-color="#00e3ff"/><stop offset="0.492" stop-color="#00f9ff"/><stop offset="0.503" stop-color="#00ffe7"/><stop offset="0.515" stop-color="#00ffc7"/><stop offset="0.526" stop-color="#00ffa8"/><stop offset="0.538" stop-color="#00ff88"/><stop offset="0.549" stop-color="#00ff68"/><stop offset="0.561" stop-color="#00ff2c"/><stop offset="0.572" stop-color="#00ff07"/><stop offset="0.584" stop-color="#00ff00"/><stop offset="0.595" stop-color="#00ff00"/><stop offset="0.607" stop-color="#00ff00"/><stop offset="0.618" stop-color="#00ff00"/><stop offset="0.630" stop-color="#00ff00"/><stop offset="0.641" stop-color="#00ff00"/><stop offset="0.653" stop-color="#00ff00"/><stop offset="0.664" stop-color="#00ff00"/><stop offset="0.676" stop-color="#24ff00"/><stop offset="0.687" stop-color="#62ff00"/><stop offset="0.699" stop-color="#70ff00"/><stop offset="0.710" stop-color="#8dff00"/><stop offset="0.722" stop-color="#b5ff00"/><stop offset="0.733" stop-color="#dcff00"/><stop offset="0.745" stop-color="#e9ff00"/><stop offset="0.756" stop-color="#f5ff00"/><stop offset="0.768" stop-color="#fffa00"/><stop offset="0.779" stop-color="#ffe900"/><stop offset="0.791" stop-color="#ffd900"/><stop offset="0.802" stop-color="#ffc800"/><stop offset="0.814" stop-color="#ffb700"/><stop offset="0.825" stop-color="#ffa900"/><stop offset="0.837" stop-color="#ff9b00"/><stop offset="0.848" stop-color="#ff8a00"/><stop offset="0.860" stop-color="#ff7500"/><stop offset="0.871" stop-color="#ff6300"/><stop offset="0.883" stop-color="#ff5100"/><stop offset="0.894" stop-color="#ff4000"/><stop offset="0.906" stop-color="#ff3100"/><stop offset="0.917" stop-color="#ff2b00"/><stop offset="0.929" stop-color="#ff2b00"/><stop offset="0.952" stop-color="#ff2b00"/><stop offset="1.000" stop-color="#ff2b00"/></linearGradient><linearGradient id="g55" gradientUnits="userSpaceOnUse" x1="56" x2="491" y1="0" y2="0"><stop offset="0.000" stop-color="#0047ff"/><stop offset="0.055" stop-color="#0049ff"/><stop offset="0.110" stop-color="#004cff"/><stop offset="0.166" stop-color="#004fff"/><stop offset="0.221" stop-color="#0052ff"/><stop offset="0.276" stop-color="#005bff"/><stop offset="0.331" stop-color="#0064ff"/><stop offset="0.343" stop-color="#006cff"/><stop offset="0.354" stop-color="#0074ff"/><stop offset="0.366" stop-color="#007dff"/><stop offset="0.377" stop-color="#0085ff"/><stop offset="0.389" stop-color="#008dff"/><stop offset="0.400" stop-color="#0096ff"/><stop offset="0.411" stop-color="#009eff"/><stop offset="0.423" stop-color="#00a5ff"/><stop offset="0.434" stop-color="#00adff"/><stop offset="0.446" stop-color="#00b4ff"/><stop offset="0.457" stop-color="#00c3ff"/><stop offset="0.469" stop-color="#00d2ff"/><stop offset="0.480" stop-color="#00e1ff"/><stop offset="0.492" stop-color="#00f7ff"/><stop offset="0.503" stop-color="#00ffeb"/><stop offset="0.515" stop-color="#00ffcb"/><stop offset="0.526" stop-color="#00ffab"/><stop offset="0.538" stop-color="#00ff8b"/><stop offset="0.549" stop-color="#00ff6b"/><stop offset="0.561" stop-color="#00ff34"/><stop offset="0.572" stop-color="#00ff0f"/><stop offset="0.584" stop-color="#00ff00"/><stop offset="0.595" stop-color="#00ff00"/><stop offset="0.607" stop-color="#00ff00"/><stop offset="0.618" stop-color="#00ff00"/><stop offset="0.630" stop-color="#00ff00"/><stop offset="0.641" stop-color="#00ff00"/><stop offset="0.653" stop-color="#00ff00"/><stop offset="0.664" stop-color="#00ff00"/><stop offset="0.676" stop-color="#1aff00"/><stop offset="0.687" stop-color="#58ff00"/><stop offset="0.699" stop-color="#66ff00"/><stop offset="0.710" stop-color="#84ff00"/><stop offset="0.722" stop-color="#adff00"/><stop offset="0.733" stop-color="#d5ff00"/><stop offset="0.745" stop-color="#e4ff00"/><stop offset="0.756" stop-color="#f3ff00"/><stop offset="0.768" stop-color="#fffb00"/><stop offset="0.779" stop-color="#ffea00"/><stop offset="0.791" stop-color="#ffda00"/><stop offset="0.802" stop-color="#ffc900"/><stop offset="0.814" stop-color="#ffb800"/><stop offset="0.825" stop-color="#ffa900"/><stop offset="0.837" stop-color="#ff9c00"/><stop offset="0.848" stop-color="#ff8b00"/><stop offset="0.860" stop-color="#ff7600"/><stop offset="0.871" stop-color="#ff6300"/><stop offset="0.883" stop-color="#ff5200"/><stop offset="0.894" stop-color="#ff4000"/><stop offset="0.906" stop-color="#ff3100"/><stop offset="0.917" stop-color="#ff2b00"/><stop offset="0.929" stop-color="#ff2b00"/><stop offset="0.952" stop-color="#ff2b00"/><stop offset="1.000" stop-color="#ff2b00"/></linearGradient><linearGradient id="g56" gradientUnits="userSpaceOnUse" x1="56" x2="491" y1="0" y2="0"><stop offset="0.000" stop-color="#0048ff"/><stop offset="0.055" stop-color="#004bff"/><stop offset="0.110" stop-color="#004eff"/><stop offset="0.166" stop-color="#0050ff"/><stop offset="0.221" stop-color="#0054ff"/><stop offset="0.276" stop-color="#005cff"/><stop offset="0.331" stop-color="#0064ff"/><stop offset="0.343" stop-color="#006cff"/><stop offset="0.354" stop-color="#0074ff"/><stop offset="0.366" stop-color="#007cff"/><stop offset="0.377" stop-color="#0084ff"/><stop offset="0.389" stop-color="#008cff"/><stop offset="0.400" stop-color="#0094ff"/><stop offset="0.411" stop-color="#009bff"/><stop offset="0.423" stop-color="#00a3ff"/><stop offset="0.434" stop-color="#00aaff"/><stop offset="0.446" stop-color="#00b2ff"/><stop offset="0.457" stop-color="#00c0ff"/><stop offset="0.469" stop-color="#00cfff"/><stop offset="0.480" stop-color="#00deff"/><stop offset="0.492" stop-color="#00f4ff"/><stop offset="0.503" stop-color="#00ffef"/><stop offset="0.515" stop-color="#00ffcf"/><stop offset="0.526" stop-color="#00ffaf"/><stop offset="0.538" stop-color="#00ff8f"/><stop offset="0.549" stop-color="#00ff6f"/><stop offset="0.561" stop-color="#00ff3c"/><stop offset="0.572" stop-color="#00ff16"/><stop offset="0.584" stop-color="#00ff00"/><stop offset="0.595" stop-color="#00ff00"/><stop offset="0.607" stop-color="#00ff00"/><stop offset="0.618" stop-color="#00ff00"/><stop offset="0.630" stop-color="#00ff00"/><stop offset="0.641" stop-color="#00ff00"/><stop offset="0.653" stop-color="#00ff00"/><stop offset="0.664" stop-color="#00ff00"/><stop offset="0.676" stop-color="#10ff00"/><stop offset="0.687" stop-color="#4fff00"/><stop offset="0.699" stop-color="#5dff00"/><stop offset="0.710" stop-color="#7cff00"/><stop offset="0.722" stop-color="#a5ff00"/><stop offset="0.733" stop-color="#cfff00"/><stop offset="0.745" stop-color="#dfff00"/><stop offset="0.756" stop-color="#f0ff00"/><stop offset="0.768" stop-color="#fffb00"/><stop offset="0.779" stop-color="#ffec00"/><stop offset="0.791" stop-color="#ffdc00"/><stop offset="0.802" stop-color="#ffcb00"/><stop offset="0.814" stop-color="#ffb900"/><stop offset="0.825" stop-color="#ffaa00"/><stop offset="0.837" stop-color="#ff9d00"/><stop offset="0.848" stop-color="#ff8b00"/><stop offset="0.860" stop-color="#ff7700"/><stop offset="0.871" stop-color="#ff6400"/><stop offset="0.883" stop-color="#ff5200"/><stop offset="0.894" stop-color="#ff4000"/><stop offset="0.906" stop-color="#ff3100"/><stop offset="0.917" stop-color="#ff2b00"/><stop offset="0.929" stop-color="#ff2b00"/><stop offset="0.952" stop-color="#ff2b00"/><stop offset="1.000" stop-color="#ff2b00"/></linearGradient><linearGradient id="g57" gradientUnits="userSpaceOnUse" x1="56" x2="491" y1="0" y2="0"><stop offset="0.000" stop-color="#0049ff"/><stop offset="0.055" stop-color="#004cff"/><stop offset="0.110" stop-color="#004fff"/><stop offset="0.166" stop-color="#0052ff"/><stop offset="0.221" stop-color="#0055ff"/><stop offset="0.276" stop-color="#005cff"/><stop offset="0.331" stop-color="#0064ff"/><stop offset="0.343" stop-color="#006bff"/><stop offset="0.354" stop-color="#0073ff"/><stop offset="0.366" stop-color="#007bff"/><stop offset="0.377" stop-color="#0082ff"/><stop offset="0.389" stop-color="#008aff"/><stop offset="0.400" stop-color="#0091ff"/><stop offset="0.411" stop-color="#0099ff"/><stop offset="0.423" stop-color="#00a0ff"/><stop offset="0.434" stop-color="#00a8ff"/><stop offset="0.446" stop-color="#00afff"/><stop offset="0.457" stop-color="#00beff"/><stop offset="0.469" stop-color="#00cdff"/><stop offset="0.480" stop-color="#00dbff"/><stop offset="0.492" stop-color="#00f2ff"/><stop offset="0.503" stop-color="#00fff2"/><stop offset="0.515" stop-color="#00ffd2"/><stop offset="0.526" stop-color="#00ffb3"/><stop offset="0.538" stop-color="#00ff93"/><stop offset="0.549" stop-color="#00ff73"/><stop offset="0.561" stop-color="#00ff43"/><stop offset="0.572" stop-color="#00ff1e"/><stop offset="0.584" stop-color="#00ff01"/><stop offset="0.595" stop-color="#00ff00"/><stop offset="0.607" stop-color="#00ff00"/><stop offset="0.618" stop-color="#00ff00"/><stop offset="0.630" stop-color="#00ff00"/><stop offset="0.641" stop-color="#00ff00"/><stop offset="0.653" stop-color="#00ff00"/><stop offset="0.664" stop-color="#00ff00"/><stop offset="0.676" stop-color="#06ff00"/><stop offset="0.687" stop-color="#46ff00"/><stop offset="0.699" stop-color="#54ff00"/><stop offset="0.710" stop-color="#73ff00"/><stop offset="0.722" stop-color="#9eff00"/><stop offset="0.733" stop-color="#c8ff00"/><stop offset="0.745" stop-color="#dbff00"/><stop offset="0.756" stop-color="#eeff00"/><stop offset="0.768" stop-color="#fffc00"/><stop offset="0.779" stop-color="#ffed00"/><stop offset="0.791" stop-color="#ffde00"/><stop offset="0.802" stop-color="#ffcc00"/><stop offset="0.814" stop-color="#ffba00"/><stop offset="0.825" stop-color="#ffab00"/><stop offset="0.837" stop-color="#ff9d00"/><stop offset="0.848" stop-color="#ff8c00"/><stop offset="0.860" stop-color="#ff7900"/><stop offset="0.871" stop-color="#ff6500"/><stop offset="0.883" stop-color="#ff5300"/><stop offset="0.894" stop-color="#ff4000"/><stop offset="0.906" stop-color="#ff3100"/><stop offset="0.917" stop-color="#ff2b00"/><stop offset="0.929" stop-color="#ff2b00"/><stop offset="0.952" stop-color="#ff2b00"/><stop offset="1.000" stop-color="#ff2b00"/></linearGradient><linearGradient id="g58" gradientUnits="userSpaceOnUse" x1="56" x2="491" y1="0" y2="0"><stop offset="0.000" stop-color="#004aff"/><stop offset="0.055" stop-color="#004dff"/><stop offset="0.110" stop-color="#0050ff"/><stop offset="0.166" stop-color="#0053ff"/><stop offset="0.221" stop-color="#0056ff"/><stop offset="0.276" stop-color="#005dff"/><stop offset="0.331" stop-color="#0064ff"/><stop offset="0.343" stop-color="#006bff"/><stop offset="0.354" stop-color="#0072ff"/><stop offset="0.366" stop-color="#0079ff"/><stop offset="0.377" stop-color="#0081ff"/><stop offset="0.389" stop-color="#0088ff"/><stop offset="0.400" stop-color="#008fff"/><stop offset="0.411" stop-color="#0096ff"/><stop offset="0.423" stop-color="#009eff"/><stop offset="0.434" stop-color="#00a5ff"/><stop offset="0.446" stop-color="#00adff"/><stop offset="0.457" stop-color="#00bbff"/><stop offset="0.469" stop-color="#00caff"/><stop offset="0.480" stop-color="#00d9ff"/><stop offset="0.492" stop-color="#00efff"/><stop offset="0.503" stop-color="#00fff6"/><stop offset="0.515" stop-color="#00ffd6"/><stop offset="0.526" stop-color="#00ffb6"/><stop offset="0.538" stop-color="#00ff96"/><stop offset="0.549" stop-color="#00ff77"/><stop offset="0.561" stop-color="#00ff4b"/><stop offset="0.572" stop-color="#00ff26"/><stop offset="0.584" stop-color="#00ff07"/><stop offset="0.595" stop-color="#00ff00"/><stop offset="0.607" stop-color="#00ff00"/><stop offset="0.618" stop-color="#00ff00"/><stop offset="0.630" stop-color="#00ff00"/><stop offset="0.641" stop-color="#00ff00"/><stop offset="0.653" stop-color="#00ff00"/><stop offset="0.664" stop-color="#00ff00"/><stop offset="0.676" stop-color="#00ff00"/><stop offset="0.687" stop-color="#3dff00"/><stop offset="0.699" stop-color="#4bff00"/><stop offset="0.710" stop-color="#6bff00"/><stop offset="0.722" stop-color="#96ff00"/><stop offset="0.733" stop-color="#c1ff00"/><stop offset="0.745" stop-color="#d6ff00"/><stop offset="0.756" stop-color="#ebff00"/><stop offset="0.768" stop-color="#fffd00"/><stop offset="0.779" stop-color="#ffee00"/><stop offset="0.791" stop-color="#ffe000"/><stop offset="0.802" stop-color="#ffcd00"/><stop offset="0.814" stop-color="#ffbb00"/><stop offset="0.825" stop-color="#ffab00"/><stop offset="0.837" stop-color="#ff9e00"/><stop offset="0.848" stop-color="#ff8d00"/><stop offset="0.860" stop-color="#ff7a00"/><stop offset="0.871" stop-color="#ff6600"/><stop offset="0.883" stop-color="#ff5300"/><stop offset="0.894" stop-color="#ff4000"/><stop offset="0.906" stop-color="#ff3100"/><stop offset="0.917" stop-color="#ff2b00"/><stop offset="0.929" stop-color="#ff2b00"/><stop offset="0.952" stop-color="#ff2b00"/><stop offset="1.000" stop-color="#ff2b00"/></linearGradient><linearGradient id="g59" gradientUnits="userSpaceOnUse" x1="56" x2="491" y1="0" y2="0"><stop offset="0.000" stop-color="#004cff"/><stop offset="0.055" stop-color="#004fff"/><stop offset="0.110" stop-color="#0051ff"/><stop offset="0.166" stop-color="#0054ff"/><stop offset="0.221" stop-color="#0057ff"/><stop offset="0.276" stop-color="#005eff"/><stop offset="0.331" stop-color="#0064ff"/><stop offset="0.343" stop-color="#006bff"/><stop offset="0.354" stop-color="#0071ff"/><stop offset="0.366" stop-color="#0078ff"/><stop offset="0.377" stop-color="#007fff"/><stop offset="0.389" stop-color="#0086ff"/><stop offset="0.400" stop-color="#008dff"/><stop offset="0.411" stop-color="#0094ff"/><stop offset="0.423" stop-color="#009bff"/><stop offset="0.434" stop-color="#00a3ff"/><stop offset="0.446" stop-color="#00aaff"/><stop offset="0.457" stop-color="#00b9ff"/><stop offset="0.469" stop-color="#00c8ff"/><stop offset="0.480" stop-color="#00d6ff"/><stop offset="0.492" stop-color="#00ecff"/><stop offset="0.503" stop-color="#00fffa"/><stop offset="0.515" stop-color="#00ffda"/><stop offset="0.526" stop-color="#00ffba"/><stop offset="0.538" stop-color="#00ff9a"/><stop offset="0.549" stop-color="#00ff7a"/><stop offset="0.561" stop-color="#00ff52"/><stop offset="0.572" stop-color="#00ff2e"/><stop offset="0.584" stop-color="#00ff0d"/><stop offset="0.595" stop-color="#00ff00"/><stop offset="0.607" stop-color="#00ff00"/><stop offset="0.618" stop-color="#00ff00"/><stop offset="0.630" stop-color="#00ff00"/><stop offset="0.641" stop-color="#00ff00"/><stop offset="0.653" stop-color="#00ff00"/><stop offset="0.664" stop-color="#00ff00"/><stop offset="0.676" stop-color="#00ff00"/><stop offset="0.687" stop-color="#34ff00"/><stop offset="0.699" stop-color="#42ff00"/><stop offset="0.710" stop-color="#62ff00"/><stop offset="0.722" stop-color="#8eff00"/><stop offset="0.733" stop-color="#baff00"/><stop offset="0.745" stop-color="#d2ff00"/><stop offset="0.756" stop-color="#e9ff00"/><stop offset="0.768" stop-color="#fffe00"/><stop offset="0.779" stop-color="#fff000"/><stop offset="0.791" stop-color="#ffe200"/><stop offset="0.802" stop-color="#ffcf00"/><stop offset="0.814" stop-color="#ffbb00"/><stop offset="0.825" stop-color="#ffac00"/><stop offset="0.837" stop-color="#ff9e00"/><stop offset="0.848" stop-color="#ff8e00"/><stop offset="0.860" stop-color="#ff7b00"/><stop offset="0.871" stop-color="#ff6700"/><stop offset="0.883" stop-color="#ff5400"/><stop offset="0.894" stop-color="#ff4000"/><stop offset="0.906" stop-color="#ff3100"/><stop offset="0.917" stop-color="#ff2b00"/><stop offset="0.929" stop-color="#ff2b00"/><stop offset="0.952" stop-color="#ff2b00"/><stop offset="1.000" stop-color="#ff2b00"/></linearGradient><linearGradient id="g60" gradientUnits="userSpaceOnUse" x1="56" x2="491" y1="0" y2="0"><stop offset="0.000" stop-color="#004dff"/><stop offset="0.055" stop-color="#0050ff"/><stop offset="0.110" stop-color="#0053ff"/><stop offset="0.166" stop-color="#0056ff"/><stop offset="0.221" stop-color="#0059ff"/><stop offset="0.276" stop-color="#005eff"/><stop offset="0.331" stop-color="#0064ff"/><stop offset="0.343" stop-color="#006aff"/><stop offset="0.354" stop-color="#0071ff"/><stop offset="0.366" stop-color="#0077ff"/><stop offset="0.377" stop-color="#007eff"/><stop offset="0.389" stop-color="#0084ff"/><stop offset="0.400" stop-color="#008bff"/><stop offset="0.411" stop-color="#0091ff"/><stop offset="0.423" stop-color="#0099ff"/><stop offset="0.434" stop-color="#00a0ff"/><stop offset="0.446" stop-color="#00a7ff"/><stop offset="0.457" stop-color="#00b6ff"/><stop offset="0.469" stop-color="#00c5ff"/><stop offset="0.480" stop-color="#00d4ff"/><stop offset="0.492" stop-color="#00eaff"/><stop offset="0.503" stop-color="#00fffd"/><stop offset="0.515" stop-color="#00ffde"/><stop offset="0.526" stop-color="#00ffbe"/><stop offset="0.538" stop-color="#00ff9e"/><stop offset="0.549" stop-color="#00ff7e"/><stop offset="0.561" stop-color="#00ff5a"/><stop offset="0.572" stop-color="#00ff36"/><stop offset="0.584" stop-color="#00ff12"/><stop offset="0.595" stop-color="#00ff00"/><stop offset="0.607" stop-color="#00ff00"/><stop offset="0.618" stop-color="#00ff00"/><stop offset="0.630" stop-color="#00ff00"/><stop offset="0.641" stop-color="#00ff00"/><stop offset="0.653" stop-color="#00ff00"/><stop offset="0.664" stop-color="#00ff00"/><stop offset="0.676" stop-color="#00ff00"/><stop offset="0.687" stop-color="#2bff00"/><stop offset="0.699" stop-color="#39ff00"/><stop offset="0.710" stop-color="#5aff00"/><stop offset="0.722" stop-color="#87ff00"/><stop offset="0.733" stop-color="#b3ff00"/><stop offset="0.745" stop-color="#cdff00"/><stop offset="0.756" stop-color="#e6ff00"/><stop offset="0.768" stop-color="#ffff00"/><stop offset="0.779" stop-color="#fff100"/><stop offset="0.791" stop-color="#ffe400"/><stop offset="0.802" stop-color="#ffd000"/><stop offset="0.814" stop-color="#ffbc00"/><stop offset="0.825" stop-color="#ffac00"/><stop offset="0.837" stop-color="#ff9f00"/><stop offset="0.848" stop-color="#ff8f00"/><stop offset="0.860" stop-color="#ff7c00"/><stop offset="0.871" stop-color="#ff6800"/><stop offset="0.883" stop-color="#ff5400"/><stop offset="0.894" stop-color="#ff4000"/><stop offset="0.906" stop-color="#ff3100"/><stop offset="0.917" stop-color="#ff2b00"/><stop offset="0.929" stop-color="#ff2b00"/><stop offset="0.952" stop-color="#ff2b00"/><stop offset="1.000" stop-color="#ff2b00"/></linearGradient><linearGradient id="g61" gradientUnits="userSpaceOnUse" x1="56" x2="491" y1="0" y2="0"><stop offset="0.000" stop-color="#004eff"/><stop offset="0.055" stop-color="#0050ff"/><stop offset="0.110" stop-color="#0053ff"/><stop offset="0.166" stop-color="#0056ff"/><stop offset="0.221" stop-color="#0059ff"/><stop offset="0.276" stop-color="#005eff"/><stop offset="0.331" stop-color="#0064ff"/><stop offset="0.343" stop-color="#006aff"/><stop offset="0.354" stop-color="#0070ff"/><stop offset="0.366" stop-color="#0076ff"/><stop offset="0.377" stop-color="#007dff"/><stop offset="0.389" stop-color="#0083ff"/><stop offset="0.400" stop-color="#0089ff"/><stop offset="0.411" stop-color="#008fff"/><stop offset="0.423" stop-color="#0097ff"/><stop offset="0.434" stop-color="#009eff"/><stop offset="0.446" stop-color="#00a6ff"/><stop offset="0.457" stop-color="#00b4ff"/><stop offset="0.469" stop-color="#00c3ff"/><stop offset="0.480" stop-color="#00d2ff"/><stop offset="0.492" stop-color="#00e8ff"/><stop offset="0.503" stop-color="#00fdff"/><stop offset="0.515" stop-color="#00ffe2"/><stop offset="0.526" stop-color="#00ffc2"/><stop offset="0.538" stop-color="#00ffa3"/><stop offset="0.549" stop-color="#00ff83"/><stop offset="0.561" stop-color="#00ff61"/><stop offset="0.572" stop-color="#00ff3e"/><stop offset="0.584" stop-color="#00ff1a"/><stop offset="0.595" stop-color="#00ff00"/><stop offset="0.607" stop-color="#00ff00"/><stop offset="0.618" stop-color="#00ff00"/><stop offset="0.630" stop-color="#00ff00"/><stop offset="0.641" stop-color="#00ff00"/><stop offset="0.653" stop-color="#00ff00"/><stop offset="0.664" stop-color="#00ff00"/><stop offset="0.676" stop-color="#00ff00"/><stop offset="0.687" stop-color="#1eff00"/><stop offset="0.699" stop-color="#2fff00"/><stop offset="0.710" stop-color="#51ff00"/><stop offset="0.722" stop-color="#80ff00"/><stop offset="0.733" stop-color="#aeff00"/><stop offset="0.745" stop-color="#c9ff00"/><stop offset="0.756" stop-color="#e4ff00"/><stop offset="0.768" stop-color="#feff00"/><stop offset="0.779" stop-color="#fff200"/><stop offset="0.791" stop-color="#ffe500"/><stop offset="0.802" stop-color="#ffd100"/><stop offset="0.814" stop-color="#ffbd00"/><stop offset="0.825" stop-color="#ffad00"/><stop offset="0.837" stop-color="#ff9f00"/><stop offset="0.848" stop-color="#ff8f00"/><stop offset="0.860" stop-color="#ff7c00"/><stop offset="0.871" stop-color="#ff6900"/><stop offset="0.883" stop-color="#ff5400"/><stop offset="0.894" stop-color="#ff4000"/><stop offset="0.906" stop-color="#ff3100"/><stop offset="0.917" stop-color="#ff2b00"/><stop offset="0.929" stop-color="#ff2b00"/><stop offset="0.952" stop-color="#ff2b00"/><stop offset="1.000" stop-color="#ff2b00"/></linearGradient><linearGradient id="g62" gradientUnits="userSpaceOnUse" x1="56" x2="491" y1="0" y2="0"><stop offset="0.000" stop-color="#004eff"/><stop offset="0.055" stop-color="#0050ff"/><stop offset="0.110" stop-color="#0053ff"/><stop offset="0.166" stop-color="#0056ff"/><stop offset="0.221" stop-color="#0059ff"/><stop offset="0.276" stop-color="#005eff"/><stop offset="0.331" stop-color="#0064ff"/><stop offset="0.343" stop-color="#006aff"/><stop offset="0.354" stop-color="#0070ff"/><stop offset="0.366" stop-color="#0076ff"/><stop offset="0.377" stop-color="#007cff"/><stop offset="0.389" stop-color="#0082ff"/><stop offset="0.400" stop-color="#0088ff"/><stop offset="0.411" stop-color="#008eff"/><stop offset="0.423" stop-color="#0096ff"/><stop offset="0.434" stop-color="#009dff"/><stop offset="0.446" stop-color="#00a4ff"/><stop offset="0.457" stop-color="#00b3ff"/><stop offset="0.469" stop-color="#00c2ff"/><stop offset="0.480" stop-color="#00d1ff"/><stop offset="0.492" stop-color="#00e5ff"/><stop offset="0.503" stop-color="#00faff"/><stop offset="0.515" stop-color="#00ffe8"/><stop offset="0.526" stop-color="#00ffc8"/><stop offset="0.538" stop-color="#00ffa8"/><stop offset="0.549" stop-color="#00ff88"/><stop offset="0.561" stop-color="#00ff68"/><stop offset="0.572" stop-color="#00ff47"/><stop offset="0.584" stop-color="#00ff24"/><stop offset="0.595" stop-color="#00ff01"/><stop offset="0.607" stop-color="#00ff00"/><stop offset="0.618" stop-color="#00ff00"/><stop offset="0.630" stop-color="#00ff00"/><stop offset="0.641" stop-color="#00ff00"/><stop offset="0.653" stop-color="#00ff00"/><stop offset="0.664" stop-color="#00ff00"/><stop offset="0.676" stop-color="#00ff00"/><stop offset="0.687" stop-color="#0eff00"/><stop offset="0.699" stop-color="#24ff00"/><stop offset="0.710" stop-color="#49ff00"/><stop offset="0.722" stop-color="#79ff00"/><stop offset="0.733" stop-color="#a9ff00"/><stop offset="0.745" stop-color="#c6ff00"/><stop offset="0.756" stop-color="#e2ff00"/><stop offset="0.768" stop-color="#fdff00"/><stop offset="0.779" stop-color="#fff300"/><stop offset="0.791" stop-color="#ffe500"/><stop offset="0.802" stop-color="#ffd100"/><stop offset="0.814" stop-color="#ffbd00"/><stop offset="0.825" stop-color="#ffad00"/><stop offset="0.837" stop-color="#ff9f00"/><stop offset="0.848" stop-color="#ff8f00"/><stop offset="0.860" stop-color="#ff7c00"/><stop offset="0.871" stop-color="#ff6900"/><stop offset="0.883" stop-color="#ff5400"/><stop offset="0.894" stop-color="#ff4000"/><stop offset="0.906" stop-color="#ff3100"/><stop offset="0.917" stop-color="#ff2b00"/><stop offset="0.929" stop-color="#ff2b00"/><stop offset="0.952" stop-color="#ff2b00"/><stop offset="1.000" stop-color="#ff2b00"/></linearGradient><linearGradient id="g63" gradientUnits="userSpaceOnUse" x1="56" x2="491" y1="0" y2="0"><stop offset="0.000" stop-color="#004eff"/><stop offset="0.055" stop-color="#0050ff"/><stop offset="0.110" stop-color="#0053ff"/><stop offset="0.166" stop-color="#0056ff"/><stop offset="0.221" stop-color="#0059ff"/><stop offset="0.276" stop-color="#005eff"/><stop offset="0.331" stop-color="#0064ff"/><stop offset="0.343" stop-color="#006aff"/><stop offset="0.354" stop-color="#0070ff"/><stop offset="0.366" stop-color="#0075ff"/><stop offset="0.377" stop-color="#007bff"/><stop offset="0.389" stop-color="#0081ff"/><stop offset="0.400" stop-color="#0087ff"/><stop offset="0.411" stop-color="#008dff"/><stop offset="0.423" stop-color="#0094ff"/><stop offset="0.434" stop-color="#009cff"/><stop offset="0.446" stop-color="#00a3ff"/><stop offset="0.457" stop-color="#00b2ff"/><stop offset="0.469" stop-color="#00c1ff"/><stop offset="0.480" stop-color="#00cfff"/><stop offset="0.492" stop-color="#00e3ff"/><stop offset="0.503" stop-color="#00f7ff"/><stop offset="0.515" stop-color="#00ffed"/><stop offset="0.526" stop-color="#00ffcd"/><stop offset="0.538" stop-color="#00ffae"/><stop offset="0.549" stop-color="#00ff8e"/><stop offset="0.561" stop-color="#00ff6f"/><stop offset="0.572" stop-color="#00ff4f"/><stop offset="0.584" stop-color="#00ff2e"/><stop offset="0.595" stop-color="#00ff0d"/><stop offset="0.607" stop-color="#00ff00"/><stop offset="0.618" stop-color="#00ff00"/><stop offset="0.630" stop-color="#00ff00"/><stop offset="0.641" stop-color="#00ff00"/><stop offset="0.653" stop-color="#00ff00"/><stop offset="0.664" stop-color="#00ff00"/><stop offset="0.676" stop-color="#00ff00"/><stop offset="0.687" stop-color="#00ff00"/><stop offset="0.699" stop-color="#19ff00"/><stop offset="0.710" stop-color="#41ff00"/><stop offset="0.722" stop-color="#73ff00"/><stop offset="0.733" stop-color="#a5ff00"/><stop offset="0.745" stop-color="#c3ff00"/><stop offset="0.756" stop-color="#e0ff00"/><stop offset="0.768" stop-color="#fcff00"/><stop offset="0.779" stop-color="#fff300"/><stop offset="0.791" stop-color="#ffe600"/><stop offset="0.802" stop-color="#ffd100"/><stop offset="0.814" stop-color="#ffbd00"/><stop offset="0.825" stop-color="#ffad00"/><stop offset="0.837" stop-color="#ff9f00"/><stop offset="0.848" stop-color="#ff8f00"/><stop offset="0.860" stop-color="#ff7c00"/><stop offset="0.871" stop-color="#ff6900"/><stop offset="0.883" stop-color="#ff5400"/><stop offset="0.894" stop-color="#ff4000"/><stop offset="0.906" stop-color="#ff3100"/><stop offset="0.917" stop-color="#ff2b00"/><stop offset="0.929" stop-color="#ff2b00"/><stop offset="0.952" stop-color="#ff2b00"/><stop offset="1.000" stop-color="#ff2b00"/></linearGradient><linearGradient id="g64" gradientUnits="userSpaceOnUse" x1="56" x2="491" y1="0" y2="0"><stop offset="0.000" stop-color="#004eff"/><stop offset="0.055" stop-color="#0050ff"/><stop offset="0.110" stop-color="#0053ff"/><stop offset="0.166" stop-color="#0056ff"/><stop offset="0.221" stop-color="#0059ff"/><stop offset="0.276" stop-color="#005eff"/><stop offset="0.331" stop-color="#0064ff"/><stop offset="0.343" stop-color="#0069ff"/><stop offset="0.354" stop-color="#006fff"/><stop offset="0.366" stop-color="#0075ff"/><stop offset="0.377" stop-color="#007bff"/><stop offset="0.389" stop-color="#0080ff"/><stop offset="0.400" stop-color="#0086ff"/><stop offset="0.411" stop-color="#008cff"/><stop offset="0.423" stop-color="#0093ff"/><stop offset="0.434" stop-color="#009aff"/><stop offset="0.446" stop-color="#00a2ff"/><stop offset="0.457" stop-color="#00b1ff"/><stop offset="0.469" stop-color="#00bfff"/><stop offset="0.480" stop-color="#00ceff"/><stop offset="0.492" stop-color="#00e1ff"/><stop offset="0.503" stop-color="#00f4ff"/><stop offset="0.515" stop-color="#00fff3"/><stop offset="0.526" stop-color="#00ffd3"/><stop offset="0.538" stop-color="#00ffb3"/><stop offset="0.549" stop-color="#00ff93"/><stop offset="0.561" stop-color="#00ff76"/><stop offset="0.572" stop-color="#00ff57"/><stop offset="0.584" stop-color="#00ff37"/><stop offset="0.595" stop-color="#00ff18"/><stop offset="0.607" stop-color="#00ff00"/><stop offset="0.618" stop-color="#00ff00"/><stop offset="0.630" stop-color="#00ff00"/><stop offset="0.641" stop-color="#00ff00"/><stop offset="0.653" stop-color="#00ff00"/><stop offset="0.664" stop-color="#00ff00"/><stop offset="0.676" stop-color="#00ff00"/><stop offset="0.687" stop-color="#00ff00"/><stop offset="0.699" stop-color="#0eff00"/><stop offset="0.710" stop-color="#39ff00"/><stop offset="0.722" stop-color="#6dff00"/><stop offset="0.733" stop-color="#a0ff00"/><stop offset="0.745" stop-color="#bfff00"/><stop offset="0.756" stop-color="#deff00"/><stop offset="0.768" stop-color="#fbff00"/><stop offset="0.779" stop-color="#fff400"/><stop offset="0.791" stop-color="#ffe700"/><stop offset="0.802" stop-color="#ffd200"/><stop offset="0.814" stop-color="#ffbd00"/><stop offset="0.825" stop-color="#ffad00"/><stop offset="0.837" stop-color="#ff9f00"/><stop offset="0.848" stop-color="#ff8f00"/><stop offset="0.860" stop-color="#ff7c00"/><stop offset="0.871" stop-color="#ff6900"/><stop offset="0.883" stop-color="#ff5400"/><stop offset="0.894" stop-color="#ff4000"/><stop offset="0.906" stop-color="#ff3100"/><stop offset="0.917" stop-color="#ff2b00"/><stop offset="0.929" stop-color="#ff2b00"/><stop offset="0.952" stop-color="#ff2b00"/><stop offset="1.000" stop-color="#ff2b00"/></linearGradient><linearGradient id="g65" gradientUnits="userSpaceOnUse" x1="56" x2="491" y1="0" y2="0"><stop offset="0.000" stop-color="#004eff"/><stop offset="0.055" stop-color="#0050ff"/><stop offset="0.110" stop-color="#0053ff"/><stop offset="0.166" stop-color="#0056ff"/><stop offset="0.221" stop-color="#0059ff"/><stop offset="0.276" stop-color="#005eff"/><stop offset="0.331" stop-color="#0064ff"/><stop offset="0.343" stop-color="#0069ff"/><stop offset="0.354" stop-color="#006fff"/><stop offset="0.366" stop-color="#0074ff"/><stop offset="0.377" stop-color="#007aff"/><stop offset="0.389" stop-color="#007fff"/><stop offset="0.400" stop-color="#0085ff"/><stop offset="0.411" stop-color="#008aff"/><stop offset="0.423" stop-color="#0092ff"/><stop offset="0.434" stop-color="#0099ff"/><stop offset="0.446" stop-color="#00a0ff"/><stop offset="0.457" stop-color="#00afff"/><stop offset="0.469" stop-color="#00beff"/><stop offset="0.480" stop-color="#00cdff"/><stop offset="0.492" stop-color="#00dfff"/><stop offset="0.503" stop-color="#00f1ff"/><stop offset="0.515" stop-color="#00fff8"/><stop offset="0.526" stop-color="#00ffd9"/><stop offset="0.538" stop-color="#00ffb9"/><stop offset="0.549" stop-color="#00ff99"/><stop offset="0.561" stop-color="#00ff7d"/><stop offset="0.572" stop-color="#00ff5f"/><stop offset="0.584" stop-color="#00ff41"/><stop offset="0.595" stop-color="#00ff23"/><stop offset="0.607" stop-color="#00ff08"/><stop offset="0.618" stop-color="#00ff00"/><stop offset="0.630" stop-color="#00ff00"/><stop offset="0.641" stop-color="#00ff00"/><stop offset="0.653" stop-color="#00ff00"/><stop offset="0.664" stop-color="#00ff00"/><stop offset="0.676" stop-color="#00ff00"/><stop offset="0.687" stop-color="#00ff00"/><stop offset="0.699" stop-color="#03ff00"/><stop offset="0.710" stop-color="#31ff00"/><stop offset="0.722" stop-color="#67ff00"/><stop offset="0.733" stop-color="#9cff00"/><stop offset="0.745" stop-color="#bcff00"/><stop offset="0.756" stop-color="#ddff00"/><stop offset="0.768" stop-color="#faff00"/><stop offset="0.779" stop-color="#fff500"/><stop offset="0.791" stop-color="#ffe700"/><stop offset="0.802" stop-color="#ffd200"/><stop offset="0.814" stop-color="#ffbd00"/><stop offset="0.825" stop-color="#ffad00"/><stop offset="0.837" stop-color="#ff9f00"/><stop offset="0.848" stop-color="#ff8f00"/><stop offset="0.860" stop-color="#ff7c00"/><stop offset="0.871" stop-color="#ff6900"/><stop offset="0.883" stop-color="#ff5400"/><stop offset="0.894" stop-color="#ff4000"/><stop offset="0.906" stop-color="#ff3100"/><stop offset="0.917" stop-color="#ff2b00"/><stop offset="0.929" stop-color="#ff2b00"/><stop offset="0.952" stop-color="#ff2b00"/><stop offset="1.000" stop-color="#ff2b00"/></linearGradient><linearGradient id="g66" gradientUnits="userSpaceOnUse" x1="56" x2="491" y1="0" y2="0"><stop offset="0.000" stop-color="#004eff"/><stop offset="0.055" stop-color="#0050ff"/><stop offset="0.110" stop-color="#0053ff"/><stop offset="0.166" stop-color="#0056ff"/><stop offset="0.221" stop-color="#0059ff"/><stop offset="0.276" stop-color="#005eff"/><stop offset="0.331" stop-color="#0064ff"/><stop offset="0.343" stop-color="#0069ff"/><stop offset="0.354" stop-color="#006eff"/><stop offset="0.366" stop-color="#0074ff"/><stop offset="0.377" stop-color="#0079ff"/><stop offset="0.389" stop-color="#007eff"/><stop offset="0.400" stop-color="#0084ff"/><stop offset="0.411" stop-color="#0089ff"/><stop offset="0.423" stop-color="#0090ff"/><stop offset="0.434" stop-color="#0098ff"/><stop offset="0.446" stop-color="#009fff"/><stop offset="0.457" stop-color="#00aeff"/><stop offset="0.469" stop-color="#00bdff"/><stop offset="0.480" stop-color="#00cbff"/><stop offset="0.492" stop-color="#00ddff"/><stop offset="0.503" stop-color="#00eeff"/><stop offset="0.515" stop-color="#00fffe"/><stop offset="0.526" stop-color="#00ffde"/><stop offset="0.538" stop-color="#00ffbe"/><stop offset="0.549" stop-color="#00ff9e"/><stop offset="0.561" stop-color="#00ff84"/><stop offset="0.572" stop-color="#00ff67"/><stop offset="0.584" stop-color="#00ff4b"/><stop offset="0.595" stop-color="#00ff2e"/><stop offset="0.607" stop-color="#00ff12"/><stop offset="0.618" stop-color="#00ff00"/><stop offset="0.630" stop-color="#00ff00"/><stop offset="0.641" stop-color="#00ff00"/><stop offset="0.653" stop-color="#00ff00"/><stop offset="0.664" stop-color="#00ff00"/><stop offset="0.676" stop-color="#00ff00"/><stop offset="0.687" stop-color="#00ff00"/><stop offset="0.699" stop-color="#00ff00"/><stop offset="0.710" stop-color="#29ff00"/><stop offset="0.722" stop-color="#60ff00"/><stop offset="0.733" stop-color="#97ff00"/><stop offset="0.745" stop-color="#b9ff00"/><stop offset="0.756" stop-color="#dbff00"/><stop offset="0.768" stop-color="#f9ff00"/><stop offset="0.779" stop-color="#fff500"/><stop offset="0.791" stop-color="#ffe800"/><stop offset="0.802" stop-color="#ffd300"/><stop offset="0.814" stop-color="#ffbd00"/><stop offset="0.825" stop-color="#ffad00"/><stop offset="0.837" stop-color="#ff9f00"/><stop offset="0.848" stop-color="#ff8f00"/><stop offset="0.860" stop-color="#ff7c00"/><stop offset="0.871" stop-color="#ff6900"/><stop offset="0.883" stop-color="#ff5400"/><stop offset="0.894" stop-color="#ff4000"/><stop offset="0.906" stop-color="#ff3100"/><stop offset="0.917" stop-color="#ff2b00"/><stop offset="0.929" stop-color="#ff2b00"/><stop offset="0.952" stop-color="#ff2b00"/><stop offset="1.000" stop-color="#ff2b00"/></linearGradient><linearGradient id="g67" gradientUnits="userSpaceOnUse" x1="56" x2="491" y1="0" y2="0"><stop offset="0.000" stop-color="#004eff"/><stop offset="0.055" stop-color="#0050ff"/><stop offset="0.110" stop-color="#0053ff"/><stop offset="0.166" stop-color="#0056ff"/><stop offset="0.221" stop-color="#0059ff"/><stop offset="0.276" stop-color="#005eff"/><stop offset="0.331" stop-color="#0064ff"/><stop offset="0.343" stop-color="#0069ff"/><stop offset="0.354" stop-color="#006eff"/><stop offset="0.366" stop-color="#0073ff"/><stop offset="0.377" stop-color="#0078ff"/><stop offset="0.389" stop-color="#007dff"/><stop offset="0.400" stop-color="#0083ff"/><stop offset="0.411" stop-color="#0088ff"/><stop offset="0.423" stop-color="#008fff"/><stop offset="0.434" stop-color="#0096ff"/><stop offset="0.446" stop-color="#009eff"/><stop offset="0.457" stop-color="#00adff"/><stop offset="0.469" stop-color="#00bbff"/><stop offset="0.480" stop-color="#00caff"/><stop offset="0.492" stop-color="#00dbff"/><stop offset="0.503" stop-color="#00ebff"/><stop offset="0.515" stop-color="#00fcff"/><stop offset="0.526" stop-color="#00ffe4"/><stop offset="0.538" stop-color="#00ffc4"/><stop offset="0.549" stop-color="#00ffa4"/><stop offset="0.561" stop-color="#00ff8a"/><stop offset="0.572" stop-color="#00ff70"/><stop offset="0.584" stop-color="#00ff54"/><stop offset="0.595" stop-color="#00ff39"/><stop offset="0.607" stop-color="#00ff1b"/><stop offset="0.618" stop-color="#00ff00"/><stop offset="0.630" stop-color="#00ff00"/><stop offset="0.641" stop-color="#00ff00"/><stop offset="0.653" stop-color="#00ff00"/><stop offset="0.664" stop-color="#00ff00"/><stop offset="0.676" stop-color="#00ff00"/><stop offset="0.687" stop-color="#00ff00"/><stop offset="0.699" stop-color="#00ff00"/><stop offset="0.710" stop-color="#21ff00"/><stop offset="0.722" stop-color="#5aff00"/><stop offset="0.733" stop-color="#93ff00"/><stop offset="0.745" stop-color="#b6ff00"/><stop offset="0.756" stop-color="#d9ff00"/><stop offset="0.768" stop-color="#f8ff00"/><stop offset="0.779" stop-color="#fff600"/><stop offset="0.791" stop-color="#ffe800"/><stop offset="0.802" stop-color="#ffd300"/><stop offset="0.814" stop-color="#ffbd00"/><stop offset="0.825" stop-color="#ffad00"/><stop offset="0.837" stop-color="#ff9f00"/><stop offset="0.848" stop-color="#ff8f00"/><stop offset="0.860" stop-color="#ff7c00"/><stop offset="0.871" stop-color="#ff6900"/><stop offset="0.883" stop-color="#ff5400"/><stop offset="0.894" stop-color="#ff4000"/><stop offset="0.906" stop-color="#ff3100"/><stop offset="0.917" stop-color="#ff2b00"/><stop offset="0.929" stop-color="#ff2b00"/><stop offset="0.952" stop-color="#ff2b00"/><stop offset="1.000" stop-color="#ff2b00"/></linearGradient><linearGradient id="g68" gradientUnits="userSpaceOnUse" x1="56" x2="491" y1="0" y2="0"><stop offset="0.000" stop-color="#004eff"/><stop offset="0.055" stop-color="#0050ff"/><stop offset="0.110" stop-color="#0053ff"/><stop offset="0.166" stop-color="#0056ff"/><stop offset="0.221" stop-color="#0059ff"/><stop offset="0.276" stop-color="#005eff"/><stop offset="0.331" stop-color="#0064ff"/><stop offset="0.343" stop-color="#0069ff"/><stop offset="0.354" stop-color="#006eff"/><stop offset="0.366" stop-color="#0073ff"/><stop offset="0.377" stop-color="#0078ff"/><stop offset="0.389" stop-color="#007dff"/><stop offset="0.400" stop-color="#0081ff"/><stop offset="0.411" stop-color="#0086ff"/><stop offset="0.423" stop-color="#008eff"/><stop offset="0.434" stop-color="#0095ff"/><stop offset="0.446" stop-color="#009dff"/><stop offset="0.457" stop-color="#00abff"/><stop offset="0.469" stop-color="#00baff"/><stop offset="0.480" stop-color="#00c9ff"/><stop offset="0.492" stop-color="#00d9ff"/><stop offset="0.503" stop-color="#00e8ff"/><stop offset="0.515" stop-color="#00f8ff"/><stop offset="0.526" stop-color="#00ffe9"/><stop offset="0.538" stop-color="#00ffc9"/><stop offset="0.549" stop-color="#00ffa9"/><stop offset="0.561" stop-color="#00ff91"/><stop offset="0.572" stop-color="#00ff78"/><stop offset="0.584" stop-color="#00ff5e"/><stop offset="0.595" stop-color="#00ff44"/><stop offset="0.607" stop-color="#00ff25"/><stop offset="0.618" stop-color="#00ff07"/><stop offset="0.630" stop-color="#00ff00"/><stop offset="0.641" stop-color="#00ff00"/><stop offset="0.653" stop-color="#00ff00"/><stop offset="0.664" stop-color="#00ff00"/><stop offset="0.676" stop-color="#00ff00"/><stop offset="0.687" stop-color="#00ff00"/><stop offset="0.699" stop-color="#00ff00"/><stop offset="0.710" stop-color="#19ff00"/><stop offset="0.722" stop-color="#54ff00"/><stop offset="0.733" stop-color="#8eff00"/><stop offset="0.745" stop-color="#b2ff00"/><stop offset="0.756" stop-color="#d7ff00"/><stop offset="0.768" stop-color="#f6ff00"/><stop offset="0.779" stop-color="#fff600"/><stop offset="0.791" stop-color="#ffe900"/><stop offset="0.802" stop-color="#ffd300"/><stop offset="0.814" stop-color="#ffbd00"/><stop offset="0.825" stop-color="#ffad00"/><stop offset="0.837" stop-color="#ff9f00"/><stop offset="0.848" stop-color="#ff8f00"/><stop offset="0.860" stop-color="#ff7c00"/><stop offset="0.871" stop-color="#ff6900"/><stop offset="0.883" stop-color="#ff5400"/><stop offset="0.894" stop-color="#ff4000"/><stop offset="0.906" stop-color="#ff3100"/><stop offset="0.917" stop-color="#ff2b00"/><stop offset="0.929" stop-color="#ff2b00"/><stop offset="0.952" stop-color="#ff2b00"/><stop offset="1.000" stop-color="#ff2b00"/></linearGradient><linearGradient id="g69" gradientUnits="userSpaceOnUse" x1="56" x2="491" y1="0" y2="0"><stop offset="0.000" stop-color="#004eff"/><stop offset="0.055" stop-color="#0050ff"/><stop offset="0.110" stop-color="#0053ff"/><stop offset="0.166" stop-color="#0056ff"/><stop offset="0.221" stop-color="#0059ff"/><stop offset="0.276" stop-color="#005eff"/><stop offset="0.331" stop-color="#0064ff"/><stop offset="0.343" stop-color="#0069ff"/><stop offset="0.354" stop-color="#006dff"/><stop offset="0.366" stop-color="#0072ff"/><stop offset="0.377" stop-color="#0077ff"/><stop offset="0.389" stop-color="#007cff"/><stop offset="0.400" stop-color="#0081ff"/><stop offset="0.411" stop-color="#0085ff"/><stop offset="0.423" stop-color="#008dff"/><stop offset="0.434" stop-color="#0094ff"/><stop offset="0.446" stop-color="#009cff"/><stop offset="0.457" stop-color="#00aaff"/><stop offset="0.469" stop-color="#00b9ff"/><stop offset="0.480" stop-color="#00c8ff"/><stop offset="0.492" stop-color="#00d7ff"/><stop offset="0.503" stop-color="#00e6ff"/><stop offset="0.515" stop-color="#00f5ff"/><stop offset="0.526" stop-color="#00ffed"/><stop offset="0.538" stop-color="#00ffce"/><stop offset="0.549" stop-color="#00ffae"/><stop offset="0.561" stop-color="#00ff97"/><stop offset="0.572" stop-color="#00ff7e"/><stop offset="0.584" stop-color="#00ff65"/><stop offset="0.595" stop-color="#00ff4d"/><stop offset="0.607" stop-color="#00ff2d"/><stop offset="0.618" stop-color="#00ff0d"/><stop offset="0.630" stop-color="#00ff00"/><stop offset="0.641" stop-color="#00ff00"/><stop offset="0.653" stop-color="#00ff00"/><stop offset="0.664" stop-color="#00ff00"/><stop offset="0.676" stop-color="#00ff00"/><stop offset="0.687" stop-color="#00ff00"/><stop offset="0.699" stop-color="#00ff00"/><stop offset="0.710" stop-color="#13ff00"/><stop offset="0.722" stop-color="#4fff00"/><stop offset="0.733" stop-color="#8bff00"/><stop offset="0.745" stop-color="#b0ff00"/><stop offset="0.756" stop-color="#d5ff00"/><stop offset="0.768" stop-color="#f6ff00"/><stop offset="0.779" stop-color="#fff700"/><stop offset="0.791" stop-color="#ffea00"/><stop offset="0.802" stop-color="#ffd400"/><stop offset="0.814" stop-color="#ffbd00"/><stop offset="0.825" stop-color="#ffad00"/><stop offset="0.837" stop-color="#ff9f00"/><stop offset="0.848" stop-color="#ff8f00"/><stop offset="0.860" stop-color="#ff7c00"/><stop offset="0.871" stop-color="#ff6900"/><stop offset="0.883" stop-color="#ff5400"/><stop offset="0.894" stop-color="#ff4000"/><stop offset="0.906" stop-color="#ff3100"/><stop offset="0.917" stop-color="#ff2b00"/><stop offset="0.929" stop-color="#ff2b00"/><stop offset="0.952" stop-color="#ff2b00"/><stop offset="1.000" stop-color="#ff2b00"/></linearGradient><pattern id="hatchA" patternUnits="userSpaceOnUse" width="4.4" height="10" patternTransform="rotate(45)"><rect width="4.4" height="10" fill="#fff"/><line x1="0.6" y1="0" x2="0.6" y2="10" stroke="#7a7a7a" stroke-width="0.9"/></pattern><pattern id="hatchB" patternUnits="userSpaceOnUse" width="4.4" height="10" patternTransform="rotate(-45)"><rect width="4.4" height="10" fill="#fff"/><line x1="0.6" y1="0" x2="0.6" y2="10" stroke="#7a7a7a" stroke-width="0.9"/></pattern><clipPath id="cpTop"><rect x="56" y="134" width="435" height="103.5"/></clipPath><clipPath id="cpBot"><rect x="56" y="237.5" width="435" height="103.7"/></clipPath><filter id="blur2" x="-20%" y="-20%" width="140%" height="140%"><feGaussianBlur stdDeviation="1.6"/></filter><radialGradient id="ring0"><stop offset="0" stop-color="#fff" stop-opacity="0"/><stop offset="0.880" stop-color="#ff0000" stop-opacity="0"/><stop offset="0.914" stop-color="#ff0000" stop-opacity="0.25"/><stop offset="0.940" stop-color="#ff0000" stop-opacity="0.7"/><stop offset="0.955" stop-color="#ff0000"/><stop offset="1" stop-color="#ff0000"/></radialGradient><radialGradient id="ring1"><stop offset="0" stop-color="#fff" stop-opacity="0"/><stop offset="0.880" stop-color="#ff0000" stop-opacity="0"/><stop offset="0.914" stop-color="#ff0000" stop-opacity="0.25"/><stop offset="0.940" stop-color="#ff0000" stop-opacity="0.7"/><stop offset="0.955" stop-color="#ff0000"/><stop offset="1" stop-color="#ff0000"/></radialGradient><radialGradient id="ring2"><stop offset="0" stop-color="#fff" stop-opacity="0"/><stop offset="0.760" stop-color="#ff0000" stop-opacity="0"/><stop offset="0.850" stop-color="#ff0000" stop-opacity="0.25"/><stop offset="0.920" stop-color="#ff0000" stop-opacity="0.7"/><stop offset="0.960" stop-color="#ff0000"/><stop offset="1" stop-color="#ff0000"/></radialGradient><radialGradient id="ring3"><stop offset="0" stop-color="#fff" stop-opacity="0"/><stop offset="0.850" stop-color="#ff0000" stop-opacity="0"/><stop offset="0.897" stop-color="#ff0000" stop-opacity="0.25"/><stop offset="0.934" stop-color="#ff0000" stop-opacity="0.7"/><stop offset="0.955" stop-color="#ff0000"/><stop offset="1" stop-color="#ff0000"/></radialGradient><radialGradient id="coreB"><stop offset="0" stop-color="#0000ff"/><stop offset="0.28" stop-color="#0008ff"/><stop offset="0.5" stop-color="#2868ff" stop-opacity="0.75"/><stop offset="0.75" stop-color="#90c0ff" stop-opacity="0.35"/><stop offset="1" stop-color="#d0e4ff" stop-opacity="0"/></radialGradient><radialGradient id="coreR"><stop offset="0" stop-color="#ff0000"/><stop offset="0.45" stop-color="#ff1010"/><stop offset="0.7" stop-color="#ff6060" stop-opacity="0.5"/><stop offset="1" stop-color="#ffa0a0" stop-opacity="0"/></radialGradient><marker id="ah" viewBox="0 0 4 4" refX="3.2" refY="2" markerWidth="4" markerHeight="4" orient="auto" markerUnits="userSpaceOnUse"><path d="M0,0.4 L4,2 L0,3.6z" fill="#333"/></marker></defs><rect width="543" height="550" fill="#fff"/><text x="5.3" y="16.2" font-size="16">(<tspan font-weight="bold" font-size="15">a</tspan>)</text><circle cx="78.9" cy="53.7" r="46.4" fill="url(#ring0)"/><path d="M39.6,38.6L36.6,37.4M39.7,44.7L36.5,43.9M39.8,50.7L36.5,50.4M39.8,56.7L36.5,57M39.7,62.7L36.5,63.5M39.6,68.8L36.6,70M45.8,32.6L43,30.9M46,38.7L43,37.4M46.1,44.7L42.9,43.9M46.2,50.7L42.9,50.4M46.2,56.7L42.9,57M46.1,62.6L42.9,63.5M46,68.7L43,70M45.8,74.7L43,76.5M51.9,26.7L49.5,24.3M52.1,32.8L49.5,30.8M52.3,38.9L49.4,37.3M52.5,44.9L49.3,43.9M52.6,50.8L49.3,50.4M52.6,56.6L49.3,57M52.5,62.5L49.3,63.6M52.3,68.5L49.4,70.1M52.1,74.6L49.5,76.6M51.9,80.7L49.5,83.1M57.8,20.6L56.1,17.8M58,26.9L56,24.3M58.3,33.1L55.9,30.7M58.5,39.1L55.8,37.2M58.8,45.1L55.8,43.8M59,50.8L55.7,50.4M59,56.5L55.7,57M58.8,62.3L55.8,63.6M58.5,68.2L55.9,70.2M58.3,74.3L55.9,76.7M58,80.5L56,83.1M57.8,86.8L56.1,89.6M63.8,14.4L62.6,11.4M63.9,20.8L62.6,17.8M64.1,27.1L62.5,24.2M64.4,33.3L62.4,30.6M64.7,39.5L62.3,37.1M65.1,45.4L62.2,43.7M65.4,51L62.1,50.4M65.3,56.4L62.1,57.1M65,62L62.2,63.7M64.7,67.9L62.3,70.3M64.3,74.1L62.4,76.8M64.1,80.3L62.5,83.2M63.9,86.6L62.6,89.6M63.8,93L62.6,96M69.9,14.5L69.1,11.3M70,20.9L69.1,17.7M70.1,27.3L69,24.1M70.3,33.6L69,30.6M70.6,39.8L68.9,37M71.1,45.9L68.7,43.5M71.7,51.3L68.5,50.3M71.7,56.1L68.5,57.2M71,61.5L68.7,63.9M70.6,67.5L68.9,70.4M70.3,73.8L69,76.8M70.1,80.1L69.1,83.3M69.9,86.5L69.1,89.7M69.9,92.9L69.1,96.1M75.9,14.6L75.6,11.3M75.9,21L75.6,17.7M76,27.4L75.6,24.1M76,33.8L75.6,30.5M76.2,40.2L75.5,36.9M76.5,46.5L75.4,43.3M77.5,52.2L75.1,49.9M77.4,55.1L75.2,57.5M76.5,60.9L75.5,64.1M76.2,67.2L75.5,70.5M76,73.6L75.6,76.9M76,80L75.6,83.3M75.9,86.4L75.6,89.7M75.9,92.8L75.6,96.1M81.9,14.6L82.2,11.3M81.9,21L82.2,17.7M81.8,27.4L82.2,24.1M81.7,33.8L82.2,30.5M81.6,40.1L82.3,36.9M81.3,46.5L82.4,43.3M80.3,52.2L82.7,50M80.4,55.1L82.7,57.5M81.3,60.9L82.4,64.1M81.6,67.3L82.3,70.5M81.7,73.6L82.2,76.9M81.8,80L82.2,83.3M81.9,86.4L82.2,89.7M81.9,92.8L82.2,96.1M87.9,14.5L88.7,11.3M87.8,20.9L88.7,17.7M87.7,27.3L88.8,24.1M87.5,33.6L88.8,30.6M87.2,39.8L88.9,37M86.7,45.8L89.1,43.5M86.1,51.2L89.3,50.3M86.1,56.1L89.3,57.2M86.7,61.5L89.1,63.9M87.2,67.6L88.9,70.4M87.5,73.8L88.8,76.8M87.7,80.1L88.8,83.3M87.8,86.5L88.7,89.7M87.9,92.9L88.7,96.1M94,14.4L95.2,11.4M93.9,20.8L95.2,17.8M93.7,27.1L95.3,24.2M93.4,33.3L95.4,30.7M93.1,39.5L95.5,37.1M92.7,45.4L95.6,43.7M92.4,51L95.7,50.4M92.5,56.4L95.7,57.1M92.8,62L95.6,63.7M93.1,67.9L95.5,70.3M93.4,74.1L95.4,76.8M93.7,80.3L95.3,83.2M93.9,86.6L95.2,89.6M94,93L95.2,96M99.9,20.6L101.7,17.8M99.8,26.9L101.8,24.3M99.5,33.1L101.9,30.7M99.3,39.1L102,37.2M99,45.1L102,43.8M98.8,50.8L102.1,50.4M98.8,56.5L102.1,57M99,62.3L102,63.6M99.3,68.2L101.9,70.2M99.5,74.3L101.9,76.7M99.8,80.5L101.8,83.1M100,86.8L101.7,89.6M105.9,26.7L108.3,24.3M105.7,32.8L108.3,30.8M105.5,38.9L108.4,37.3M105.3,44.9L108.5,43.9M105.2,50.8L108.5,50.4M105.2,56.6L108.5,57M105.3,62.5L108.5,63.6M105.5,68.5L108.4,70.1M105.7,74.6L108.3,76.6M105.9,80.7L108.3,83.1M112,32.6L114.8,30.9M111.8,38.7L114.8,37.4M111.7,44.7L114.9,43.9M111.6,50.7L114.9,50.4M111.6,56.7L114.9,57M111.7,62.6L114.9,63.5M111.8,68.7L114.8,70M112,74.8L114.8,76.5M118.2,38.6L121.2,37.4M118.1,44.6L121.3,43.9M118,50.7L121.3,50.4M118,56.7L121.3,57M118.1,62.7L121.3,63.5M118.2,68.8L121.2,70" stroke="#666" stroke-width="0.5" fill="none"/><path d="M34.9,36.8L37.1,36.9L36.6,38.2zM34.8,43.5L37,43.3L36.7,44.7zM34.7,50.3L36.9,49.8L36.8,51.2zM34.7,57.1L36.7,56.2L36.9,57.6zM34.8,63.9L36.7,62.7L37,64.1zM34.9,70.6L36.6,69.2L37.1,70.5zM41.5,29.9L43.7,30.4L42.9,31.6zM41.3,36.6L43.5,36.9L43,38.1zM41.2,43.4L43.4,43.3L43,44.6zM41.1,50.3L43.3,49.8L43.1,51.2zM41.1,57.2L43.1,56.3L43.3,57.6zM41.2,64L43,62.8L43.4,64.1zM41.3,70.8L43,69.3L43.5,70.5zM41.5,77.5L42.9,75.8L43.7,77zM48.3,23.1L50.2,24.1L49.3,25zM48,29.7L50.1,30.4L49.3,31.5zM47.8,36.4L50,36.8L49.3,38.1zM47.6,43.3L49.8,43.3L49.4,44.6zM47.5,50.2L49.7,49.8L49.5,51.1zM47.5,57.2L49.5,56.3L49.7,57.7zM47.6,64.1L49.4,62.8L49.9,64.1zM47.8,71L49.3,69.3L50,70.6zM48.1,77.7L49.3,75.9L50.1,77zM48.3,84.3L49.3,82.4L50.2,83.3zM55.1,16.3L56.8,17.7L55.6,18.5zM54.9,22.8L56.7,24.1L55.6,24.9zM54.7,29.5L56.6,30.5L55.7,31.4zM54.4,36.2L56.5,36.8L55.7,38zM54.1,43.1L56.3,43.3L55.8,44.6zM53.9,50.2L56.1,49.7L55.9,51.1zM53.9,57.3L55.9,56.3L56.1,57.7zM54.1,64.3L55.8,62.9L56.3,64.1zM54.4,71.2L55.7,69.4L56.5,70.6zM54.7,78L55.7,76L56.6,76.9zM54.9,84.6L55.6,82.5L56.8,83.3zM55.1,91.1L55.6,88.9L56.8,89.7zM62,9.7L63.4,11.4L62.1,11.9zM61.8,16.1L63.3,17.8L62.1,18.3zM61.6,22.6L63.3,24.1L62,24.8zM61.4,29.2L63.2,30.5L62,31.3zM61.1,35.9L63,36.9L62.1,37.8zM60.7,42.8L62.8,43.2L62.1,44.4zM60.3,50L62.5,49.7L62.3,51.1zM60.4,57.4L62.3,56.3L62.6,57.7zM60.7,64.7L62.1,63L62.8,64.2zM61.1,71.6L62.1,69.6L63,70.5zM61.4,78.2L62,76.1L63.2,76.9zM61.7,84.8L62,82.6L63.3,83.3zM61.8,91.3L62.1,89.1L63.3,89.6zM62,97.7L62.1,95.5L63.4,96zM68.7,9.6L69.9,11.5L68.5,11.8zM68.6,16L69.8,17.8L68.5,18.2zM68.5,22.4L69.8,24.2L68.5,24.6zM68.3,28.9L69.7,30.6L68.5,31.1zM68,35.5L69.6,36.9L68.4,37.6zM67.5,42.3L69.4,43.3L68.5,44.2zM66.8,49.7L69,49.7L68.6,51zM66.9,57.8L68.6,56.4L69.1,57.7zM67.5,65.2L68.4,63.2L69.5,64.1zM68,71.9L68.4,69.8L69.7,70.5zM68.3,78.5L68.5,76.3L69.8,76.8zM68.5,85L68.5,82.8L69.8,83.2zM68.6,91.4L68.5,89.2L69.8,89.6zM68.7,97.8L68.5,95.6L69.9,95.9zM75.5,9.5L76.4,11.5L75,11.7zM75.5,15.9L76.4,17.9L75,18.1zM75.4,22.3L76.3,24.3L75,24.5zM75.3,28.7L76.3,30.7L74.9,30.9zM75.2,35.1L76.3,37.1L74.9,37.3zM74.9,41.6L76.2,43.4L74.9,43.8zM73.8,48.7L75.8,49.6L74.9,50.7zM73.9,58.8L74.8,56.8L75.9,57.7zM74.9,65.8L74.9,63.6L76.2,64zM75.2,72.3L74.9,70.1L76.3,70.3zM75.3,78.7L74.9,76.5L76.3,76.7zM75.4,85.1L75,82.9L76.3,83.1zM75.5,91.5L75,89.3L76.4,89.5zM75.5,97.9L75,95.7L76.4,95.9zM82.3,9.5L82.8,11.7L81.4,11.5zM82.3,15.9L82.8,18.1L81.5,17.9zM82.4,22.3L82.9,24.5L81.5,24.3zM82.5,28.7L82.9,30.9L81.5,30.7zM82.6,35.2L82.9,37.4L81.5,37.1zM83,41.6L82.9,43.9L81.6,43.4zM84,48.8L82.9,50.7L82,49.6zM83.9,58.8L81.9,57.7L83,56.8zM82.9,65.8L81.6,64L82.9,63.6zM82.6,72.2L81.5,70.3L82.9,70.1zM82.5,78.7L81.5,76.7L82.9,76.5zM82.4,85.1L81.5,83.1L82.9,82.9zM82.3,91.5L81.4,89.5L82.8,89.3zM82.3,97.9L81.4,95.9L82.8,95.7zM89.1,9.6L89.3,11.8L87.9,11.5zM89.2,16L89.3,18.2L88,17.8zM89.3,22.4L89.3,24.7L88,24.2zM89.5,28.9L89.3,31.1L88.1,30.6zM89.9,35.5L89.4,37.6L88.2,36.9zM90.4,42.3L89.3,44.3L88.4,43.2zM91,49.7L89.2,51L88.8,49.7zM91,57.8L88.7,57.7L89.2,56.4zM90.3,65.1L88.4,64.1L89.3,63.2zM89.8,71.9L88.2,70.5L89.4,69.8zM89.5,78.5L88.1,76.8L89.3,76.3zM89.3,85L88,83.2L89.3,82.8zM89.2,91.4L88,89.6L89.3,89.2zM89.1,97.8L87.9,95.9L89.3,95.6zM95.8,9.7L95.7,11.9L94.4,11.4zM96,16.1L95.7,18.3L94.5,17.8zM96.2,22.6L95.8,24.8L94.5,24.1zM96.4,29.2L95.8,31.3L94.6,30.5zM96.8,35.9L95.7,37.8L94.8,36.9zM97.1,42.8L95.7,44.5L95,43.2zM97.5,50L95.5,51.1L95.3,49.7zM97.4,57.4L95.2,57.7L95.5,56.3zM97.1,64.7L95,64.2L95.7,63zM96.7,71.5L94.8,70.5L95.7,69.6zM96.4,78.2L94.6,76.9L95.8,76.1zM96.2,84.8L94.5,83.3L95.8,82.6zM96,91.3L94.5,89.6L95.7,89.1zM95.8,97.7L94.4,96L95.7,95.5zM102.7,16.3L102.2,18.5L101,17.7zM102.9,22.9L102.2,24.9L101.1,24.1zM103.2,29.5L102.1,31.4L101.2,30.5zM103.4,36.2L102.1,38L101.3,36.8zM103.7,43.1L102,44.6L101.5,43.3zM103.9,50.2L101.9,51.1L101.7,49.7zM103.9,57.3L101.7,57.7L101.9,56.3zM103.7,64.3L101.5,64.1L102,62.9zM103.4,71.2L101.3,70.6L102.1,69.4zM103.1,77.9L101.2,76.9L102.1,76zM102.9,84.6L101.1,83.3L102.2,82.5zM102.7,91.1L101,89.7L102.2,88.9zM109.5,23.1L108.5,25L107.6,24.1zM109.8,29.7L108.5,31.6L107.7,30.4zM110,36.5L108.5,38.1L107.8,36.8zM110.2,43.3L108.4,44.6L108,43.3zM110.3,50.2L108.3,51.1L108.1,49.8zM110.3,57.2L108.1,57.7L108.3,56.3zM110.2,64.1L107.9,64.1L108.4,62.8zM110,71L107.8,70.6L108.5,69.3zM109.7,77.7L107.7,77L108.5,75.9zM109.5,84.3L107.6,83.3L108.5,82.4zM116.3,29.9L114.9,31.6L114.2,30.4zM116.5,36.6L114.8,38.1L114.3,36.9zM116.6,43.4L114.8,44.6L114.4,43.3zM116.7,50.3L114.7,51.2L114.5,49.8zM116.7,57.1L114.5,57.6L114.7,56.3zM116.6,64L114.4,64.1L114.8,62.8zM116.5,70.8L114.3,70.5L114.8,69.3zM116.3,77.5L114.1,77L114.9,75.8zM122.9,36.8L121.2,38.2L120.7,36.9zM123,43.5L121.1,44.7L120.8,43.3zM123.1,50.3L121,51.2L120.9,49.8zM123.1,57.1L120.9,57.6L121.1,56.2zM123,63.9L120.8,64.1L121.1,62.7zM122.9,70.6L120.7,70.5L121.2,69.2z" fill="#444"/><circle cx="78.8" cy="53.5" r="8" fill="url(#coreB)"/><circle cx="192.7" cy="53.2" r="46.2" fill="url(#ring1)"/><path d="M152.4,39.3L150.7,36.5M152.6,45.6L150.6,42.9M152.7,51.9L150.6,49.4M152.9,58.1L150.5,55.9M153.2,64.2L150.4,62.4M153.4,70.2L150.4,68.9M158.4,33.1L157.2,30.1M158.6,39.5L157.2,36.5M158.7,45.8L157.1,42.9M158.9,52.1L157.1,49.3M159.1,58.3L157,55.8M159.4,64.5L156.9,62.3M159.7,70.4L156.8,68.8M159.9,76.2L156.7,75.4M164.5,26.8L163.7,23.6M164.6,33.2L163.7,30M164.7,39.6L163.7,36.4M164.8,45.9L163.6,42.8M164.9,52.3L163.6,49.3M165.1,58.6L163.5,55.7M165.4,64.8L163.4,62.2M165.8,70.8L163.3,68.7M166.3,76.4L163.1,75.3M166.4,81.7L163.1,82.1M170.6,20.5L170.2,17.2M170.6,26.9L170.2,23.6M170.7,33.3L170.2,30M170.7,39.7L170.2,36.4M170.8,46.1L170.1,42.8M170.9,52.4L170.1,49.2M171,58.8L170.1,55.6M171.2,65.1L170,62.1M171.7,71.3L169.9,68.5M172.4,77L169.6,75.2M172.7,81.5L169.5,82.2M172,86.5L169.8,89M176.7,14.1L176.7,10.8M176.7,20.5L176.7,17.2M176.7,26.9L176.7,23.6M176.7,33.3L176.7,30M176.7,39.7L176.7,36.4M176.8,46.1L176.7,42.8M176.8,52.5L176.7,49.2M176.8,58.9L176.7,55.6M176.8,65.3L176.7,62M176.9,71.7L176.6,68.4M177.1,78.1L176.6,74.8M177.8,79.8L176.3,82.7M176.9,85.9L176.6,89.2M176.8,92.3L176.7,95.6M182.9,14.1L183.2,10.8M182.9,20.5L183.2,17.2M182.9,26.9L183.2,23.6M182.8,33.3L183.2,30M182.8,39.7L183.2,36.4M182.7,46.1L183.2,42.8M182.6,52.5L183.2,49.2M182.5,58.8L183.3,55.6M182.3,65.2L183.3,62M182,71.4L183.5,68.5M181.2,77.2L183.7,75.1M180.7,81.3L183.9,82.2M181.7,86.4L183.6,89.1M182.2,92.5L183.4,95.5M189.1,14.1L189.6,10.8M189,20.5L189.7,17.2M189,26.8L189.7,23.6M188.9,33.2L189.7,30M188.8,39.6L189.7,36.4M188.7,46L189.7,42.8M188.6,52.3L189.8,49.3M188.4,58.6L189.9,55.7M188.1,64.9L190,62.1M187.7,70.9L190.1,68.7M187.2,76.5L190.2,75.3M187,81.7L190.3,82.1M187.4,87L190.2,88.8M187.9,92.9L190,95.4M195.3,14L196.1,10.8M195.2,20.4L196.1,17.2M195.1,26.8L196.1,23.6M195,33.1L196.2,30M194.9,39.5L196.2,36.5M194.8,45.8L196.3,42.9M194.6,52.1L196.3,49.3M194.4,58.4L196.4,55.8M194.1,64.5L196.5,62.2M193.8,70.5L196.6,68.8M193.5,76.2L196.7,75.4M193.4,81.8L196.7,82.1M193.6,87.4L196.6,88.7M193.9,93.3L196.5,95.3M201.5,14L202.6,10.8M201.4,20.3L202.6,17.3M201.3,26.7L202.6,23.7M201.2,33L202.7,30.1M201.1,39.4L202.7,36.5M200.9,45.7L202.7,42.9M200.7,51.9L202.8,49.4M200.5,58.1L202.9,55.8M200.3,64.2L203,62.3M200,70.2L203,68.9M199.8,76.1L203.1,75.4M199.8,81.8L203.1,82.1M199.9,87.6L203.1,88.6M200.1,93.5L203,95.2M207.7,13.9L209,10.9M207.6,20.2L209.1,17.3M207.5,26.6L209.1,23.7M207.4,32.9L209.1,30.1M207.2,39.2L209.2,36.6M207.1,45.5L209.2,43M206.9,51.7L209.3,49.4M206.7,57.9L209.3,55.9M206.5,64L209.4,62.4M206.3,70L209.5,68.9M206.2,76L209.5,75.5M206.2,81.9L209.5,82M206.3,87.8L209.5,88.6M206.4,93.8L209.4,95.1M213.8,20.1L215.5,17.3M213.7,26.5L215.5,23.7M213.6,32.8L215.6,30.2M213.5,39.1L215.6,36.6M213.3,45.3L215.7,43M213.2,51.6L215.7,49.5M213,57.7L215.8,56M212.8,63.9L215.8,62.5M212.7,69.9L215.9,69M212.6,75.9L215.9,75.5M212.6,81.9L215.9,82M212.7,87.9L215.9,88.6M220,26.4L222,23.8M219.8,32.7L222,30.2M219.7,39L222.1,36.6M219.6,45.2L222.1,43.1M219.4,51.4L222.2,49.5M219.3,57.6L222.2,56M219.2,63.7L222.2,62.5M219.1,69.8L222.3,69M219,75.9L222.3,75.5M219,81.9L222.3,82M226.1,32.6L228.5,30.2M226,38.8L228.5,36.7M225.9,45.1L228.5,43.1M225.8,51.3L228.6,49.6M225.6,57.5L228.6,56.1M225.5,63.6L228.7,62.5M225.5,69.7L228.7,69M225.4,75.8L228.7,75.5M232.3,38.7L234.9,36.7M232.2,45L235,43.2M232.1,51.2L235,49.6M232,57.4L235,56.1M231.9,63.5L235.1,62.6M231.8,69.7L235.1,69" stroke="#666" stroke-width="0.5" fill="none"/><path d="M149.7,35L151.4,36.4L150.2,37.1zM149.6,41.5L151.4,42.8L150.2,43.6zM149.4,48L151.3,49.2L150.2,50.1zM149.2,54.7L151.2,55.5L150.3,56.6zM148.9,61.4L151.1,61.9L150.3,63.1zM148.7,68.2L150.9,68.4L150.4,69.6zM156.5,28.4L158,30.1L156.7,30.6zM156.4,34.8L157.9,36.5L156.7,37zM156.3,41.3L157.9,42.8L156.6,43.5zM156.1,47.8L157.8,49.2L156.6,50zM155.8,54.4L157.7,55.6L156.6,56.5zM155.5,61.1L157.6,61.9L156.7,63zM155.2,67.9L157.4,68.3L156.7,69.6zM155,75L157.2,74.8L156.9,76.2zM163.3,21.9L164.5,23.7L163.1,24.1zM163.2,28.3L164.4,30.1L163.1,30.5zM163.1,34.7L164.4,36.5L163.1,36.9zM163,41.2L164.4,42.9L163.1,43.4zM162.8,47.6L164.3,49.3L163.1,49.8zM162.6,54.1L164.3,55.6L163,56.3zM162.3,60.7L164.1,62L163,62.8zM161.9,67.5L164,68.3L163.1,69.4zM161.4,74.7L163.7,74.8L163.2,76.1zM161.3,82.3L163.3,81.4L163.5,82.8zM170,15.4L170.9,17.4L169.5,17.6zM170,21.8L170.9,23.8L169.5,24zM169.9,28.2L170.9,30.2L169.5,30.4zM169.9,34.6L170.9,36.6L169.5,36.8zM169.8,41L170.9,43L169.5,43.2zM169.7,47.5L170.9,49.4L169.5,49.7zM169.6,53.9L170.8,55.7L169.5,56.1zM169.3,60.4L170.8,62.1L169.5,62.6zM168.9,67L170.6,68.4L169.4,69.2zM168.1,74.2L170.3,74.7L169.5,75.9zM167.8,82.6L169.7,81.4L170,82.8zM168.6,90.3L169.4,88.3L170.5,89.2zM176.7,9L177.4,11.1L176,11.1zM176.7,15.4L177.4,17.5L176,17.5zM176.7,21.8L177.4,23.9L176,23.9zM176.7,28.2L177.4,30.3L176,30.3zM176.7,34.6L177.4,36.7L176,36.7zM176.6,41L177.4,43.1L176,43.1zM176.6,47.4L177.4,49.5L176,49.5zM176.6,53.8L177.4,55.9L176,55.9zM176.6,60.2L177.4,62.3L176,62.3zM176.5,66.6L177.4,68.7L176,68.8zM176.3,73L177.3,75L175.9,75.2zM175.5,84.3L175.9,82.1L177.1,82.8zM176.4,91L176,88.8L177.3,89zM176.6,97.4L176,95.3L177.4,95.3zM183.3,9L183.8,11.2L182.4,11zM183.3,15.4L183.8,17.6L182.4,17.4zM183.4,21.8L183.8,24L182.5,23.8zM183.4,28.2L183.9,30.4L182.5,30.2zM183.4,34.6L183.9,36.8L182.5,36.6zM183.5,41L183.9,43.2L182.5,43zM183.6,47.4L183.9,49.6L182.5,49.4zM183.7,53.9L183.9,56.1L182.5,55.8zM183.9,60.3L183.9,62.5L182.6,62.1zM184.3,66.9L183.9,69.1L182.7,68.4zM185.1,73.9L183.9,75.8L183,74.7zM185.6,82.7L183.4,82.8L183.8,81.5zM184.6,90.5L182.8,89.2L184,88.4zM184,97.2L182.6,95.5L183.9,95zM189.9,9L190.3,11.2L188.9,11zM190,15.4L190.3,17.6L188.9,17.4zM190,21.9L190.3,24.1L188.9,23.8zM190.1,28.3L190.3,30.5L188.9,30.1zM190.2,34.7L190.3,36.9L189,36.5zM190.3,41.1L190.3,43.3L189,42.9zM190.5,47.6L190.3,49.8L189,49.3zM190.7,54.1L190.3,56.3L189.1,55.6zM191,60.7L190.4,62.8L189.2,62zM191.4,67.4L190.3,69.4L189.4,68.3zM191.9,74.6L190.2,76.1L189.7,74.8zM192.1,82.3L189.9,82.8L190.1,81.4zM191.7,89.8L189.5,89.3L190.3,88.1zM191.2,96.8L189.3,95.6L190.4,94.7zM196.6,9.1L196.7,11.3L195.4,10.9zM196.6,15.5L196.7,17.7L195.4,17.3zM196.7,21.9L196.7,24.1L195.4,23.7zM196.8,28.4L196.7,30.6L195.4,30.1zM196.9,34.8L196.7,37L195.5,36.5zM197.1,41.3L196.7,43.5L195.5,42.8zM197.2,47.8L196.8,49.9L195.6,49.2zM197.5,54.3L196.8,56.4L195.6,55.6zM197.8,61L196.7,63L195.8,61.9zM198.1,67.8L196.7,69.5L196,68.3zM198.4,74.9L196.6,76.2L196.2,74.8zM198.5,82.2L196.3,82.7L196.5,81.3zM198.3,89.4L196.1,89.2L196.6,88zM197.9,96.4L195.9,95.7L196.7,94.6zM203.2,9.2L203.1,11.4L201.8,10.9zM203.3,15.6L203.1,17.8L201.8,17.3zM203.4,22L203.1,24.2L201.9,23.7zM203.5,28.5L203.1,30.7L201.9,30zM203.6,34.9L203.2,37.1L201.9,36.4zM203.8,41.4L203.2,43.6L202,42.8zM203.9,48L203.2,50.1L202.1,49.2zM204.2,54.6L203.1,56.6L202.2,55.5zM204.4,61.3L203.1,63.1L202.3,61.9zM204.7,68.1L203,69.6L202.5,68.4zM204.9,75.1L202.9,76.2L202.7,74.8zM204.9,82.2L202.8,82.7L202.8,81.3zM204.8,89.2L202.6,89.2L203,87.9zM204.5,96.1L202.4,95.7L203.1,94.4zM209.8,9.2L209.5,11.4L208.3,10.9zM209.9,15.7L209.5,17.9L208.3,17.2zM210,22.1L209.6,24.3L208.3,23.6zM210.1,28.6L209.6,30.7L208.4,30zM210.2,35.1L209.6,37.2L208.4,36.4zM210.4,41.6L209.6,43.7L208.5,42.8zM210.6,48.2L209.5,50.2L208.6,49.1zM210.8,54.8L209.5,56.6L208.7,55.5zM211,61.5L209.5,63.2L208.8,61.9zM211.1,68.3L209.4,69.7L208.9,68.4zM211.3,75.2L209.3,76.2L209.1,74.8zM211.3,82.1L209.2,82.7L209.2,81.3zM211.2,89L209,89.2L209.4,87.8zM211.1,95.9L208.9,95.6L209.4,94.4zM216.4,15.8L216,17.9L214.8,17.2zM216.5,22.2L216,24.4L214.8,23.6zM216.7,28.7L216,30.8L214.8,30zM216.8,35.2L216,37.3L214.9,36.4zM217,41.8L215.9,43.8L215,42.8zM217.1,48.4L215.9,50.2L215,49.1zM217.3,55L215.9,56.7L215.1,55.5zM217.5,61.7L215.8,63.2L215.3,62zM217.6,68.5L215.8,69.7L215.4,68.4zM217.7,75.3L215.7,76.2L215.5,74.8zM217.7,82.1L215.6,82.7L215.6,81.3zM217.6,88.9L215.4,89.2L215.7,87.8zM223.1,22.4L222.4,24.4L221.3,23.6zM223.2,28.9L222.4,30.9L221.3,30zM223.4,35.4L222.3,37.3L221.4,36.4zM223.5,41.9L222.3,43.8L221.4,42.7zM223.6,48.5L222.3,50.3L221.5,49.1zM223.8,55.2L222.3,56.8L221.6,55.5zM223.9,61.8L222.2,63.3L221.7,62zM224,68.6L222.2,69.8L221.8,68.4zM224.1,75.3L222.1,76.2L221.9,74.8zM224.1,82.1L222,82.7L222,81.3zM229.8,29L228.7,30.9L227.8,30zM229.9,35.5L228.7,37.4L227.8,36.3zM230,42.1L228.7,43.9L227.9,42.7zM230.1,48.7L228.7,50.3L228,49.1zM230.2,55.3L228.7,56.8L228.1,55.6zM230.4,61.9L228.6,63.3L228.1,62zM230.4,68.6L228.5,69.8L228.2,68.4zM230.5,75.4L228.5,76.2L228.3,74.9zM236.4,35.6L235.1,37.5L234.3,36.3zM236.5,42.2L235.1,43.9L234.3,42.7zM236.6,48.8L235.1,50.4L234.4,49.1zM236.7,55.4L235,56.9L234.5,55.6zM236.8,62L235,63.3L234.6,62zM236.9,68.7L234.9,69.8L234.7,68.4z" fill="#444"/><circle cx="177.5" cy="80.4" r="8" fill="url(#coreB)"/><circle cx="311.7" cy="53.5" r="45.7" fill="url(#ring2)"/><path d="M276.8,35.2L274.8,32.6M276.9,43.2L274.7,40.8M277,51.2L274.7,48.9M277.2,59.2L274.6,57M277.3,67.1L274.6,65.2M277.4,75L274.6,73.4M284.6,27.3L282.9,24.5M284.7,35.3L282.9,32.6M284.9,43.3L282.9,40.7M285,51.3L282.8,48.8M285.1,59.3L282.8,57M285.3,67.2L282.7,65.1M285.4,75.1L282.7,73.3M285.6,82.9L282.6,81.5M292.5,19.3L291.1,16.3M292.6,27.4L291.1,24.4M292.7,35.4L291.1,32.6M292.8,43.5L291,40.7M292.9,51.5L291,48.8M293.1,59.5L290.9,56.9M293.2,67.4L290.9,65.1M293.4,75.3L290.8,73.3M293.6,83.1L290.8,81.4M293.8,90.8L290.7,89.7M300.4,19.4L299.3,16.3M300.5,27.5L299.3,24.4M300.6,35.5L299.2,32.5M300.7,43.6L299.2,40.6M300.8,51.6L299.1,48.8M301,59.6L299.1,56.9M301.1,67.6L299,65M301.3,75.5L299,73.2M301.6,83.3L298.9,81.4M301.8,91L298.8,89.6M308.3,19.5L307.4,16.3M308.4,27.5L307.4,24.4M308.4,35.6L307.4,32.5M308.5,43.7L307.4,40.6M308.6,51.7L307.3,48.7M308.8,59.8L307.3,56.8M309,67.8L307.2,65M309.2,75.7L307.2,73.1M309.4,83.6L307.1,81.3M309.8,91.3L307,89.5M316.2,19.5L315.6,16.3M316.2,27.6L315.6,24.4M316.3,35.7L315.6,32.5M316.4,43.8L315.6,40.6M316.4,51.9L315.5,48.7M316.6,59.9L315.5,56.8M316.7,68L315.4,64.9M316.9,76L315.4,73M317.2,83.9L315.3,81.2M317.6,91.7L315.2,89.4M324.1,19.5L323.8,16.3M324.1,27.6L323.8,24.4M324.1,35.7L323.8,32.5M324.2,43.8L323.7,40.6M324.2,51.9L323.7,48.7M324.3,60L323.7,56.8M324.4,68.1L323.7,64.9M324.5,76.2L323.7,73M324.7,84.2L323.6,81.1M325,92.2L323.5,89.2M332,19.5L331.9,16.3M332,27.6L331.9,24.4M332,35.7L331.9,32.5M332,43.8L331.9,40.6M332,51.9L331.9,48.7M332,60L331.9,56.8M332,68.1L331.9,64.9M332,76.2L331.9,73M332,84.3L331.9,81.1M332,92.4L331.9,89.2M339.8,27.6L340.1,24.4M339.8,35.7L340.1,32.5M339.7,43.8L340.1,40.6M339.7,51.9L340.2,48.7M339.6,60L340.2,56.8M339.6,68.1L340.2,64.9M339.4,76.2L340.2,73M339.2,84.2L340.3,81.1M347.6,35.7L348.3,32.5M347.5,43.8L348.3,40.6M347.5,51.9L348.4,48.7M347.4,59.9L348.4,56.8M347.2,68L348.5,64.9M347,76L348.5,73" stroke="#666" stroke-width="0.5" fill="none"/><path d="M273.6,31.2L275.5,32.4L274.4,33.3zM273.5,39.4L275.4,40.5L274.4,41.4zM273.4,47.6L275.4,48.6L274.4,49.6zM273.3,55.9L275.3,56.7L274.4,57.8zM273.1,64.2L275.2,64.8L274.4,65.9zM273,72.5L275.2,72.9L274.5,74.1zM282,22.9L283.7,24.4L282.5,25.1zM281.9,31.1L283.7,32.4L282.5,33.2zM281.8,39.3L283.6,40.5L282.5,41.4zM281.6,47.5L283.6,48.6L282.5,49.5zM281.5,55.7L283.5,56.7L282.5,57.7zM281.3,64L283.4,64.8L282.5,65.9zM281.2,72.3L283.3,72.9L282.5,74.1zM281,80.7L283.2,81L282.6,82.3zM290.4,14.7L291.9,16.3L290.6,16.9zM290.3,22.8L291.8,24.4L290.6,25zM290.2,31L291.8,32.5L290.6,33.2zM290.1,39.2L291.8,40.6L290.6,41.3zM289.9,47.3L291.7,48.6L290.6,49.5zM289.8,55.6L291.7,56.7L290.6,57.6zM289.6,63.8L291.6,64.8L290.6,65.8zM289.4,72.1L291.5,72.9L290.6,74zM289.2,80.5L291.4,81L290.7,82.2zM289,89L291.2,89.1L290.7,90.4zM298.7,14.6L300,16.3L298.7,16.8zM298.6,22.7L300,24.4L298.7,24.9zM298.5,30.9L300,32.5L298.7,33.1zM298.4,39L299.9,40.6L298.7,41.2zM298.2,47.2L299.9,48.7L298.7,49.4zM298.1,55.4L299.8,56.7L298.7,57.5zM297.9,63.6L299.8,64.8L298.7,65.7zM297.7,71.9L299.7,72.9L298.7,73.9zM297.4,80.3L299.6,81L298.7,82.1zM297.2,88.8L299.4,89.1L298.8,90.4zM307,14.5L308.2,16.4L306.8,16.8zM306.9,22.7L308.2,24.5L306.8,24.9zM306.8,30.8L308.2,32.6L306.8,33zM306.7,38.9L308.1,40.6L306.8,41.1zM306.6,47.1L308.1,48.7L306.8,49.3zM306.5,55.2L308,56.8L306.8,57.4zM306.3,63.4L308,64.9L306.8,65.6zM306.1,71.7L307.9,72.9L306.8,73.8zM305.8,80L307.8,81L306.8,82zM305.5,88.6L307.6,89.1L306.9,90.3zM315.3,14.5L316.3,16.4L315,16.7zM315.2,22.6L316.3,24.5L315,24.8zM315.2,30.7L316.3,32.6L315,32.9zM315.1,38.8L316.3,40.7L314.9,41zM315,47L316.3,48.8L314.9,49.2zM314.9,55.1L316.3,56.9L314.9,57.3zM314.8,63.2L316.2,64.9L314.9,65.5zM314.6,71.4L316.1,73L314.9,73.6zM314.3,79.7L316,81L314.9,81.8zM313.9,88.2L315.9,89.1L314.9,90.1zM323.6,14.5L324.5,16.5L323.1,16.6zM323.6,22.6L324.5,24.6L323.1,24.7zM323.6,30.7L324.5,32.7L323.1,32.8zM323.5,38.8L324.5,40.8L323.1,40.9zM323.5,46.9L324.5,48.9L323.1,49.1zM323.4,55L324.5,56.9L323.1,57.2zM323.3,63.1L324.4,65L323.1,65.3zM323.2,71.2L324.4,73.1L323,73.4zM323,79.4L324.3,81.1L323,81.6zM322.6,87.6L324.2,89.2L323,89.8zM331.9,14.5L332.6,16.5L331.2,16.6zM331.9,22.6L332.6,24.6L331.2,24.7zM331.9,30.7L332.6,32.7L331.2,32.8zM331.9,38.8L332.6,40.8L331.2,40.9zM331.9,46.9L332.6,48.9L331.2,49zM331.9,55L332.6,57L331.2,57.1zM331.9,63.1L332.6,65.1L331.2,65.2zM331.9,71.2L332.6,73.2L331.2,73.3zM331.9,79.3L332.6,81.3L331.2,81.4zM331.9,87.4L332.6,89.4L331.2,89.5zM340.3,22.6L340.8,24.7L339.4,24.6zM340.3,30.7L340.8,32.8L339.4,32.7zM340.4,38.8L340.8,40.9L339.4,40.8zM340.4,46.9L340.8,49.1L339.4,48.9zM340.5,55L340.8,57.2L339.4,56.9zM340.6,63.1L340.8,65.3L339.5,65zM340.7,71.2L340.9,73.4L339.5,73.1zM340.9,79.4L340.9,81.6L339.5,81.2zM348.7,30.7L348.9,32.9L347.6,32.6zM348.8,38.8L349,41L347.6,40.7zM348.9,47L349,49.2L347.6,48.8zM349,55.1L349,57.3L347.6,56.9zM349.1,63.2L349,65.4L347.7,64.9zM349.3,71.4L349,73.6L347.8,73z" fill="#444"/><circle cx="332" cy="87.5" r="5.5" fill="url(#coreB)"/><circle cx="475.2" cy="54" r="46.1" fill="url(#ring3)"/><path d="M435.5,39.6L433,37.5M435.7,45.8L432.9,44M435.9,51.8L432.9,50.5M436,57.9L432.8,57M436.1,63.9L432.8,63.5M436.1,69.9L432.8,70M441.5,33.6L439.5,31M441.8,39.8L439.4,37.4M442,45.9L439.4,43.9M442.2,51.9L439.3,50.4M442.4,57.9L439.2,57M442.5,63.8L439.2,63.5M442.5,69.8L439.2,70.1M442.4,75.8L439.2,76.6M447.4,27.5L446.1,24.5M447.7,33.8L446,30.9M447.9,40L445.9,37.4M448.3,46.1L445.8,43.9M448.6,52.1L445.7,50.4M448.8,57.9L445.6,57M448.9,63.8L445.6,63.5M448.9,69.7L445.6,70.1M448.8,75.7L445.6,76.6M448.7,81.7L445.7,83.1M453.3,21.3L452.6,18M453.5,27.6L452.6,24.4M453.7,33.9L452.5,30.9M454,40.2L452.4,37.3M454.4,46.3L452.3,43.8M454.8,52.3L452.2,50.3M455.2,58L452,56.9M455.3,63.7L452,63.6M455.2,69.5L452,70.2M455.1,75.4L452.1,76.7M454.9,81.5L452.1,83.2M454.8,87.7L452.2,89.7M459.2,14.9L459.2,11.6M459.3,21.3L459.2,18M459.4,27.7L459.1,24.4M459.6,34.1L459.1,30.8M459.9,40.4L459,37.2M460.3,46.6L458.8,43.7M461,52.6L458.6,50.2M461.5,58.1L458.5,56.9M461.7,63.6L458.4,63.6M461.6,69.2L458.4,70.3M461.4,75.1L458.5,76.8M461.1,81.2L458.6,83.3M461,87.4L458.6,89.8M460.8,93.7L458.7,96.2M465.2,14.9L465.7,11.6M465.3,21.3L465.7,18M465.3,27.7L465.7,24.4M465.4,34.1L465.7,30.8M465.5,40.5L465.6,37.2M465.8,46.9L465.5,43.6M466.8,53L465.2,50.1M467.9,58.1L464.9,56.9M468.1,63.2L464.8,63.7M467.8,68.8L464.9,70.4M467.5,74.8L465,76.9M467.2,80.9L465.1,83.4M467.1,87.2L465.1,89.8M466.9,93.5L465.2,96.3M471.3,14.8L472.2,11.6M471.2,21.2L472.2,18M471.2,27.6L472.3,24.4M471,33.9L472.3,30.9M470.9,40.2L472.4,37.3M470.8,46.6L472.4,43.7M471.4,53.2L472.2,50M474.5,57.3L471.2,57.2M474.1,62.3L471.3,64M473.7,68.2L471.4,70.6M473.4,74.4L471.5,77.1M473.2,80.6L471.6,83.5M473.1,87L471.6,89.9M473,93.3L471.7,96.3M477.3,14.6L478.8,11.7M477.2,21L478.8,18.1M477,27.3L478.8,24.5M476.8,33.5L478.9,31M476.5,39.6L479,37.5M476.1,45.3L479.1,44.1M476.1,49.8L479.1,51.1M478.9,54.8L478.2,58M479.4,61.3L478.1,64.3M479.3,67.7L478.1,70.7M479.2,74L478.1,77.2M479.1,80.4L478.2,83.6M479.1,86.8L478.2,90M479.1,93.2L478.2,96.4M483.4,14.5L485.3,11.7M483.2,20.8L485.3,18.2M483.1,27L485.4,24.6M482.8,33.1L485.4,31.1M482.5,39L485.5,37.7M482.3,44.5L485.6,44.4M482.6,49.5L485.5,51.2M483.7,54.9L485.1,57.9M484.5,61.1L484.9,64.4M484.8,67.5L484.8,70.8M485,73.9L484.8,77.2M485,80.3L484.7,83.6M485.1,86.7L484.7,90M485.1,93.1L484.7,96.4M489.5,14.2L491.7,11.8M489.4,20.5L491.8,18.3M489.2,26.7L491.8,24.7M489,32.7L491.9,31.2M488.8,38.6L492,37.8M488.7,44.2L492,44.5M489,49.7L491.9,51.2M489.5,55.4L491.7,57.8M490.1,61.4L491.6,64.3M490.5,67.6L491.4,70.8M490.8,73.9L491.3,77.2M490.9,80.3L491.3,83.6M491.1,86.7L491.2,90M491.1,93.1L491.2,96.4M495.6,20.3L498.3,18.3M495.4,26.4L498.3,24.8M495.2,32.4L498.4,31.3M495.1,38.4L498.4,37.9M495.1,44.1L498.4,44.5M495.3,49.8L498.3,51.1M495.6,55.7L498.2,57.7M496,61.6L498.1,64.2M496.4,67.8L498,70.7M496.7,74.1L497.9,77.1M496.9,80.4L497.8,83.6M497.1,86.8L497.8,90M501.7,26.2L504.7,24.9M501.6,32.2L504.8,31.4M501.5,38.2L504.8,37.9M501.5,44.1L504.8,44.5M501.6,50L504.8,51.1M501.9,55.9L504.7,57.6M502.2,61.9L504.6,64.1M502.5,68L504.5,70.6M502.8,74.2L504.4,77.1M503,80.5L504.3,83.5M507.9,32.1L511.2,31.5M507.9,38.1L511.2,38M507.9,44.1L511.2,44.5M508,50L511.2,51.1M508.2,56L511.1,57.6M508.4,62.1L511,64.1M508.7,68.2L511,70.6M508.9,74.4L510.9,77M514.3,38L517.6,38M514.3,44L517.6,44.5M514.4,50.1L517.6,51M514.6,56.1L517.5,57.6M514.7,62.2L517.5,64.1M514.9,68.3L517.4,70.5" stroke="#666" stroke-width="0.5" fill="none"/><path d="M431.6,36.3L433.7,37.1L432.8,38.2zM431.4,43L433.6,43.5L432.8,44.7zM431.2,49.7L433.4,50L432.9,51.2zM431.1,56.5L433.3,56.4L432.9,57.7zM431,63.3L433.2,62.8L433,64.2zM431,70.1L433.1,69.3L433.1,70.7zM438.4,29.5L440.3,30.8L439.1,31.6zM438.2,36.1L440.1,37.2L439.2,38.1zM437.9,42.8L440,43.5L439.2,44.7zM437.7,49.6L439.9,49.9L439.2,51.2zM437.5,56.5L439.7,56.4L439.3,57.7zM437.4,63.3L439.6,62.9L439.4,64.2zM437.4,70.2L439.5,69.3L439.6,70.7zM437.5,77L439.4,75.8L439.7,77.2zM445.3,22.8L446.8,24.5L445.6,25zM445.1,29.4L446.8,30.8L445.5,31.5zM444.8,36L446.6,37.2L445.5,38zM444.5,42.7L446.5,43.5L445.6,44.6zM444.2,49.5L446.3,49.9L445.6,51.2zM443.9,56.4L446.1,56.4L445.7,57.7zM443.8,63.4L446,62.9L445.8,64.3zM443.8,70.3L445.8,69.4L446,70.8zM443.9,77.2L445.7,75.9L446.1,77.2zM444,83.9L445.6,82.4L446.2,83.6zM452.3,16.3L453.4,18.2L452,18.4zM452.1,22.7L453.3,24.5L452,24.9zM451.9,29.2L453.3,30.9L452,31.4zM451.5,35.7L453.2,37.2L451.9,37.9zM451.1,42.4L453,43.6L451.9,44.5zM450.7,49.3L452.8,49.9L452,51.1zM450.3,56.3L452.6,56.4L452.1,57.7zM450.2,63.5L452.3,62.9L452.3,64.3zM450.3,70.5L452.2,69.4L452.5,70.8zM450.4,77.4L452.1,75.9L452.6,77.2zM450.6,84.2L452,82.5L452.7,83.7zM450.7,90.8L452,89L452.8,90.1zM459.2,9.8L459.9,11.9L458.5,11.9zM459.1,16.2L459.9,18.3L458.5,18.3zM459,22.6L459.9,24.6L458.5,24.8zM458.8,29L459.8,31L458.4,31.2zM458.5,35.5L459.7,37.3L458.4,37.7zM458,42.1L459.6,43.6L458.3,44.3zM457.4,49L459.3,50L458.4,50.9zM456.8,56.2L459,56.4L458.5,57.7zM456.6,63.6L458.7,62.9L458.7,64.3zM456.7,70.8L458.5,69.5L458.9,70.8zM457,77.7L458.4,76.1L459.1,77.3zM457.2,84.4L458.4,82.6L459.3,83.7zM457.4,91L458.4,89.1L459.3,90zM457.5,97.6L458.3,95.5L459.4,96.4zM466,9.8L466.4,12L465,11.8zM465.9,16.2L466.4,18.4L465,18.2zM465.9,22.6L466.4,24.8L465,24.6zM465.8,29L466.3,31.2L465,31zM465.7,35.4L466.3,37.5L464.9,37.5zM465.4,41.8L466.2,43.8L464.9,44zM464.4,48.5L466,50L464.7,50.7zM463.2,56.2L465.4,56.4L464.9,57.7zM463,64L465,63L465.2,64.4zM463.3,71.3L464.8,69.6L465.5,70.9zM463.6,78.1L464.8,76.2L465.7,77.3zM463.9,84.8L464.7,82.7L465.8,83.6zM464.1,91.3L464.7,89.2L465.9,90zM464.2,97.8L464.7,95.6L465.9,96.4zM472.8,9.9L472.8,12.1L471.5,11.7zM472.8,16.3L472.8,18.5L471.5,18.1zM472.9,22.8L472.8,25L471.5,24.5zM473,29.2L472.8,31.4L471.5,30.9zM473.1,35.7L472.8,37.9L471.6,37.2zM473.3,42.1L472.9,44.3L471.6,43.6zM472.6,48.3L472.8,50.5L471.4,50.2zM469.4,57.1L471.5,56.5L471.5,57.9zM469.8,65L471.2,63.3L471.9,64.5zM470.2,71.9L471.1,69.9L472.2,70.8zM470.5,78.5L471.1,76.4L472.3,77.2zM470.7,85.1L471.1,82.9L472.4,83.6zM470.8,91.5L471.2,89.3L472.4,90zM470.9,98L471.2,95.8L472.4,96.3zM479.5,10.1L479.2,12.3L478,11.6zM479.6,16.5L479.3,18.7L478,18zM479.8,23L479.3,25.2L478.1,24.4zM480,29.6L479.3,31.7L478.2,30.8zM480.4,36.3L479.2,38.2L478.3,37.1zM480.8,43.4L479.1,44.9L478.6,43.6zM480.8,51.9L478.6,51.6L479.1,50.4zM477.9,59.7L477.6,57.5L479,57.8zM477.4,66L477.6,63.8L478.8,64.3zM477.4,72.4L477.6,70.2L478.9,70.7zM477.5,78.9L477.6,76.6L478.9,77.1zM477.6,85.3L477.6,83.1L478.9,83.5zM477.7,91.7L477.6,89.5L478.9,89.9zM477.7,98.1L477.6,95.9L478.9,96.3zM486.3,10.3L485.7,12.4L484.5,11.6zM486.4,16.8L485.7,18.8L484.6,18zM486.6,23.3L485.7,25.3L484.6,24.4zM486.9,30L485.6,31.9L484.8,30.7zM487.2,37L485.5,38.4L485,37.2zM487.4,44.3L485.3,45.1L485.3,43.7zM487,52.1L484.9,51.7L485.6,50.4zM485.9,59.5L484.4,58L485.6,57.3zM485.1,66.2L484.2,64.2L485.6,64zM484.8,72.6L484.1,70.5L485.5,70.5zM484.6,79L484.1,76.9L485.5,76.9zM484.6,85.4L484.1,83.2L485.5,83.4zM484.5,91.8L484.1,89.6L485.4,89.8zM484.5,98.2L484,96L485.4,96.2zM493,10.5L492.1,12.5L491,11.6zM493.1,17L492,19L491.1,17.9zM493.3,23.7L492,25.5L491.2,24.3zM493.5,30.4L492,32L491.3,30.7zM493.7,37.4L491.9,38.6L491.5,37.2zM493.8,44.6L491.6,45.1L491.7,43.7zM493.5,51.9L491.3,51.6L492,50.4zM493,59.1L491,58L492.1,57.1zM492.4,65.9L490.8,64.4L492,63.7zM491.9,72.5L490.7,70.7L492,70.3zM491.7,79L490.6,77L492,76.8zM491.5,85.4L490.6,83.4L492,83.2zM491.4,91.8L490.5,89.7L491.9,89.7zM491.3,98.2L490.5,96.1L491.9,96.1zM499.7,17.3L498.4,19.1L497.6,17.9zM499.9,24L498.4,25.6L497.7,24.3zM500,30.7L498.3,32.1L497.8,30.8zM500.2,37.6L498.2,38.6L498,37.2zM500.2,44.7L498,45.2L498.2,43.8zM500,51.8L497.8,51.6L498.3,50.3zM499.6,58.8L497.6,58.1L498.4,57zM499.2,65.6L497.4,64.4L498.5,63.6zM498.8,72.3L497.2,70.8L498.5,70.1zM498.5,78.8L497.1,77.1L498.4,76.6zM498.3,85.3L497.1,83.5L498.4,83.1zM498.1,91.7L497,89.8L498.4,89.5zM506.4,24.2L504.7,25.7L504.2,24.4zM506.5,31L504.7,32.2L504.3,30.8zM506.6,37.8L504.6,38.7L504.4,37.3zM506.6,44.7L504.4,45.2L504.6,43.8zM506.4,51.7L504.2,51.6L504.7,50.3zM506.2,58.6L504,58.1L504.8,56.9zM505.9,65.4L503.9,64.5L504.8,63.4zM505.6,72.1L503.7,70.8L504.9,70zM505.3,78.7L503.6,77.2L504.9,76.5zM505.1,85.2L503.6,83.5L504.8,83zM513,31.1L511,32.2L510.8,30.8zM513,37.9L510.9,38.7L510.9,37.3zM513,44.8L510.8,45.2L511,43.8zM512.9,51.6L510.7,51.6L511.1,50.3zM512.7,58.4L510.5,58.1L511.2,56.8zM512.4,65.2L510.4,64.5L511.2,63.4zM512.2,71.9L510.2,70.8L511.3,69.9zM511.9,78.5L510.1,77.2L511.3,76.4zM519.4,38L517.3,38.7L517.3,37.3zM519.4,44.8L517.2,45.2L517.4,43.8zM519.3,51.6L517.1,51.6L517.5,50.3zM519.1,58.3L516.9,58L517.6,56.8zM518.9,65.1L516.8,64.5L517.6,63.3zM518.7,71.7L516.7,70.9L517.6,69.8z" fill="#444"/><circle cx="474.7" cy="53.3" r="5" fill="url(#coreR)"/><ellipse cx="314.8" cy="50.2" rx="7.3" ry="11.6" fill="none" stroke="#f040f0" stroke-width="1"/><line x1="322.6" y1="50.2" x2="366" y2="46.2" stroke="#f040f0" stroke-width="1"/><path d="M369.6,45.9 L364.6,43.9 L365.2,48.3z" fill="#f040f0"/><g class="mg" fill="#ff00ff" font-size="12.6"><text x="369.7" y="34.9" textLength="38.3" lengthAdjust="spacingAndGlyphs">Central</text><text x="369.7" y="52.6" textLength="47.9" lengthAdjust="spacingAndGlyphs">electrode</text><text x="372.7" y="69.8" textLength="22.1" lengthAdjust="spacingAndGlyphs">area</text></g><text x="46.4" y="116.9" font-size="13.2" textLength="59.3" lengthAdjust="spacingAndGlyphs" fill="#1a1a1a">Pinned RV</text><text x="157.4" y="116.9" font-size="13.2" textLength="69.9" lengthAdjust="spacingAndGlyphs" fill="#1a1a1a">Gyrating RV</text><text x="273.8" y="116.9" font-size="13.2" textLength="76.8" lengthAdjust="spacingAndGlyphs" fill="#1a1a1a">Deformed RV</text><text x="438.8" y="116.9" font-size="13.2" textLength="75" lengthAdjust="spacingAndGlyphs" fill="#1a1a1a">Quasi-Vortex</text><text x="5.5" y="131.2" font-size="16">(<tspan font-weight="bold" font-size="15">b</tspan>)</text><g><rect x="56" y="134" width="435" height="3.6" fill="url(#g0)"/><rect x="56" y="137" width="435" height="3.6" fill="url(#g1)"/><rect x="56" y="140" width="435" height="3.6" fill="url(#g2)"/><rect x="56" y="143" width="435" height="3.6" fill="url(#g3)"/><rect x="56" y="146" width="435" height="3.6" fill="url(#g4)"/><rect x="56" y="149" width="435" height="3.6" fill="url(#g5)"/><rect x="56" y="152" width="435" height="3.6" fill="url(#g6)"/><rect x="56" y="155" width="435" height="3.6" fill="url(#g7)"/><rect x="56" y="158" width="435" height="3.6" fill="url(#g8)"/><rect x="56" y="161" width="435" height="3.6" fill="url(#g9)"/><rect x="56" y="164" width="435" height="3.6" fill="url(#g10)"/><rect x="56" y="167" width="435" height="3.6" fill="url(#g11)"/><rect x="56" y="170" width="435" height="3.6" fill="url(#g12)"/><rect x="56" y="173" width="435" height="3.6" fill="url(#g13)"/><rect x="56" y="176" width="435" height="3.6" fill="url(#g14)"/><rect x="56" y="179" width="435" height="3.6" fill="url(#g15)"/><rect x="56" y="182" width="435" height="3.6" fill="url(#g16)"/><rect x="56" y="185" width="435" height="3.6" fill="url(#g17)"/><rect x="56" y="188" width="435" height="3.6" fill="url(#g18)"/><rect x="56" y="191" width="435" height="3.6" fill="url(#g19)"/><rect x="56" y="194" width="435" height="3.6" fill="url(#g20)"/><rect x="56" y="197" width="435" height="3.6" fill="url(#g21)"/><rect x="56" y="200" width="435" height="3.6" fill="url(#g22)"/><rect x="56" y="203" width="435" height="3.6" fill="url(#g23)"/><rect x="56" y="206" width="435" height="3.6" fill="url(#g24)"/><rect x="56" y="209" width="435" height="3.6" fill="url(#g25)"/><rect x="56" y="212" width="435" height="3.6" fill="url(#g26)"/><rect x="56" y="215" width="435" height="3.6" fill="url(#g27)"/><rect x="56" y="218" width="435" height="3.6" fill="url(#g28)"/><rect x="56" y="221" width="435" height="3.6" fill="url(#g29)"/><rect x="56" y="224" width="435" height="3.6" fill="url(#g30)"/><rect x="56" y="227" width="435" height="3.6" fill="url(#g31)"/><rect x="56" y="230" width="435" height="3.6" fill="url(#g32)"/><rect x="56" y="233" width="435" height="3.6" fill="url(#g33)"/><rect x="56" y="236" width="435" height="2.1" fill="url(#g34)"/><rect x="56" y="237.5" width="435" height="3.6" fill="url(#g35)"/><rect x="56" y="240.5" width="435" height="3.6" fill="url(#g36)"/><rect x="56" y="243.5" width="435" height="3.6" fill="url(#g37)"/><rect x="56" y="246.5" width="435" height="3.6" fill="url(#g38)"/><rect x="56" y="249.5" width="435" height="3.6" fill="url(#g39)"/><rect x="56" y="252.5" width="435" height="3.6" fill="url(#g40)"/><rect x="56" y="255.5" width="435" height="3.6" fill="url(#g41)"/><rect x="56" y="258.5" width="435" height="3.6" fill="url(#g42)"/><rect x="56" y="261.5" width="435" height="3.6" fill="url(#g43)"/><rect x="56" y="264.5" width="435" height="3.6" fill="url(#g44)"/><rect x="56" y="267.5" width="435" height="3.6" fill="url(#g45)"/><rect x="56" y="270.5" width="435" height="3.6" fill="url(#g46)"/><rect x="56" y="273.5" width="435" height="3.6" fill="url(#g47)"/><rect x="56" y="276.5" width="435" height="3.6" fill="url(#g48)"/><rect x="56" y="279.5" width="435" height="3.6" fill="url(#g49)"/><rect x="56" y="282.5" width="435" height="3.6" fill="url(#g50)"/><rect x="56" y="285.5" width="435" height="3.6" fill="url(#g51)"/><rect x="56" y="288.5" width="435" height="3.6" fill="url(#g52)"/><rect x="56" y="291.5" width="435" height="3.6" fill="url(#g53)"/><rect x="56" y="294.5" width="435" height="3.6" fill="url(#g54)"/><rect x="56" y="297.5" width="435" height="3.6" fill="url(#g55)"/><rect x="56" y="300.5" width="435" height="3.6" fill="url(#g56)"/><rect x="56" y="303.5" width="435" height="3.6" fill="url(#g57)"/><rect x="56" y="306.5" width="435" height="3.6" fill="url(#g58)"/><rect x="56" y="309.5" width="435" height="3.6" fill="url(#g59)"/><rect x="56" y="312.5" width="435" height="3.6" fill="url(#g60)"/><rect x="56" y="315.5" width="435" height="3.6" fill="url(#g61)"/><rect x="56" y="318.5" width="435" height="3.6" fill="url(#g62)"/><rect x="56" y="321.5" width="435" height="3.6" fill="url(#g63)"/><rect x="56" y="324.5" width="435" height="3.6" fill="url(#g64)"/><rect x="56" y="327.5" width="435" height="3.6" fill="url(#g65)"/><rect x="56" y="330.5" width="435" height="3.6" fill="url(#g66)"/><rect x="56" y="333.5" width="435" height="3.6" fill="url(#g67)"/><rect x="56" y="336.5" width="435" height="3.6" fill="url(#g68)"/><rect x="56" y="339.5" width="435" height="2.3" fill="url(#g69)"/></g><g clip-path="url(#cpTop)"><polyline points="168.9,183.4 185.1,180.2 215,179.7 217.4,178.9 226.2,173.8 249,173 253.4,167.1 260.5,166.4 260.5,153.3 289.3,146.7 289.8,134" fill="none" stroke="#0020ff" stroke-width="5" filter="url(#blur2)"/></g><g clip-path="url(#cpBot)"><polyline points="168.3,292.8 181.5,290.6 205,288.1 217.9,286.8 227.1,281.3 247.4,279.4 254.7,274.8 271.3,270.2 271.3,257.3 278.7,255.5 291.6,251.8 296.2,248.1 296.2,237.5" fill="none" stroke="#0030ff" stroke-width="6" filter="url(#blur2)"/></g><polygon points="86.6,237.5 97.7,231.9 99.3,224.8 119.8,212 119.8,192.2 125.3,188.3 140,187.2 157.1,186.1 168.9,183.4 185.1,180.2 215,179.7 217.4,178.9 226.2,173.8 249,173 253.4,167.1 260.5,166.4 260.5,153.3 289.3,146.7 289.8,134 56,134 56,237.5" fill="url(#hatchA)"/><polygon points="80.4,341.2 99.2,335.8 99.8,328.6 124.6,317 125.2,301 126.8,296 136,296 156.5,295.3 168.3,292.8 181.5,290.6 205,288.1 217.9,286.8 227.1,281.3 247.4,279.4 254.7,274.8 271.3,270.2 271.3,257.3 278.7,255.5 291.6,251.8 296.2,248.1 296.2,237.5 56,237.5 56,341.2" fill="url(#hatchA)"/><path d="M456,134 H491 V341.2 H456 V243 Q456,237.5 450.5,237.5 H456 V237.5 V140 Q456,134 450,134 Z" fill="url(#hatchB)"/><rect x="456" y="134" width="35" height="207.2" fill="url(#hatchB)"/><path d="M449,134 Q456,134 456,141 V134Z" fill="url(#hatchB)"/><path d="M450,237.5 Q456,237.5 456,243.5 V237.5Z" fill="url(#hatchB)"/><rect x="87.2" y="157.2" width="42.5" height="14.9" fill="#fff"/><rect x="110" y="256.5" width="45.5" height="15" fill="#fff"/><rect x="261.5" y="179.1" width="94.2" height="18.2" fill="#fff"/><rect x="257.7" y="289.7" width="94" height="18.3" fill="#fff"/><rect x="423.1" y="141.2" width="18.2" height="91" fill="#fff"/><rect x="423.1" y="245.6" width="18.9" height="92.6" fill="#fff"/><rect x="466.5" y="154" width="12" height="72" fill="#fff"/><rect x="466.5" y="262" width="12" height="69" fill="#fff"/><g fill="#222"><text x="89.4" y="167.9" font-size="12.5" textLength="39.2" lengthAdjust="spacingAndGlyphs">Pinning</text><text x="112" y="268.6" font-size="12.5" textLength="41.2" lengthAdjust="spacingAndGlyphs">Pinning</text><text x="262.7" y="192.7" font-size="12.6" textLength="91.6" lengthAdjust="spacingAndGlyphs">Steady oscillation</text><text x="259.1" y="302.7" font-size="12.6" textLength="91.2" lengthAdjust="spacingAndGlyphs">Steady oscillation</text><text transform="translate(427.6,143.5) rotate(90)" font-size="12.6" textLength="86.5" lengthAdjust="spacingAndGlyphs">Transition region</text><text transform="translate(427.6,247.5) rotate(90)" font-size="12.6" textLength="88.8" lengthAdjust="spacingAndGlyphs">Transition region</text><text transform="translate(468.5,158) rotate(90)" font-size="12.6" textLength="65.5" lengthAdjust="spacingAndGlyphs">Annihilation</text><text transform="translate(468.5,264.5) rotate(90)" font-size="12.6" textLength="64.2" lengthAdjust="spacingAndGlyphs">Annihilation</text></g><g fill="none" stroke="#333" stroke-width="1.1" stroke-dasharray="4.8,2.9"><polyline points="407.8,134 407.8,197.4 390.3,204.6 390.3,237.5"/><polyline points="409,237.5 409,298.5 389.8,308.8 389.8,341.2"/></g><rect x="56" y="134" width="435" height="207.2" fill="none" stroke="#111" stroke-width="1.3"/><line x1="56" y1="237.5" x2="491" y2="237.5" stroke="#111" stroke-width="1.3"/><path d="M86.4,134v2.3M86.4,237.5v-2.3M86.4,237.5v2.3M86.4,341.2v-2.3M104.2,134v2.3M104.2,237.5v-2.3M104.2,237.5v2.3M104.2,341.2v-2.3M116.9,134v2.3M116.9,237.5v-2.3M116.9,237.5v2.3M116.9,341.2v-2.3M126.7,134v2.3M126.7,237.5v-2.3M126.7,237.5v2.3M126.7,341.2v-2.3M134.7,134v2.3M134.7,237.5v-2.3M134.7,237.5v2.3M134.7,341.2v-2.3M141.4,134v2.3M141.4,237.5v-2.3M141.4,237.5v2.3M141.4,341.2v-2.3M147.3,134v2.3M147.3,237.5v-2.3M147.3,237.5v2.3M147.3,341.2v-2.3M152.5,134v2.3M152.5,237.5v-2.3M152.5,237.5v2.3M152.5,341.2v-2.3M157.1,134v4.5M157.1,237.5v-4.5M157.1,237.5v4.5M157.1,341.2v-4.5M187.5,134v2.3M187.5,237.5v-2.3M187.5,237.5v2.3M187.5,341.2v-2.3M205.3,134v2.3M205.3,237.5v-2.3M205.3,237.5v2.3M205.3,341.2v-2.3M218,134v2.3M218,237.5v-2.3M218,237.5v2.3M218,341.2v-2.3M227.8,134v2.3M227.8,237.5v-2.3M227.8,237.5v2.3M227.8,341.2v-2.3M235.8,134v2.3M235.8,237.5v-2.3M235.8,237.5v2.3M235.8,341.2v-2.3M242.5,134v2.3M242.5,237.5v-2.3M242.5,237.5v2.3M242.5,341.2v-2.3M248.4,134v2.3M248.4,237.5v-2.3M248.4,237.5v2.3M248.4,341.2v-2.3M253.6,134v2.3M253.6,237.5v-2.3M253.6,237.5v2.3M253.6,341.2v-2.3M258.2,134v4.5M258.2,237.5v-4.5M258.2,237.5v4.5M258.2,341.2v-4.5M288.6,134v2.3M288.6,237.5v-2.3M288.6,237.5v2.3M288.6,341.2v-2.3M306.4,134v2.3M306.4,237.5v-2.3M306.4,237.5v2.3M306.4,341.2v-2.3M319.1,134v2.3M319.1,237.5v-2.3M319.1,237.5v2.3M319.1,341.2v-2.3M328.9,134v2.3M328.9,237.5v-2.3M328.9,237.5v2.3M328.9,341.2v-2.3M336.9,134v2.3M336.9,237.5v-2.3M336.9,237.5v2.3M336.9,341.2v-2.3M343.6,134v2.3M343.6,237.5v-2.3M343.6,237.5v2.3M343.6,341.2v-2.3M349.5,134v2.3M349.5,237.5v-2.3M349.5,237.5v2.3M349.5,341.2v-2.3M354.7,134v2.3M354.7,237.5v-2.3M354.7,237.5v2.3M354.7,341.2v-2.3M359.3,134v4.5M359.3,237.5v-4.5M359.3,237.5v4.5M359.3,341.2v-4.5M389.7,134v2.3M389.7,237.5v-2.3M389.7,237.5v2.3M389.7,341.2v-2.3M407.5,134v2.3M407.5,237.5v-2.3M407.5,237.5v2.3M407.5,341.2v-2.3M420.2,134v2.3M420.2,237.5v-2.3M420.2,237.5v2.3M420.2,341.2v-2.3M430,134v2.3M430,237.5v-2.3M430,237.5v2.3M430,341.2v-2.3M438,134v2.3M438,237.5v-2.3M438,237.5v2.3M438,341.2v-2.3M444.7,134v2.3M444.7,237.5v-2.3M444.7,237.5v2.3M444.7,341.2v-2.3M450.6,134v2.3M450.6,237.5v-2.3M450.6,237.5v2.3M450.6,341.2v-2.3M455.8,134v2.3M455.8,237.5v-2.3M455.8,237.5v2.3M455.8,341.2v-2.3M460.4,134v4.5M460.4,237.5v-4.5M460.4,237.5v4.5M460.4,341.2v-4.5M56,186h4.5M56,289.5h4.5M56,160h2.3M56,212h2.3M56,263.7h2.3M56,315.3h2.3" stroke="#111" stroke-width="1" fill="none"/><g font-size="13.5" fill="#222" text-anchor="end"><text x="52.6" y="137.8">4000</text><text x="52.6" y="188.8">0</text><text x="52.6" y="242.6">-4000</text><text x="52.6" y="293.2">0</text><text x="52.6" y="345.5">-4000</text></g><g font-size="13.5" fill="#222" text-anchor="middle"><text x="57" y="357.4">0.01</text><text x="158.1" y="357.4">0.1</text><text x="259.2" y="357.4">1</text><text x="360.3" y="357.4">10</text><text x="461.4" y="357.4">100</text></g><text x="272.3" y="377" font-size="15" fill="#222" text-anchor="middle">J (×10<tspan font-size="8.5" dy="-5">10</tspan><tspan dy="5"> </tspan><tspan font-style="italic">A</tspan>/<tspan font-style="italic">m</tspan><tspan font-size="8.5" dy="-5">2</tspan><tspan dy="5">)</tspan></text><text transform="translate(22.3,186) rotate(-90)" font-size="14.5" fill="#222" text-anchor="middle" textLength="72" lengthAdjust="spacingAndGlyphs">Strain (<tspan font-style="italic">ppm</tspan>)</text><text transform="translate(21.5,290) rotate(-90)" font-size="14.5" fill="#222" text-anchor="middle" textLength="73" lengthAdjust="spacingAndGlyphs">Strain (<tspan font-style="italic">ppm</tspan>)</text><linearGradient id="cb1" x1="0" y1="0" x2="0" y2="1"><stop offset="0.000" stop-color="#ff0000"/><stop offset="0.025" stop-color="#ff1b00"/><stop offset="0.050" stop-color="#ff3500"/><stop offset="0.075" stop-color="#ff5000"/><stop offset="0.100" stop-color="#ff6a00"/><stop offset="0.125" stop-color="#ff8500"/><stop offset="0.150" stop-color="#ff9f00"/><stop offset="0.175" stop-color="#ffba00"/><stop offset="0.200" stop-color="#ffd400"/><stop offset="0.225" stop-color="#ffef00"/><stop offset="0.250" stop-color="#ebff00"/><stop offset="0.275" stop-color="#baff00"/><stop offset="0.300" stop-color="#89ff00"/><stop offset="0.325" stop-color="#58ff00"/><stop offset="0.350" stop-color="#27ff00"/><stop offset="0.375" stop-color="#00ff00"/><stop offset="0.400" stop-color="#00ff00"/><stop offset="0.425" stop-color="#00ff00"/><stop offset="0.450" stop-color="#00ff00"/><stop offset="0.475" stop-color="#00ff00"/><stop offset="0.500" stop-color="#00ff00"/><stop offset="0.525" stop-color="#00ff00"/><stop offset="0.550" stop-color="#00ff00"/><stop offset="0.575" stop-color="#00ff00"/><stop offset="0.600" stop-color="#00ff20"/><stop offset="0.625" stop-color="#00ff48"/><stop offset="0.650" stop-color="#00ff70"/><stop offset="0.675" stop-color="#00ff97"/><stop offset="0.700" stop-color="#00ffbf"/><stop offset="0.725" stop-color="#00ffe7"/><stop offset="0.750" stop-color="#00f4ff"/><stop offset="0.775" stop-color="#00d8ff"/><stop offset="0.800" stop-color="#00bcff"/><stop offset="0.825" stop-color="#00a1ff"/><stop offset="0.850" stop-color="#0085ff"/><stop offset="0.875" stop-color="#0069ff"/><stop offset="0.900" stop-color="#004eff"/><stop offset="0.925" stop-color="#0032ff"/><stop offset="0.950" stop-color="#0016ff"/><stop offset="0.975" stop-color="#0000ff"/><stop offset="1.000" stop-color="#0000ff"/></linearGradient><rect x="498.5" y="169.7" width="18" height="63.7" fill="url(#cb1)" stroke="#111" stroke-width="0.9"/><linearGradient id="cb2" x1="0" y1="0" x2="0" y2="1"><stop offset="0.000" stop-color="#ff0000"/><stop offset="0.025" stop-color="#ff1b00"/><stop offset="0.050" stop-color="#ff3500"/><stop offset="0.075" stop-color="#ff5000"/><stop offset="0.100" stop-color="#ff6a00"/><stop offset="0.125" stop-color="#ff8500"/><stop offset="0.150" stop-color="#ff9f00"/><stop offset="0.175" stop-color="#ffba00"/><stop offset="0.200" stop-color="#ffd400"/><stop offset="0.225" stop-color="#ffef00"/><stop offset="0.250" stop-color="#ebff00"/><stop offset="0.275" stop-color="#baff00"/><stop offset="0.300" stop-color="#89ff00"/><stop offset="0.325" stop-color="#58ff00"/><stop offset="0.350" stop-color="#27ff00"/><stop offset="0.375" stop-color="#00ff00"/><stop offset="0.400" stop-color="#00ff00"/><stop offset="0.425" stop-color="#00ff00"/><stop offset="0.450" stop-color="#00ff00"/><stop offset="0.475" stop-color="#00ff00"/><stop offset="0.500" stop-color="#00ff00"/><stop offset="0.525" stop-color="#00ff00"/><stop offset="0.550" stop-color="#00ff00"/><stop offset="0.575" stop-color="#00ff00"/><stop offset="0.600" stop-color="#00ff20"/><stop offset="0.625" stop-color="#00ff48"/><stop offset="0.650" stop-color="#00ff70"/><stop offset="0.675" stop-color="#00ff97"/><stop offset="0.700" stop-color="#00ffbf"/><stop offset="0.725" stop-color="#00ffe7"/><stop offset="0.750" stop-color="#00f4ff"/><stop offset="0.775" stop-color="#00d8ff"/><stop offset="0.800" stop-color="#00bcff"/><stop offset="0.825" stop-color="#00a1ff"/><stop offset="0.850" stop-color="#0085ff"/><stop offset="0.875" stop-color="#0069ff"/><stop offset="0.900" stop-color="#004eff"/><stop offset="0.925" stop-color="#0032ff"/><stop offset="0.950" stop-color="#0016ff"/><stop offset="0.975" stop-color="#0000ff"/><stop offset="1.000" stop-color="#0000ff"/></linearGradient><rect x="498.5" y="269.8" width="18" height="71.7" fill="url(#cb2)" stroke="#111" stroke-width="0.9"/><g font-size="12.5" fill="#222"><text x="521.5" y="174.8">766</text><text x="521.5" y="204.7">414</text><text x="521.5" y="238.4">4</text><text x="521.5" y="275.9">114</text><text x="521.5" y="288.4">96</text><text x="521.5" y="346">20</text><text x="498.5" y="160" font-size="12.5"><tspan font-style="italic">f</tspan> (<tspan font-style="italic">MHz</tspan>)</text><text x="499" y="260.5" font-size="12.5"><tspan font-style="italic">R</tspan><tspan font-size="8" dy="3">s</tspan><tspan dy="-3"> (</tspan><tspan font-style="italic">nm</tspan>)</text></g><text x="7" y="388.8" font-size="16">(<tspan font-weight="bold" font-size="15">c</tspan>)</text><rect x="48.1" y="388.2" width="127.2" height="126.7" fill="none" stroke="#111" stroke-width="1.4"/><path d="M56.4,514.9v-5M48.1,507h5M84,514.9v-3M48.1,479.3h3M111.7,514.9v-5M48.1,451.7h5M139.3,514.9v-3M48.1,424.1h3M167,514.9v-5M48.1,396.4h5" stroke="#111" stroke-width="1" fill="none"/><g font-size="13.5" fill="#222"><text x="42.8" y="399.4" text-anchor="end">100</text><text x="42.8" y="455.4" text-anchor="end">0</text><text x="42.8" y="510" text-anchor="end">-100</text><text x="55.4" y="529" text-anchor="middle">-100</text><text x="111.7" y="529" text-anchor="middle">0</text><text x="167" y="529" text-anchor="middle">100</text></g><text x="117.7" y="543.2" font-size="15" fill="#222" text-anchor="middle"><tspan font-style="italic">R</tspan><tspan font-size="10" dy="3" font-style="italic">x</tspan><tspan dy="-3"> (</tspan><tspan font-style="italic">nm</tspan>)</text><text transform="translate(22.3,451.7) rotate(-90)" font-size="15" fill="#222" text-anchor="middle"><tspan font-style="italic">R</tspan><tspan font-size="10" dy="3" font-style="italic">y</tspan><tspan dy="-3"> (</tspan><tspan font-style="italic">nm</tspan>)</text><text x="53.1" y="401.2" font-size="11" fill="#222" textLength="119.7" lengthAdjust="spacingAndGlyphs"><tspan font-style="italic">J</tspan>=7×10<tspan font-size="7.5" dy="-4">10</tspan><tspan dy="4"> </tspan><tspan font-style="italic">A</tspan>/<tspan font-style="italic">m</tspan><tspan font-size="7.5" dy="-4">2</tspan><tspan dy="4">  ε=-4000 </tspan><tspan font-style="italic">ppm</tspan></text><text x="61" y="503.2" font-size="13" fill="#222" textLength="105.3" lengthAdjust="spacingAndGlyphs"><tspan font-style="italic">v</tspan><tspan font-size="8.5" dy="3" font-style="italic">t</tspan><tspan dy="-3">=147 </tspan><tspan font-style="italic">m</tspan>/<tspan font-style="italic">s</tspan>  <tspan font-style="italic">R</tspan><tspan font-size="8.5" dy="3">s</tspan><tspan dy="-3">=64 </tspan><tspan font-style="italic">nm</tspan></text><rect x="226.3" y="388.2" width="127" height="126.7" fill="none" stroke="#111" stroke-width="1.4"/><path d="M231.1,514.9v-5M226.3,509.5h5M260.2,514.9v-3M226.3,480.5h3M289.2,514.9v-5M226.3,451.4h5M318.2,514.9v-3M226.3,422.4h3M347.3,514.9v-5M226.3,393.4h5" stroke="#111" stroke-width="1" fill="none"/><g font-size="13.5" fill="#222"><text x="221" y="396.4" text-anchor="end">110</text><text x="221" y="455.1" text-anchor="end">0</text><text x="221" y="512.5" text-anchor="end">-110</text><text x="230.1" y="529" text-anchor="middle">-110</text><text x="289.2" y="529" text-anchor="middle">0</text><text x="347.3" y="529" text-anchor="middle">110</text></g><text x="295.2" y="543.2" font-size="15" fill="#222" text-anchor="middle"><tspan font-style="italic">R</tspan><tspan font-size="10" dy="3" font-style="italic">x</tspan><tspan dy="-3"> (</tspan><tspan font-style="italic">nm</tspan>)</text><text transform="translate(200.5,451.4) rotate(-90)" font-size="15" fill="#222" text-anchor="middle"><tspan font-style="italic">R</tspan><tspan font-size="10" dy="3" font-style="italic">y</tspan><tspan dy="-3"> (</tspan><tspan font-style="italic">nm</tspan>)</text><text x="240.5" y="401.2" font-size="11" fill="#222" textLength="105" lengthAdjust="spacingAndGlyphs"><tspan font-style="italic">J</tspan>=7×10<tspan font-size="7.5" dy="-4">10</tspan><tspan dy="4"> </tspan><tspan font-style="italic">A</tspan>/<tspan font-style="italic">m</tspan><tspan font-size="7.5" dy="-4">2</tspan><tspan dy="4">  ε=0 </tspan><tspan font-style="italic">ppm</tspan></text><text x="238.5" y="503.2" font-size="13" fill="#222" textLength="104.6" lengthAdjust="spacingAndGlyphs"><tspan font-style="italic">v</tspan><tspan font-size="8.5" dy="3" font-style="italic">t</tspan><tspan dy="-3">=104 </tspan><tspan font-style="italic">m</tspan>/<tspan font-style="italic">s</tspan>  <tspan font-style="italic">R</tspan><tspan font-size="8.5" dy="3">s</tspan><tspan dy="-3">=77 </tspan><tspan font-style="italic">nm</tspan></text><rect x="404.5" y="388.2" width="126.8" height="126.7" fill="none" stroke="#111" stroke-width="1.4"/><path d="M408.5,514.9v-5M404.5,510.1h5M437.8,514.9v-3M404.5,480.8h3M467.1,514.9v-5M404.5,451.5h5M496.4,514.9v-3M404.5,422.2h3M525.7,514.9v-5M404.5,392.9h5" stroke="#111" stroke-width="1" fill="none"/><g font-size="13.5" fill="#222"><text x="399.2" y="395.9" text-anchor="end">120</text><text x="399.2" y="455.2" text-anchor="end">0</text><text x="399.2" y="513.1" text-anchor="end">-120</text><text x="407.5" y="529" text-anchor="middle">-120</text><text x="467.1" y="529" text-anchor="middle">0</text><text x="525.7" y="529" text-anchor="middle">120</text></g><text x="473.1" y="543.2" font-size="15" fill="#222" text-anchor="middle"><tspan font-style="italic">R</tspan><tspan font-size="10" dy="3" font-style="italic">x</tspan><tspan dy="-3"> (</tspan><tspan font-style="italic">nm</tspan>)</text><text transform="translate(378.7,451.5) rotate(-90)" font-size="15" fill="#222" text-anchor="middle"><tspan font-style="italic">R</tspan><tspan font-size="10" dy="3" font-style="italic">y</tspan><tspan dy="-3"> (</tspan><tspan font-style="italic">nm</tspan>)</text><text x="407.9" y="401.2" font-size="11" fill="#222" textLength="121.7" lengthAdjust="spacingAndGlyphs"><tspan font-style="italic">J</tspan>=7×10<tspan font-size="7.5" dy="-4">10</tspan><tspan dy="4"> </tspan><tspan font-style="italic">A</tspan>/<tspan font-style="italic">m</tspan><tspan font-size="7.5" dy="-4">2</tspan><tspan dy="4">  ε=4000 </tspan><tspan font-style="italic">ppm</tspan></text><text x="418.2" y="503.2" font-size="13" fill="#222" textLength="99.8" lengthAdjust="spacingAndGlyphs"><tspan font-style="italic">v</tspan><tspan font-size="8.5" dy="3" font-style="italic">t</tspan><tspan dy="-3">=87 </tspan><tspan font-style="italic">m</tspan>/<tspan font-style="italic">s</tspan>  <tspan font-style="italic">R</tspan><tspan font-size="8.5" dy="3">s</tspan><tspan dy="-3">=82 </tspan><tspan font-style="italic">nm</tspan></text><circle cx="111.9" cy="451.2" r="34.2" fill="none" stroke="#1a1aee" stroke-width="3.6"/><g fill="#1a1aee"><circle cx="146.1" cy="451.2" r="2"/><circle cx="145.9" cy="454.6" r="2"/><circle cx="145.4" cy="457.9" r="2"/><circle cx="144.6" cy="461.1" r="2"/><circle cx="143.5" cy="464.3" r="2"/><circle cx="142.1" cy="467.3" r="2"/><circle cx="140.3" cy="470.2" r="2"/><circle cx="138.3" cy="472.9" r="2"/><circle cx="136.1" cy="475.4" r="2"/><circle cx="133.6" cy="477.6" r="2"/><circle cx="130.9" cy="479.6" r="2"/><circle cx="128" cy="481.4" r="2"/><circle cx="125" cy="482.8" r="2"/><circle cx="121.8" cy="483.9" r="2"/><circle cx="118.6" cy="484.7" r="2"/><circle cx="115.3" cy="485.2" r="2"/><circle cx="111.9" cy="485.4" r="2"/><circle cx="108.5" cy="485.2" r="2"/><circle cx="105.2" cy="484.7" r="2"/><circle cx="102" cy="483.9" r="2"/><circle cx="98.8" cy="482.8" r="2"/><circle cx="95.8" cy="481.4" r="2"/><circle cx="92.9" cy="479.6" r="2"/><circle cx="90.2" cy="477.6" r="2"/><circle cx="87.7" cy="475.4" r="2"/><circle cx="85.5" cy="472.9" r="2"/><circle cx="83.5" cy="470.2" r="2"/><circle cx="81.7" cy="467.3" r="2"/><circle cx="80.3" cy="464.3" r="2"/><circle cx="79.2" cy="461.1" r="2"/><circle cx="78.4" cy="457.9" r="2"/><circle cx="77.9" cy="454.6" r="2"/><circle cx="77.7" cy="451.2" r="2"/><circle cx="77.9" cy="447.8" r="2"/><circle cx="78.4" cy="444.5" r="2"/><circle cx="79.2" cy="441.3" r="2"/><circle cx="80.3" cy="438.1" r="2"/><circle cx="81.7" cy="435.1" r="2"/><circle cx="83.5" cy="432.2" r="2"/><circle cx="85.5" cy="429.5" r="2"/><circle cx="87.7" cy="427" r="2"/><circle cx="90.2" cy="424.8" r="2"/><circle cx="92.9" cy="422.8" r="2"/><circle cx="95.8" cy="421" r="2"/><circle cx="98.8" cy="419.6" r="2"/><circle cx="102" cy="418.5" r="2"/><circle cx="105.2" cy="417.7" r="2"/><circle cx="108.5" cy="417.2" r="2"/><circle cx="111.9" cy="417" r="2"/><circle cx="115.3" cy="417.2" r="2"/><circle cx="118.6" cy="417.7" r="2"/><circle cx="121.8" cy="418.5" r="2"/><circle cx="125" cy="419.6" r="2"/><circle cx="128" cy="421" r="2"/><circle cx="130.9" cy="422.8" r="2"/><circle cx="133.6" cy="424.8" r="2"/><circle cx="136.1" cy="427" r="2"/><circle cx="138.3" cy="429.5" r="2"/><circle cx="140.3" cy="432.2" r="2"/><circle cx="142.1" cy="435.1" r="2"/><circle cx="143.5" cy="438.1" r="2"/><circle cx="144.6" cy="441.3" r="2"/><circle cx="145.4" cy="444.5" r="2"/><circle cx="145.9" cy="447.8" r="2"/></g><circle cx="111.9" cy="451.2" r="31.2" fill="none" stroke="#9a1888" stroke-width="2.3"/><circle cx="111.9" cy="451.2" r="31.2" fill="none" stroke="#ffffff" stroke-width="0.7" stroke-dasharray="2,2"/><circle cx="111.9" cy="451.2" r="27.6" fill="none" stroke="#c0105c" stroke-width="1.8" stroke-dasharray="1.8,0.9"/><g fill="none" stroke-width="2.2" stroke-linecap="round" stroke-linejoin="round" stroke-dasharray="1.9,0.6"><polyline points="110.4,428.6 111.4,428.6 112.4,428.6 113.4,428.6 114.4,428.6 115.5,428.7 116.5,428.8" stroke="#e70e32"/><polyline points="116.5,428.8 117.5,429 118.5,429.2 119.5,429.4 120.5,429.7 121.5,430 122.5,430.4" stroke="#e60e34"/><polyline points="122.5,430.4 123.4,430.8 124.4,431.3 125.3,431.8 126.2,432.4 127,433 127.8,433.7" stroke="#e50e34"/><polyline points="127.8,433.7 128.6,434.5 129.4,435.2 130.1,436 130.8,436.8 131.4,437.6 132.1,438.5" stroke="#e40e36"/><polyline points="132.1,438.5 132.7,439.4 133.3,440.3 133.8,441.2 134.3,442.2 134.8,443.2 135.2,444.2" stroke="#e30e36"/><polyline points="135.2,444.2 135.5,445.2 135.9,446.2 136.1,447.3 136.4,448.4 136.5,449.5 136.6,450.6" stroke="#e20e38"/><polyline points="136.6,450.6 136.6,451.7 136.6,452.8 136.5,453.9 136.4,455 136.2,456.1 136,457.2" stroke="#e10e38"/><polyline points="136,457.2 135.7,458.3 135.3,459.3 134.9,460.4 134.4,461.4 134,462.4 133.4,463.3" stroke="#e00e3a"/><polyline points="133.4,463.3 132.7,464.2 132,465 131.2,465.8 130.4,466.6 129.6,467.3 128.8,468" stroke="#df0d3a"/><polyline points="128.8,468 127.9,468.6 127,469.2 126.1,469.7 125.2,470.2 124.2,470.6 123.3,471" stroke="#de0d3c"/><polyline points="123.3,471 122.3,471.4 121.3,471.8 120.4,472.1 119.4,472.3 118.4,472.6 117.4,472.7" stroke="#dd0d3c"/><polyline points="117.4,472.7 116.4,472.9 115.4,473 114.4,473 113.5,473.1 112.5,473.1 111.5,473.2" stroke="#dc0d3e"/><polyline points="111.5,473.2 110.5,473.2 109.5,473.1 108.5,473 107.6,472.9 106.6,472.7 105.6,472.5" stroke="#db0d3e"/><polyline points="105.6,472.5 104.6,472.3 103.7,472 102.7,471.7 101.7,471.4 100.8,471 99.9,470.6" stroke="#da0d40"/><polyline points="99.9,470.6 98.9,470.1 98,469.6 97.1,469.1 96.2,468.5 95.4,467.9 94.5,467.3" stroke="#d90d40"/><polyline points="94.5,467.3 93.7,466.6 92.9,465.8 92.1,465.1 91.4,464.2 90.7,463.4 90.1,462.5" stroke="#d70d42"/><polyline points="90.1,462.5 89.5,461.5 88.9,460.6 88.4,459.6 88,458.5 87.6,457.5 87.3,456.4" stroke="#d60d42"/><polyline points="87.3,456.4 87,455.3 86.7,454.2 86.6,453.1 86.4,451.9 86.3,450.8 86.3,449.6" stroke="#d50d44"/><polyline points="86.3,449.6 86.3,448.5 86.4,447.3 86.5,446.2 86.7,445 87,443.9 87.3,442.8" stroke="#d40d44"/><polyline points="87.3,442.8 87.6,441.7 88,440.6 88.5,439.5 89,438.4 89.6,437.4 90.2,436.4" stroke="#d30d46"/><polyline points="90.2,436.4 90.8,435.4 91.5,434.4 92.2,433.5 93,432.6 93.8,431.8 94.7,430.9" stroke="#d20d46"/><polyline points="94.7,430.9 95.6,430.1 96.5,429.4 97.5,428.7 98.5,428 99.5,427.4 100.6,426.9" stroke="#d10d48"/><polyline points="100.6,426.9 101.7,426.4 102.8,425.9 103.9,425.5 105.1,425.1 106.3,424.8 107.5,424.6" stroke="#d00c48"/><polyline points="107.5,424.6 108.6,424.4 109.8,424.2 111.1,424.1 112.3,424.1 113.5,424.1 114.7,424.2" stroke="#cf0c4a"/><polyline points="114.7,424.2 115.9,424.3 117.1,424.5 118.3,424.7 119.5,425 120.7,425.3 121.8,425.8" stroke="#ce0c4a"/><polyline points="121.8,425.8 123,426.2 124.1,426.7 125.2,427.3 126.2,427.9 127.3,428.6 128.3,429.3" stroke="#cd0c4c"/><polyline points="128.3,429.3 129.2,430 130.2,430.8 131.1,431.6 131.9,432.5 132.8,433.4 133.6,434.4" stroke="#cc0c4c"/><polyline points="133.6,434.4 134.3,435.4 135,436.4 135.6,437.4 136.2,438.5 136.8,439.6 137.3,440.7" stroke="#cb0c4e"/><polyline points="137.3,440.7 137.8,441.9 138.2,443 138.5,444.2 138.8,445.4 139,446.6 139.2,447.8" stroke="#ca0c4e"/><polyline points="139.2,447.8 139.4,449.1 139.4,450.3 139.5,451.5 139.4,452.8 139.3,454 139.2,455.2" stroke="#c90c50"/></g><polyline points="94.3,456.4 93.8,455.7 93.4,454.9 93.1,454.1 92.7,453.3 92.4,452.5 92.2,451.6 91.9,450.7 91.8,449.8 91.6,448.9 91.6,447.9 91.5,447 91.5,446 91.6,445.1 91.7,444.1 91.9,443.1 92.1,442.2 92.3,441.2 92.6,440.2 92.9,439.3 93.3,438.3 93.8,437.4 94.4,436.6 95.1,435.8 95.8,435.1 96.5,434.4 97.3,433.7 98.1,433 98.9,432.5 99.8,431.9 100.7,431.4 101.6,430.9 102.5,430.5 103.5,430.1 104.4,429.8 105.4,429.5 106.4,429.2 107.4,429 108.4,428.8 109.4,428.7 110.4,428.6 111.4,428.6" fill="none" stroke="#ea1030" stroke-width="2.6" stroke-linecap="round" stroke-linejoin="round"/><polyline points="115.2,440.5 114.5,440.2 113.7,439.9 112.9,439.8 112,439.6 111.2,439.5 110.3,439.5 109.5,439.6 108.6,439.7 107.8,439.8 106.9,440.1 106.1,440.4 105.2,440.6 104.4,441 103.5,441.4 102.7,441.9 101.8,442.4 101,443 100.2,443.6 99.3,444.3 98.5,445.1 97.8,445.9 97.1,446.8 96.5,447.8 95.9,448.9 95.4,450 95,451.2 94.7,452.5 94.5,453.8 94.3,455.1 94.3,456.4" fill="none" stroke="#ee1030" stroke-width="2.2" stroke-linecap="round"/><circle cx="111.9" cy="449.9" r="10" fill="none" stroke="#f01030" stroke-width="1.5" stroke-dasharray="1.6,1.1"/><g fill="#f01030"><circle cx="121.9" cy="449.9" r="1"/><circle cx="121.5" cy="452.7" r="1"/><circle cx="120.3" cy="455.3" r="1"/><circle cx="118.4" cy="457.5" r="1"/><circle cx="116.1" cy="459" r="1"/><circle cx="113.3" cy="459.8" r="1"/><circle cx="110.5" cy="459.8" r="1"/><circle cx="107.7" cy="459" r="1"/><circle cx="105.4" cy="457.5" r="1"/><circle cx="103.5" cy="455.3" r="1"/><circle cx="102.3" cy="452.7" r="1"/><circle cx="101.9" cy="449.9" r="1"/><circle cx="102.3" cy="447.1" r="1"/><circle cx="103.5" cy="444.5" r="1"/><circle cx="105.4" cy="442.3" r="1"/><circle cx="107.7" cy="440.8" r="1"/><circle cx="110.5" cy="440" r="1"/><circle cx="113.3" cy="440" r="1"/><circle cx="116.1" cy="440.8" r="1"/><circle cx="118.4" cy="442.3" r="1"/><circle cx="120.3" cy="444.5" r="1"/><circle cx="121.5" cy="447.1" r="1"/></g><polyline points="116.8,450.4 116.6,450.9 115.9,451.2 115.2,451.4 114.5,451.5 114.1,451.7 114.1,452 114.4,452.5 114.8,453.2 115,454 114.9,454.5 114.4,454.7 113.8,454.6 113.1,454.1 112.6,453.6 112.2,453.3 111.9,453.4 111.7,453.9 111.4,454.6 111,455.3 110.5,455.6 110,455.6 109.7,455.1 109.6,454.3 109.6,453.5 109.6,452.9 109.5,452.7 109,452.8 108.3,453 107.5,453.1 106.9,453 106.5,452.7 106.6,452.2 107,451.6 107.7,451.1 108.2,450.7 108.4,450.4 108.2,450.1 107.7,449.7 107,449.2 106.6,448.6 106.5,448.1 106.9,447.8 107.5,447.7 108.3,447.8 109,448 109.5,448.1 109.6,447.9 109.6,447.3 109.6,446.5 109.7,445.7 110,445.2 110.5,445.2 111,445.5 111.4,446.2 111.7,446.9 111.9,447.4 112.2,447.5 112.6,447.2 113.1,446.7 113.8,446.2 114.4,446.1 114.9,446.3 115,446.8 114.8,447.6 114.4,448.3 114.1,448.8 114.1,449.1 114.5,449.3 115.2,449.4 115.9,449.6 116.6,449.9 116.8,450.4" fill="none" stroke="#f01030" stroke-width="1.6"/><circle cx="111.4" cy="450.4" r="2" fill="#f01030"/><circle cx="289.2" cy="451" r="39.1" fill="none" stroke="#1a1aee" stroke-width="4.2"/><g fill="#1a1aee"><circle cx="328.3" cy="451" r="2.2"/><circle cx="328.1" cy="454.5" r="2.2"/><circle cx="327.7" cy="458" r="2.2"/><circle cx="326.9" cy="461.4" r="2.2"/><circle cx="325.8" cy="464.7" r="2.2"/><circle cx="324.4" cy="468" r="2.2"/><circle cx="322.8" cy="471.1" r="2.2"/><circle cx="320.8" cy="474" r="2.2"/><circle cx="318.6" cy="476.7" r="2.2"/><circle cx="316.2" cy="479.3" r="2.2"/><circle cx="313.6" cy="481.6" r="2.2"/><circle cx="310.7" cy="483.6" r="2.2"/><circle cx="307.7" cy="485.4" r="2.2"/><circle cx="304.6" cy="487" r="2.2"/><circle cx="301.3" cy="488.2" r="2.2"/><circle cx="297.9" cy="489.1" r="2.2"/><circle cx="294.4" cy="489.7" r="2.2"/><circle cx="291" cy="490.1" r="2.2"/><circle cx="287.4" cy="490.1" r="2.2"/><circle cx="284" cy="489.7" r="2.2"/><circle cx="280.5" cy="489.1" r="2.2"/><circle cx="277.1" cy="488.2" r="2.2"/><circle cx="273.8" cy="487" r="2.2"/><circle cx="270.7" cy="485.4" r="2.2"/><circle cx="267.7" cy="483.6" r="2.2"/><circle cx="264.8" cy="481.6" r="2.2"/><circle cx="262.2" cy="479.3" r="2.2"/><circle cx="259.8" cy="476.7" r="2.2"/><circle cx="257.6" cy="474" r="2.2"/><circle cx="255.6" cy="471.1" r="2.2"/><circle cx="254" cy="468" r="2.2"/><circle cx="252.6" cy="464.7" r="2.2"/><circle cx="251.5" cy="461.4" r="2.2"/><circle cx="250.7" cy="458" r="2.2"/><circle cx="250.3" cy="454.5" r="2.2"/><circle cx="250.1" cy="451" r="2.2"/><circle cx="250.3" cy="447.5" r="2.2"/><circle cx="250.7" cy="444" r="2.2"/><circle cx="251.5" cy="440.6" r="2.2"/><circle cx="252.6" cy="437.3" r="2.2"/><circle cx="254" cy="434" r="2.2"/><circle cx="255.6" cy="430.9" r="2.2"/><circle cx="257.6" cy="428" r="2.2"/><circle cx="259.8" cy="425.3" r="2.2"/><circle cx="262.2" cy="422.7" r="2.2"/><circle cx="264.8" cy="420.4" r="2.2"/><circle cx="267.7" cy="418.4" r="2.2"/><circle cx="270.7" cy="416.6" r="2.2"/><circle cx="273.8" cy="415" r="2.2"/><circle cx="277.1" cy="413.8" r="2.2"/><circle cx="280.5" cy="412.9" r="2.2"/><circle cx="284" cy="412.3" r="2.2"/><circle cx="287.4" cy="411.9" r="2.2"/><circle cx="291" cy="411.9" r="2.2"/><circle cx="294.4" cy="412.3" r="2.2"/><circle cx="297.9" cy="412.9" r="2.2"/><circle cx="301.3" cy="413.8" r="2.2"/><circle cx="304.6" cy="415" r="2.2"/><circle cx="307.7" cy="416.6" r="2.2"/><circle cx="310.7" cy="418.4" r="2.2"/><circle cx="313.6" cy="420.4" r="2.2"/><circle cx="316.2" cy="422.7" r="2.2"/><circle cx="318.6" cy="425.3" r="2.2"/><circle cx="320.8" cy="428" r="2.2"/><circle cx="322.8" cy="430.9" r="2.2"/><circle cx="324.4" cy="434" r="2.2"/><circle cx="325.8" cy="437.3" r="2.2"/><circle cx="326.9" cy="440.6" r="2.2"/><circle cx="327.7" cy="444" r="2.2"/><circle cx="328.1" cy="447.5" r="2.2"/></g><circle cx="289.2" cy="451" r="36" fill="none" stroke="#8420a8" stroke-width="2.3" stroke-dasharray="2,1"/><circle cx="289.2" cy="451" r="36" fill="none" stroke="#ffffff" stroke-width="0.6" stroke-dasharray="2,2.2"/><g fill="none" stroke-width="2.6" stroke-linecap="round" stroke-linejoin="round" stroke-dasharray="2.2,0.6"><polyline points="289.2,451 288.9,450.8 288.6,450.5 288.4,450.2 288.2,449.9 288,449.6 287.8,449.3" stroke="#d6003d"/><polyline points="287.8,449.3 287.7,448.9 287.6,448.6 287.5,448.2 287.4,447.9 287.4,447.5 287.4,447.1" stroke="#d5013f"/><polyline points="287.4,447.1 287.4,446.7 287.5,446.4 287.5,446 287.6,445.6 287.8,445.2 287.9,444.9" stroke="#d30141"/><polyline points="287.9,444.9 288.1,444.5 288.3,444.2 288.6,443.8 288.8,443.5 289.1,443.2 289.4,442.9" stroke="#d10243"/><polyline points="289.4,442.9 289.7,442.6 290.1,442.4 290.5,442.1 290.9,441.9 291.3,441.7 291.7,441.5" stroke="#d00345"/><polyline points="291.7,441.5 292.2,441.3 292.6,441.2 293.1,441.1 293.6,441 294.1,440.9 294.6,440.9" stroke="#ce0347"/><polyline points="294.6,440.9 295.1,440.9 295.6,440.9 296.2,440.9 296.7,441 297.3,441.1 297.8,441.2" stroke="#cd0449"/><polyline points="297.8,441.2 298.3,441.4 298.9,441.6 299.4,441.8 300,442 300.5,442.3 301,442.6" stroke="#cb044b"/><polyline points="301,442.6 301.5,442.9 302,443.3 302.5,443.7 303,444.1 303.4,444.6 303.9,445" stroke="#c9054d"/><polyline points="303.9,445 304.3,445.5 304.7,446 305.1,446.6 305.5,447.2 305.8,447.7 306.1,448.4" stroke="#c8054f"/><polyline points="306.1,448.4 306.4,449 306.7,449.6 307,450.3 307.2,451 307.4,451.7 307.5,452.4" stroke="#c60651"/><polyline points="307.5,452.4 307.6,453.1 307.7,453.9 307.8,454.6 307.8,455.4 307.8,456.2 307.8,456.9" stroke="#c50653"/><polyline points="307.8,456.9 307.7,457.7 307.6,458.5 307.5,459.3 307.3,460 307.1,460.8 306.9,461.6" stroke="#c30755"/><polyline points="306.9,461.6 306.6,462.4 306.3,463.1 305.9,463.9 305.6,464.6 305.1,465.4 304.7,466.1" stroke="#c10857"/><polyline points="304.7,466.1 304.2,466.8 303.7,467.5 303.2,468.2 302.6,468.8 302,469.4 301.3,470" stroke="#c00859"/><polyline points="301.3,470 300.7,470.6 300,471.2 299.3,471.7 298.5,472.2 297.7,472.7 296.9,473.2" stroke="#be095b"/><polyline points="296.9,473.2 296.1,473.6 295.3,474 294.4,474.3 293.5,474.7 292.6,475 291.7,475.2" stroke="#bd095d"/><polyline points="291.7,475.2 290.8,475.4 289.9,475.6 288.9,475.8 287.9,475.9 287,475.9 286,475.9" stroke="#bb0a5f"/><polyline points="286,475.9 285,475.9 284,475.9 283,475.8 282.1,475.6 281.1,475.5 280.1,475.3" stroke="#b90a61"/><polyline points="280.1,475.3 279.1,475 278.1,474.7 277.2,474.4 276.2,474 275.3,473.6 274.4,473.1" stroke="#b80b63"/><polyline points="274.4,473.1 273.5,472.6 272.6,472.1 271.7,471.5 270.8,470.9 270,470.3 269.2,469.6" stroke="#b60b65"/><polyline points="269.2,469.6 268.4,468.9 267.7,468.1 266.9,467.3 266.2,466.5 265.6,465.7 264.9,464.8" stroke="#b50c67"/><polyline points="264.9,464.8 264.3,463.9 263.7,463 263.2,462 262.7,461 262.2,460 261.8,459" stroke="#b30d69"/><polyline points="261.8,459 261.4,458 261.1,456.9 260.8,455.9 260.5,454.8 260.3,453.7 260.1,452.6" stroke="#b10d6b"/><polyline points="260.1,452.6 260,451.4 259.9,450.3 259.9,449.2 259.9,448 260,446.9 260,445.7" stroke="#b00e6d"/><polyline points="260,445.7 260.2,444.6 260.4,443.5 260.6,442.3 260.9,441.2 261.2,440.1 261.6,439" stroke="#ae0e6f"/><polyline points="261.6,439 262,437.9 262.4,436.8 262.9,435.8 263.5,434.7 264.1,433.7 264.7,432.7" stroke="#ad0f71"/><polyline points="264.7,432.7 265.4,431.7 266.1,430.8 266.8,429.8 267.6,428.9 268.4,428.1 269.3,427.2" stroke="#ab0f73"/><polyline points="269.3,427.2 270.2,426.4 271.1,425.6 272,424.9 273,424.2 274,423.5 275.1,422.9" stroke="#a91075"/><polyline points="275.1,422.9 276.1,422.3 277.2,421.8 278.3,421.3 279.5,420.8 280.6,420.4 281.8,420" stroke="#a81177"/><polyline points="281.8,420 283,419.7 284.2,419.4 285.4,419.2 286.6,419 287.9,418.9 289.1,418.8" stroke="#a61179"/><polyline points="289.1,418.8 290.4,418.7 291.6,418.7 292.9,418.8 294.1,418.9 295.4,419.1 296.6,419.3" stroke="#a5127b"/><polyline points="296.6,419.3 297.8,419.5 299.1,419.8 300.3,420.2 301.5,420.6 302.7,421 303.8,421.5" stroke="#a3127d"/><polyline points="303.8,421.5 305,422.1 306.1,422.6 307.2,423.3 308.3,424 309.4,424.7 310.4,425.4" stroke="#a1137f"/><polyline points="310.4,425.4 311.4,426.2 312.4,427.1 313.3,427.9 314.2,428.9 315.1,429.8 315.9,430.8" stroke="#a01381"/><polyline points="315.9,430.8 316.7,431.8 317.5,432.9 318.2,434 318.9,435.1 319.5,436.2 320.1,437.4" stroke="#9e1483"/><polyline points="320.1,437.4 320.7,438.6 321.2,439.8 321.6,441 322,442.2 322.4,443.5 322.7,444.8" stroke="#9d1485"/><polyline points="322.7,444.8 322.9,446.1 323.1,447.4 323.3,448.7 323.4,450 323.4,451.3 323.5,452.6" stroke="#9b1587"/><polyline points="323.5,452.6 323.4,454 323.3,455.3 323.1,456.6 322.9,457.9 322.7,459.2 322.4,460.5" stroke="#991689"/><polyline points="322.4,460.5 322,461.8 321.6,463.1 321.2,464.3 320.7,465.6 320.1,466.8 319.5,468" stroke="#98168b"/><polyline points="319.5,468 318.9,469.2 318.2,470.3 317.4,471.4 316.6,472.5 315.8,473.6 314.9,474.6" stroke="#96178d"/><polyline points="314.9,474.6 314,475.6 313.1,476.6 312.1,477.5 311.1,478.4 310,479.3 308.9,480.1" stroke="#95178f"/><polyline points="308.9,480.1 307.8,480.8 306.7,481.6 305.5,482.2 304.3,482.9 303.1,483.5 301.8,484" stroke="#931891"/><polyline points="301.8,484 300.5,484.5 299.2,484.9 297.9,485.3 296.6,485.7 295.3,485.9 293.9,486.2" stroke="#911893"/><polyline points="293.9,486.2 292.6,486.4 291.2,486.5 289.8,486.6 288.4,486.6 287.1,486.6 285.7,486.5" stroke="#901995"/><polyline points="285.7,486.5 284.3,486.3 283,486.2 281.6,485.9 280.3,485.6 278.9,485.3 277.6,484.9" stroke="#8e1997"/><polyline points="277.6,484.9 276.3,484.4 275,483.9 273.7,483.4 272.5,482.8 271.3,482.1 270.1,481.4" stroke="#8d1a99"/><polyline points="270.1,481.4 268.9,480.7 267.7,479.9 266.6,479.1 265.5,478.2 264.5,477.3 263.5,476.3" stroke="#8b1b9b"/><polyline points="263.5,476.3 262.5,475.3 261.6,474.3 260.7,473.2 259.8,472.1 259,471 258.2,469.8" stroke="#891b9d"/><polyline points="258.2,469.8 257.5,468.6 256.9,467.4 256.2,466.1 255.6,464.8 255.1,463.5 254.6,462.2" stroke="#881c9f"/></g><circle cx="467.1" cy="451.2" r="38.7" fill="none" stroke="#1a1aee" stroke-width="5.2"/><g fill="#1a1aee"><circle cx="505.8" cy="451.2" r="2.6"/><circle cx="505.6" cy="454.7" r="2.6"/><circle cx="505.2" cy="458.1" r="2.6"/><circle cx="504.4" cy="461.5" r="2.6"/><circle cx="503.3" cy="464.8" r="2.6"/><circle cx="502" cy="468" r="2.6"/><circle cx="500.3" cy="471" r="2.6"/><circle cx="498.4" cy="473.9" r="2.6"/><circle cx="496.2" cy="476.7" r="2.6"/><circle cx="493.8" cy="479.2" r="2.6"/><circle cx="491.2" cy="481.5" r="2.6"/><circle cx="488.4" cy="483.5" r="2.6"/><circle cx="485.4" cy="485.3" r="2.6"/><circle cx="482.3" cy="486.8" r="2.6"/><circle cx="479.1" cy="488" r="2.6"/><circle cx="475.7" cy="488.9" r="2.6"/><circle cx="472.3" cy="489.5" r="2.6"/><circle cx="468.8" cy="489.9" r="2.6"/><circle cx="465.4" cy="489.9" r="2.6"/><circle cx="461.9" cy="489.5" r="2.6"/><circle cx="458.5" cy="488.9" r="2.6"/><circle cx="455.1" cy="488" r="2.6"/><circle cx="451.9" cy="486.8" r="2.6"/><circle cx="448.8" cy="485.3" r="2.6"/><circle cx="445.8" cy="483.5" r="2.6"/><circle cx="443" cy="481.5" r="2.6"/><circle cx="440.4" cy="479.2" r="2.6"/><circle cx="438" cy="476.7" r="2.6"/><circle cx="435.8" cy="473.9" r="2.6"/><circle cx="433.9" cy="471" r="2.6"/><circle cx="432.2" cy="468" r="2.6"/><circle cx="430.9" cy="464.8" r="2.6"/><circle cx="429.8" cy="461.5" r="2.6"/><circle cx="429" cy="458.1" r="2.6"/><circle cx="428.6" cy="454.7" r="2.6"/><circle cx="428.4" cy="451.2" r="2.6"/><circle cx="428.6" cy="447.7" r="2.6"/><circle cx="429" cy="444.3" r="2.6"/><circle cx="429.8" cy="440.9" r="2.6"/><circle cx="430.9" cy="437.6" r="2.6"/><circle cx="432.2" cy="434.4" r="2.6"/><circle cx="433.9" cy="431.4" r="2.6"/><circle cx="435.8" cy="428.5" r="2.6"/><circle cx="438" cy="425.7" r="2.6"/><circle cx="440.4" cy="423.2" r="2.6"/><circle cx="443" cy="420.9" r="2.6"/><circle cx="445.8" cy="418.9" r="2.6"/><circle cx="448.8" cy="417.1" r="2.6"/><circle cx="451.9" cy="415.6" r="2.6"/><circle cx="455.1" cy="414.4" r="2.6"/><circle cx="458.5" cy="413.5" r="2.6"/><circle cx="461.9" cy="412.9" r="2.6"/><circle cx="465.4" cy="412.5" r="2.6"/><circle cx="468.8" cy="412.5" r="2.6"/><circle cx="472.3" cy="412.9" r="2.6"/><circle cx="475.7" cy="413.5" r="2.6"/><circle cx="479.1" cy="414.4" r="2.6"/><circle cx="482.3" cy="415.6" r="2.6"/><circle cx="485.4" cy="417.1" r="2.6"/><circle cx="488.4" cy="418.9" r="2.6"/><circle cx="491.2" cy="420.9" r="2.6"/><circle cx="493.8" cy="423.2" r="2.6"/><circle cx="496.2" cy="425.7" r="2.6"/><circle cx="498.4" cy="428.5" r="2.6"/><circle cx="500.3" cy="431.4" r="2.6"/><circle cx="502" cy="434.4" r="2.6"/><circle cx="503.3" cy="437.6" r="2.6"/><circle cx="504.4" cy="440.9" r="2.6"/><circle cx="505.2" cy="444.3" r="2.6"/><circle cx="505.6" cy="447.7" r="2.6"/></g><circle cx="467.1" cy="451.2" r="35.6" fill="none" stroke="#ffffff" stroke-width="1" stroke-dasharray="2.5,1.5"/><circle cx="467.1" cy="451.2" r="33.8" fill="none" stroke="#5a22c0" stroke-width="2.2" stroke-dasharray="1.8,0.9"/><g fill="none" stroke-width="2.2" stroke-linecap="round" stroke-linejoin="round" stroke-dasharray="1.8,0.8"><polyline points="458,456.4 457.7,456 457.4,455.6 457.1,455.2 456.8,454.8 456.5,454.3 456.3,453.8" stroke="#9f148c"/><polyline points="456.3,453.8 456.1,453.4 455.9,452.9 455.7,452.3 455.6,451.8 455.5,451.3 455.4,450.7" stroke="#9e148d"/><polyline points="455.4,450.7 455.3,450.2 455.3,449.6 455.3,449.1 455.2,448.5 455.1,447.9 455.1,447.2" stroke="#9d158e"/><polyline points="455.1,447.2 455.1,446.6 455.1,446 455.1,445.3 455.2,444.6 455.3,444 455.5,443.3" stroke="#9b158f"/><polyline points="455.5,443.3 455.7,442.6 455.9,441.9 456.2,441.3 456.4,440.6 456.8,439.9 457.1,439.2" stroke="#9a1590"/><polyline points="457.1,439.2 457.5,438.5 457.9,437.9 458.4,437.2 458.9,436.6 459.5,436 460.1,435.4" stroke="#981591"/><polyline points="460.1,435.4 460.7,434.8 461.5,434.3 462.2,433.9 463,433.5 463.8,433.2 464.6,432.9" stroke="#971692"/><polyline points="464.6,432.9 465.4,432.6 466.3,432.3 467.1,432.1 468,432 469,431.9 469.9,431.8" stroke="#961693"/><polyline points="469.9,431.8 470.8,431.7 471.8,431.8 472.7,431.8 473.7,431.9 474.6,432.1 475.6,432.3" stroke="#941694"/><polyline points="475.6,432.3 476.5,432.5 477.5,432.8 478.5,433.1 479.4,433.5 480.4,433.9 481.3,434.4" stroke="#931695"/><polyline points="481.3,434.4 482.2,434.9 483.1,435.5 484,436.1 484.8,436.7 485.6,437.5 486.4,438.2" stroke="#911696"/><polyline points="486.4,438.2 487.1,439 487.9,439.9 488.5,440.8 489.2,441.7 489.8,442.7 490.3,443.7" stroke="#901797"/><polyline points="490.3,443.7 490.8,444.7 491.3,445.8 491.7,446.9 492,448 492.3,449.2 492.5,450.3" stroke="#8f1798"/><polyline points="492.5,450.3 492.7,451.5 492.9,452.7 492.9,453.9 492.9,455.2 492.9,456.4 492.8,457.6" stroke="#8d1798"/><polyline points="492.8,457.6 492.6,458.9 492.4,460.1 492.1,461.3 491.7,462.5 491.3,463.7 490.8,464.9" stroke="#8c1799"/><polyline points="490.8,464.9 490.3,466.1 489.7,467.3 489.1,468.4 488.3,469.4 487.4,470.4 486.5,471.3" stroke="#8b189a"/><polyline points="486.5,471.3 485.6,472.3 484.6,473.1 483.6,473.9 482.5,474.7 481.4,475.4 480.3,476" stroke="#89189b"/><polyline points="480.3,476 479.1,476.6 478,477.2 476.7,477.7 475.5,478.1 474.2,478.5 473,478.8" stroke="#88189c"/><polyline points="473,478.8 471.7,479.1 470.4,479.3 469.1,479.4 467.8,479.5 466.5,479.5 465.1,479.4" stroke="#86189d"/><polyline points="465.1,479.4 463.8,479.4 462.5,479.3 461.2,479.1 459.9,478.9 458.6,478.6 457.3,478.2" stroke="#85189e"/><polyline points="457.3,478.2 456,477.8 454.8,477.3 453.5,476.8 452.3,476.2 451.1,475.5 450,474.8" stroke="#84199f"/><polyline points="450,474.8 448.9,474 447.8,473.2 446.8,472.3 445.7,471.4 444.8,470.4 443.9,469.4" stroke="#8219a0"/><polyline points="443.9,469.4 443,468.3 442.2,467.2 441.4,466.1 440.8,464.9 440.1,463.6 439.5,462.4" stroke="#8119a1"/><polyline points="439.5,462.4 439,461.1 438.6,459.8 438.2,458.5 437.8,457.1 437.6,455.8 437.3,454.4" stroke="#7f19a2"/><polyline points="437.3,454.4 437.2,453 437.1,451.6 437.1,450.2 437.1,448.8 437.3,447.4 437.4,446" stroke="#7e1aa3"/><polyline points="437.4,446 437.7,444.6 438,443.3 438.3,441.9 438.7,440.6 439.2,439.2 439.7,437.9" stroke="#7d1aa4"/><polyline points="439.7,437.9 440.3,436.6 441,435.4 441.7,434.1 442.5,433 443.3,431.8 444.2,430.7" stroke="#7b1aa4"/><polyline points="444.2,430.7 445.1,429.6 446.1,428.5 447.1,427.5 448.2,426.5 449.3,425.6 450.5,424.7" stroke="#7a1aa5"/><polyline points="450.5,424.7 451.7,423.9 452.9,423.2 454.2,422.5 455.5,421.8 456.9,421.2 458.3,420.7" stroke="#791ba6"/><polyline points="458.3,420.7 459.7,420.3 461.1,419.9 462.6,419.6 464,419.3 465.5,419.1 467,419" stroke="#771ba7"/><polyline points="467,419 468.5,419 470,419 471.5,419.1 473,419.3 474.5,419.6 476,419.9" stroke="#761ba8"/><polyline points="476,419.9 477.4,420.3 478.9,420.8 480.3,421.3 481.7,421.9 483,422.6 484.4,423.3" stroke="#741ba9"/><polyline points="484.4,423.3 485.7,424.1 486.9,425 488.2,425.9 489.3,426.9 490.5,427.9 491.6,429" stroke="#731caa"/><polyline points="491.6,429 492.6,430.1 493.6,431.3 494.5,432.5 495.4,433.8 496.2,435.1 496.9,436.5" stroke="#721cab"/><polyline points="496.9,436.5 497.6,437.9 498.2,439.3 498.7,440.8 499.2,442.2 499.6,443.7 499.9,445.3" stroke="#701cac"/><polyline points="499.9,445.3 500.2,446.8 500.4,448.3 500.5,449.9 500.5,451.4 500.5,453 500.4,454.5" stroke="#6f1cad"/><polyline points="500.4,454.5 500.2,456.1 500,457.6 499.7,459.2 499.3,460.7 498.8,462.2 498.3,463.6" stroke="#6d1cae"/><polyline points="498.3,463.6 497.7,465.1 497.1,466.5 496.3,467.9 495.5,469.2 494.7,470.5 493.8,471.8" stroke="#6c1daf"/><polyline points="493.8,471.8 492.8,473 491.7,474.2 490.7,475.3 489.5,476.4 488.3,477.4 487.1,478.4" stroke="#6b1db0"/><polyline points="487.1,478.4 485.8,479.3 484.5,480.1 483.1,480.9 481.7,481.6 480.3,482.3 478.8,482.9" stroke="#691db0"/><polyline points="478.8,482.9 477.4,483.4 475.8,483.8 474.3,484.2 472.8,484.5 471.2,484.8 469.7,484.9" stroke="#681db1"/><polyline points="469.7,484.9 468.1,485 466.5,485 464.9,485 463.4,484.8 461.8,484.6 460.3,484.4" stroke="#671eb2"/><polyline points="460.3,484.4 458.7,484 457.2,483.6 455.7,483.1 454.2,482.5 452.8,481.9 451.4,481.2" stroke="#651eb3"/><polyline points="451.4,481.2 450,480.5 448.7,479.6" stroke="#641eb4"/></g><rect x="462.6" y="446.4" width="8" height="8" fill="#b8107a" transform="rotate(40 466.6 450.4)"/><circle cx="466.7" cy="450.6" r="7.2" fill="none" stroke="#b8107a" stroke-width="1.5" stroke-dasharray="1.5,1"/><g fill="#b8107a"><circle cx="473.9" cy="450.6" r="0.9"/><circle cx="473.4" cy="453.4" r="0.9"/><circle cx="471.8" cy="455.7" r="0.9"/><circle cx="469.5" cy="457.3" r="0.9"/><circle cx="466.7" cy="457.8" r="0.9"/><circle cx="463.9" cy="457.3" r="0.9"/><circle cx="461.6" cy="455.7" r="0.9"/><circle cx="460" cy="453.4" r="0.9"/><circle cx="459.5" cy="450.6" r="0.9"/><circle cx="460" cy="447.8" r="0.9"/><circle cx="461.6" cy="445.5" r="0.9"/><circle cx="463.9" cy="443.9" r="0.9"/><circle cx="466.7" cy="443.4" r="0.9"/><circle cx="469.5" cy="443.9" r="0.9"/><circle cx="471.8" cy="445.5" r="0.9"/><circle cx="473.4" cy="447.8" r="0.9"/></g></svg></body></html>
